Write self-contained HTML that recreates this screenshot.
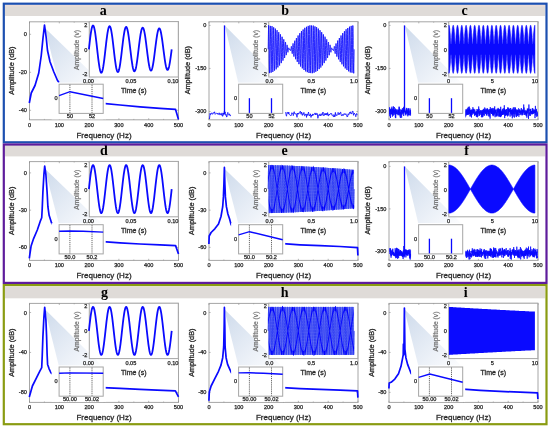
<!DOCTYPE html>
<html><head><meta charset="utf-8"><title>Figure</title>
<style>html,body{margin:0;padding:0;background:#fff;width:550px;height:428px;overflow:hidden}svg{display:block}</style>
</head><body>
<svg width="550" height="428" viewBox="0 0 550 428" font-family="'Liberation Sans', Arial, sans-serif">
<style>
.tk{font-size:5.6px;fill:#222;stroke:#222;stroke-width:0.25px}
.ax8{font-size:8px;fill:#2a2a2a;stroke:#2a2a2a;stroke-width:0.3px}
.ax7{font-size:7px;fill:#2a2a2a;stroke:#2a2a2a;stroke-width:0.3px}
.ax73{font-size:7.3px;fill:#2a2a2a;stroke:#2a2a2a;stroke-width:0.3px}
.av{font-size:6.8px;fill:#6e6e6e;stroke:#6e6e6e;stroke-width:0.2px}
</style>
<defs>
<linearGradient id="tri" gradientUnits="objectBoundingBox" x1="0" y1="0.1" x2="0.9" y2="1">
<stop offset="0" stop-color="#d0dcec"/>
<stop offset="1" stop-color="#fbfcfe"/>
</linearGradient>
</defs>
<rect width="550" height="428" fill="#fff"/>
<rect x="4.8" y="5.8" width="540.4" height="10.20" fill="#dfdbd8"/>
<rect x="4.8" y="5.0" width="540.4" height="1.6" fill="#ecdcd6"/>
<text x="103.3" y="14.70" font-family="'Liberation Serif', serif" font-weight="bold" font-size="14" text-anchor="middle" fill="#000">a</text>
<text x="285.2" y="14.70" font-family="'Liberation Serif', serif" font-weight="bold" font-size="14" text-anchor="middle" fill="#000">b</text>
<text x="464.6" y="14.70" font-family="'Liberation Serif', serif" font-weight="bold" font-size="14" text-anchor="middle" fill="#000">c</text>
<rect x="4.8" y="145.0" width="540.4" height="11.40" fill="#dfdbd8"/>
<text x="104.0" y="155.10" font-family="'Liberation Serif', serif" font-weight="bold" font-size="14" text-anchor="middle" fill="#000">d</text>
<text x="284.6" y="155.10" font-family="'Liberation Serif', serif" font-weight="bold" font-size="14" text-anchor="middle" fill="#000">e</text>
<text x="466.5" y="155.10" font-family="'Liberation Serif', serif" font-weight="bold" font-size="14" text-anchor="middle" fill="#000">f</text>
<rect x="4.8" y="286.8" width="540.4" height="11.50" fill="#dfdbd8"/>
<text x="104.4" y="297.00" font-family="'Liberation Serif', serif" font-weight="bold" font-size="14" text-anchor="middle" fill="#000">g</text>
<text x="284.7" y="297.00" font-family="'Liberation Serif', serif" font-weight="bold" font-size="14" text-anchor="middle" fill="#000">h</text>
<text x="465.7" y="297.00" font-family="'Liberation Serif', serif" font-weight="bold" font-size="14" text-anchor="middle" fill="#000">i</text>
<rect x="29.5" y="21.8" width="149.0" height="98.0" fill="none" stroke="#a6a6a6" stroke-width="1"/>
<text x="26.90" y="36.30" class="tk" text-anchor="end">0</text>
<text x="26.90" y="74.30" class="tk" text-anchor="end">-20</text>
<text x="26.90" y="112.30" class="tk" text-anchor="end">-40</text>
<path d="M29.50,119.80v-1.6M29.50,21.80v1.6M44.40,119.80v-0.9M44.40,21.80v0.9M59.30,119.80v-1.6M59.30,21.80v1.6M74.20,119.80v-0.9M74.20,21.80v0.9M89.10,119.80v-1.6M89.10,21.80v1.6M104.00,119.80v-0.9M104.00,21.80v0.9M118.90,119.80v-1.6M118.90,21.80v1.6M133.80,119.80v-0.9M133.80,21.80v0.9M148.70,119.80v-1.6M148.70,21.80v1.6M163.60,119.80v-0.9M163.60,21.80v0.9M178.50,119.80v-1.6M178.50,21.80v1.6M29.50,34.30h1.6M178.50,34.30h-1.6M29.50,72.30h1.6M178.50,72.30h-1.6M29.50,110.30h1.6M178.50,110.30h-1.6" stroke="#8a8a8a" stroke-width="0.6" fill="none"/>
<text x="29.50" y="126.80" class="tk" text-anchor="middle">0</text>
<text x="59.30" y="126.80" class="tk" text-anchor="middle">100</text>
<text x="89.10" y="126.80" class="tk" text-anchor="middle">200</text>
<text x="118.90" y="126.80" class="tk" text-anchor="middle">300</text>
<text x="148.70" y="126.80" class="tk" text-anchor="middle">400</text>
<text x="178.50" y="126.80" class="tk" text-anchor="middle">500</text>
<text x="104.00" y="137.80" class="ax8" text-anchor="middle">Frequency (Hz)</text>
<text transform="translate(14.10,70.60) rotate(-90)" class="ax73" text-anchor="middle">Amplitude (dB)</text>
<polygon points="44.70,27.65 59.10,84.20 103.20,84.20" fill="url(#tri)"/>
<polyline points="29.30,103.00 31.25,93.00 35.00,85.50 38.75,73.00 41.25,55.50 43.00,38.00 44.50,25.00 46.25,38.00 47.50,50.50 50.00,61.75 53.75,71.75 57.50,80.50 59.00,82.50" fill="none" stroke="#0a0aff" stroke-width="1.7" stroke-linejoin="round"/>
<polyline points="103.00,103.40 120.00,105.00 140.00,106.80 160.00,108.30 175.50,109.30 178.50,119.50" fill="none" stroke="#0a0aff" stroke-width="1.7" stroke-linejoin="round"/>
<rect x="51.60" y="82.60" width="54.10" height="36.70" fill="#fff"/>
<rect x="59.10" y="84.20" width="44.10" height="29.20" fill="#fff" stroke="#a6a6a6" stroke-width="1"/>
<line x1="69.90" y1="84.70" x2="69.90" y2="112.90" stroke="#333" stroke-width="0.75" stroke-dasharray="1.2,0.9"/>
<text x="69.90" y="118.00" class="tk" text-anchor="middle">50</text>
<line x1="92.00" y1="84.70" x2="92.00" y2="112.90" stroke="#333" stroke-width="0.75" stroke-dasharray="1.2,0.9"/>
<text x="92.00" y="118.00" class="tk" text-anchor="middle">52</text>
<text x="57.50" y="100.10" class="tk" text-anchor="end">0</text>
<polyline points="59.10,95.60 70.00,91.70 103.20,98.50" fill="none" stroke="#0a0aff" stroke-width="1.4"/>
<rect x="209.0" y="21.8" width="149.0" height="98.0" fill="none" stroke="#a6a6a6" stroke-width="1"/>
<text x="206.40" y="27.40" class="tk" text-anchor="end">0</text>
<text x="206.40" y="70.45" class="tk" text-anchor="end">-150</text>
<text x="206.40" y="112.60" class="tk" text-anchor="end">-300</text>
<path d="M209.00,119.80v-1.6M209.00,21.80v1.6M223.90,119.80v-0.9M223.90,21.80v0.9M238.80,119.80v-1.6M238.80,21.80v1.6M253.70,119.80v-0.9M253.70,21.80v0.9M268.60,119.80v-1.6M268.60,21.80v1.6M283.50,119.80v-0.9M283.50,21.80v0.9M298.40,119.80v-1.6M298.40,21.80v1.6M313.30,119.80v-0.9M313.30,21.80v0.9M328.20,119.80v-1.6M328.20,21.80v1.6M343.10,119.80v-0.9M343.10,21.80v0.9M358.00,119.80v-1.6M358.00,21.80v1.6M209.00,25.40h1.6M358.00,25.40h-1.6M209.00,68.45h1.6M358.00,68.45h-1.6M209.00,111.50h1.6M358.00,111.50h-1.6" stroke="#8a8a8a" stroke-width="0.6" fill="none"/>
<text x="209.00" y="126.80" class="tk" text-anchor="middle">0</text>
<text x="238.80" y="126.80" class="tk" text-anchor="middle">100</text>
<text x="268.60" y="126.80" class="tk" text-anchor="middle">200</text>
<text x="298.40" y="126.80" class="tk" text-anchor="middle">300</text>
<text x="328.20" y="126.80" class="tk" text-anchor="middle">400</text>
<text x="358.00" y="126.80" class="tk" text-anchor="middle">500</text>
<text x="283.50" y="137.80" class="ax8" text-anchor="middle">Frequency (Hz)</text>
<text transform="translate(190.40,70.20) rotate(-90)" class="ax73" text-anchor="middle">Amplitude (dB)</text>
<polygon points="224.80,25.40 238.60,84.20 282.70,84.20" fill="url(#tri)"/>
<polyline points="209.5,119.0 209.8,115.8 210.1,113.3 210.4,114.5 210.6,114.6 210.9,114.5 211.2,113.9 211.5,113.0 211.8,112.8 212.1,113.4 212.4,113.7 212.6,114.3 212.9,113.8 213.2,112.8 213.5,113.2 213.8,112.5 214.1,112.9 214.3,112.8 214.6,111.8 214.9,113.6 215.2,114.4 215.5,114.0 215.8,113.6 216.1,113.3 216.3,112.9 216.6,113.3 216.9,113.6 217.2,113.6 217.5,113.1 217.8,114.1 218.1,114.5 218.3,114.0 218.6,114.0 218.9,114.0 219.2,112.8 219.5,114.2 219.8,114.9 220.1,114.9 220.3,114.6 220.6,113.6 220.9,114.0 221.2,115.1 221.5,115.2 221.8,114.1 222.0,112.9 222.3,114.8 222.6,116.3 222.9,116.1 223.2,114.3 223.5,113.0 223.8,114.6 224.0,113.4 224.3,111.5 224.6,113.0 224.9,112.2 225.2,111.9 225.5,113.6 225.8,115.3 226.0,114.5 226.3,115.2 226.6,117.1 226.9,116.8 227.2,114.8 227.5,113.4 227.8,112.4 228.0,113.1 228.3,114.7 228.6,115.0 228.9,115.0 229.2,115.2 229.5,113.8 229.7,114.2 230.0,115.4 230.3,115.8 230.6,116.0 230.9,115.1" fill="none" stroke="#0a0aff" stroke-width="0.85"/>
<polyline points="285.4,112.1 285.6,113.1 285.9,114.6 286.2,115.5 286.5,116.2 286.8,114.1 287.1,112.1 287.3,112.4 287.6,112.4 287.9,112.7 288.2,114.0 288.5,112.9 288.8,112.0 289.1,114.2 289.3,114.6 289.6,114.7 289.9,114.8 290.2,115.1 290.5,115.2 290.8,115.9 291.1,115.5 291.3,115.1 291.6,114.3 291.9,112.7 292.2,113.4 292.5,114.0 292.8,113.8 293.1,113.5 293.3,115.6 293.6,114.6 293.9,112.2 294.2,111.7 294.5,113.2 294.8,113.8 295.0,113.5 295.3,113.8 295.6,113.8 295.9,114.3 296.2,113.7 296.5,114.4 296.8,116.5 297.0,117.3 297.3,114.0 297.6,113.0 297.9,113.5 298.2,114.3 298.5,113.1 298.8,113.2 299.0,113.6 299.3,112.7 299.6,112.6 299.9,112.4 300.2,111.1 300.5,111.5 300.8,113.3 301.0,114.2 301.3,113.4 301.6,112.0 301.9,113.3 302.2,115.3 302.5,115.3 302.7,114.1 303.0,113.5 303.3,114.4 303.6,113.4 303.9,112.4 304.2,113.5 304.5,115.7 304.7,115.7 305.0,115.5 305.3,114.7 305.6,114.9 305.9,113.9 306.2,114.9 306.5,117.4 306.7,116.0 307.0,114.0 307.3,114.1 307.6,115.2 307.9,115.6 308.2,113.5 308.5,112.0 308.7,113.2 309.0,114.2 309.3,115.0 309.6,116.0 309.9,115.6 310.2,114.9 310.4,113.8 310.7,115.7 311.0,117.4 311.3,116.2 311.6,115.0 311.9,115.4 312.2,116.0 312.4,114.0 312.7,114.0 313.0,115.1 313.3,115.2 313.6,114.3 313.9,114.3 314.2,114.2 314.4,114.3 314.7,113.7 315.0,112.9 315.3,114.2 315.6,114.9 315.9,113.5 316.2,113.9 316.4,114.5 316.7,113.4 317.0,113.6 317.3,113.6 317.6,116.1 317.9,118.3 318.1,117.5 318.4,115.2 318.7,115.1 319.0,114.8 319.3,115.1 319.6,115.6 319.9,113.9 320.1,114.9 320.4,115.3 320.7,116.0 321.0,114.8 321.3,113.7 321.6,114.6 321.9,115.3 322.1,114.9 322.4,114.7 322.7,113.0 323.0,112.0 323.3,114.7 323.6,115.6 323.9,114.8 324.1,114.9 324.4,115.3 324.7,113.9 325.0,113.2 325.3,114.3 325.6,115.0 325.8,113.7 326.1,114.8 326.4,113.6 326.7,113.3 327.0,115.2 327.3,114.2 327.6,112.6 327.8,113.7 328.1,115.7 328.4,115.9 328.7,114.5 329.0,114.9 329.3,115.0 329.6,114.0 329.8,114.4 330.1,114.2 330.4,113.5 330.7,113.5 331.0,114.2 331.3,114.1 331.6,113.5 331.8,114.0 332.1,115.5 332.4,115.4 332.7,115.9 333.0,116.3 333.3,116.5 333.5,116.8 333.8,114.7 334.1,114.7 334.4,115.1 334.7,117.0 335.0,116.2 335.3,112.4 335.5,112.6 335.8,115.0 336.1,115.8 336.4,115.5 336.7,114.7 337.0,115.1 337.3,115.2 337.5,114.9 337.8,114.5 338.1,112.4 338.4,113.6 338.7,113.8 339.0,114.9 339.2,114.1 339.5,113.3 339.8,114.0 340.1,113.0 340.4,112.2 340.7,112.1 341.0,113.8 341.2,115.3 341.5,115.6 341.8,115.0 342.1,115.5 342.4,114.7 342.7,114.4 343.0,115.4 343.2,115.6 343.5,114.3 343.8,113.8 344.1,114.0 344.4,113.9 344.7,113.7 345.0,114.9 345.2,114.5 345.5,114.3 345.8,113.7 346.1,114.5 346.4,114.7 346.7,114.9 346.9,116.6 347.2,116.4 347.5,116.9 347.8,115.9 348.1,113.8 348.4,113.8 348.7,114.7 348.9,114.6 349.2,114.3 349.5,113.2 349.8,112.0 350.1,112.3 350.4,111.8 350.7,113.5 350.9,113.3 351.2,113.1 351.5,113.9 351.8,113.9 352.1,112.0 352.4,111.2 352.7,111.4 352.9,111.1 353.2,113.0 353.5,115.3 353.8,114.1 354.1,114.0 354.4,113.1 354.6,113.9 354.9,114.0 355.2,114.3 355.5,115.7 355.8,116.7 356.1,115.3 356.4,114.1 356.6,113.5 356.9,114.4 357.2,114.6 357.5,115.1" fill="none" stroke="#0a0aff" stroke-width="0.85"/>
<line x1="224.50" y1="25.40" x2="224.50" y2="114.30" stroke="#0a0aff" stroke-width="1.3"/>
<rect x="231.10" y="82.60" width="54.10" height="36.70" fill="#fff"/>
<rect x="238.60" y="84.20" width="44.10" height="29.20" fill="#fff" stroke="#a6a6a6" stroke-width="1"/>
<text x="249.40" y="118.00" class="tk" text-anchor="middle">50</text>
<text x="271.50" y="118.00" class="tk" text-anchor="middle">52</text>
<text x="237.00" y="100.10" class="tk" text-anchor="end">0</text>
<line x1="249.40" y1="98.20" x2="249.40" y2="112.90" stroke="#0a0aff" stroke-width="1.3"/>
<line x1="271.50" y1="98.20" x2="271.50" y2="112.90" stroke="#0a0aff" stroke-width="1.3"/>
<rect x="389.0" y="21.8" width="149.0" height="98.0" fill="none" stroke="#a6a6a6" stroke-width="1"/>
<text x="386.40" y="27.40" class="tk" text-anchor="end">0</text>
<text x="386.40" y="70.45" class="tk" text-anchor="end">-150</text>
<text x="386.40" y="112.60" class="tk" text-anchor="end">-300</text>
<path d="M389.00,119.80v-1.6M389.00,21.80v1.6M403.90,119.80v-0.9M403.90,21.80v0.9M418.80,119.80v-1.6M418.80,21.80v1.6M433.70,119.80v-0.9M433.70,21.80v0.9M448.60,119.80v-1.6M448.60,21.80v1.6M463.50,119.80v-0.9M463.50,21.80v0.9M478.40,119.80v-1.6M478.40,21.80v1.6M493.30,119.80v-0.9M493.30,21.80v0.9M508.20,119.80v-1.6M508.20,21.80v1.6M523.10,119.80v-0.9M523.10,21.80v0.9M538.00,119.80v-1.6M538.00,21.80v1.6M389.00,25.40h1.6M538.00,25.40h-1.6M389.00,68.45h1.6M538.00,68.45h-1.6M389.00,111.50h1.6M538.00,111.50h-1.6" stroke="#8a8a8a" stroke-width="0.6" fill="none"/>
<text x="389.00" y="126.80" class="tk" text-anchor="middle">0</text>
<text x="418.80" y="126.80" class="tk" text-anchor="middle">100</text>
<text x="448.60" y="126.80" class="tk" text-anchor="middle">200</text>
<text x="478.40" y="126.80" class="tk" text-anchor="middle">300</text>
<text x="508.20" y="126.80" class="tk" text-anchor="middle">400</text>
<text x="538.00" y="126.80" class="tk" text-anchor="middle">500</text>
<text x="463.50" y="137.80" class="ax8" text-anchor="middle">Frequency (Hz)</text>
<text transform="translate(370.40,70.20) rotate(-90)" class="ax73" text-anchor="middle">Amplitude (dB)</text>
<polygon points="404.80,25.40 418.60,84.20 462.70,84.20" fill="url(#tri)"/>
<polyline points="389.5,116.3 389.6,107.3 389.7,111.4 389.8,114.2 389.9,111.3 390.0,110.2 390.1,111.5 390.2,108.8 390.3,112.4 390.5,118.0 390.6,114.8 390.7,109.4 390.8,110.0 390.9,111.1 391.0,114.5 391.1,110.1 391.2,110.4 391.3,114.2 391.4,114.2 391.5,111.2 391.6,109.4 391.7,108.4 391.8,110.4 391.9,106.7 392.0,113.9 392.1,110.6 392.3,113.3 392.4,116.6 392.5,114.9 392.6,109.3 392.7,114.2 392.8,114.9 392.9,110.3 393.0,109.8 393.1,111.8 393.2,108.3 393.3,115.6 393.4,106.3 393.5,109.4 393.6,111.5 393.7,111.6 393.8,112.5 393.9,112.8 394.0,111.6 394.2,114.8 394.3,107.0 394.4,112.1 394.5,110.4 394.6,112.4 394.7,112.6 394.8,109.9 394.9,110.6 395.0,114.0 395.1,112.9 395.2,110.5 395.3,117.0 395.4,117.6 395.5,108.6 395.6,112.8 395.7,118.1 395.8,114.0 396.0,112.6 396.1,111.6 396.2,110.8 396.3,111.6 396.4,110.8 396.5,113.9 396.6,111.1 396.7,111.0 396.8,109.2 396.9,112.0 397.0,110.0 397.1,111.7 397.2,114.6 397.3,113.0 397.4,113.3 397.5,113.0 397.6,112.2 397.8,111.8 397.9,111.4 398.0,113.9 398.1,109.5 398.2,115.3 398.3,112.2 398.4,110.3 398.5,110.9 398.6,110.5 398.7,112.5 398.8,110.4 398.9,114.8 399.0,110.2 399.1,106.6 399.2,110.3 399.3,107.3 399.4,112.0 399.6,114.6 399.7,113.7 399.8,108.9 399.9,110.3 400.0,116.4 400.1,112.9 400.2,112.1 400.3,114.6 400.4,118.0 400.5,115.2 400.6,112.4 400.7,113.0 400.8,113.6 400.9,110.6 401.0,109.6 401.1,112.2 401.2,109.8 401.3,112.0 401.5,112.3 401.6,117.7 401.7,110.1 401.8,111.8 401.9,111.7 402.0,113.1 402.1,114.6 402.2,110.9 402.3,110.1 402.4,108.2 402.5,109.9 402.6,113.4 402.7,112.2 402.8,109.7 402.9,111.2 403.0,112.2 403.1,113.3 403.3,110.7 403.4,111.5 403.5,107.7 403.6,109.3 403.7,116.0 403.8,106.8 403.9,111.3 404.0,112.6 404.1,111.2 404.2,110.2 404.3,112.0 404.4,112.1 404.5,111.9 404.6,107.6 404.7,111.7 404.8,110.0 404.9,110.8 405.1,112.6 405.2,113.6 405.3,114.3 405.4,110.9 405.5,114.3 405.6,114.9 405.7,114.8 405.8,115.4 405.9,111.8 406.0,111.7 406.1,114.1 406.2,108.8 406.3,112.6 406.4,110.8 406.5,111.2 406.6,107.9 406.7,110.0 406.8,112.1 407.0,114.2 407.1,114.5 407.2,111.9 407.3,111.6 407.4,110.1 407.5,113.1 407.6,111.5 407.7,113.6 407.8,116.3 407.9,112.0 408.0,108.5 408.1,110.0 408.2,108.6 408.3,109.2 408.4,115.2 408.5,112.6 408.6,108.5 408.8,113.7 408.9,115.1 409.0,111.2 409.1,110.5 409.2,111.3 409.3,112.8 409.4,113.6 409.5,114.9 409.6,115.0 409.7,114.9 409.8,115.4 409.9,113.7 410.0,108.4 410.1,111.8 410.2,112.9 410.3,111.2 410.4,114.3 410.6,111.2 410.7,109.9 410.8,115.6 410.9,113.7 411.0,112.6 411.1,114.3" fill="none" stroke="#0a0aff" stroke-width="0.75"/>
<polyline points="465.2,117.6 465.4,112.3 465.5,110.6 465.6,114.0 465.7,116.4 465.8,113.3 465.9,109.2 466.0,113.0 466.1,115.4 466.2,110.9 466.3,110.2 466.4,114.5 466.5,112.4 466.6,109.5 466.7,111.2 466.8,110.3 466.9,112.8 467.0,112.4 467.1,114.9 467.3,113.8 467.4,108.3 467.5,113.1 467.6,114.3 467.7,113.2 467.8,114.6 467.9,110.8 468.0,109.8 468.1,114.3 468.2,109.5 468.3,106.9 468.4,114.6 468.5,110.4 468.6,111.4 468.7,108.7 468.8,108.9 468.9,109.3 469.1,111.2 469.2,113.0 469.3,106.6 469.4,113.9 469.5,109.3 469.6,109.5 469.7,113.7 469.8,111.9 469.9,108.4 470.0,116.5 470.1,110.0 470.2,112.7 470.3,112.6 470.4,115.5 470.5,111.0 470.6,114.5 470.7,110.3 470.9,114.8 471.0,110.3 471.1,111.2 471.2,116.7 471.3,112.9 471.4,112.4 471.5,117.5 471.6,113.0 471.7,110.1 471.8,113.9 471.9,109.3 472.0,114.8 472.1,115.0 472.2,110.7 472.3,110.6 472.4,112.5 472.5,112.1 472.7,109.8 472.8,113.5 472.9,107.2 473.0,111.1 473.1,111.1 473.2,111.4 473.3,112.8 473.4,109.2 473.5,113.5 473.6,111.7 473.7,110.5 473.8,108.8 473.9,109.3 474.0,113.0 474.1,109.8 474.2,112.3 474.3,114.6 474.4,114.6 474.6,115.8 474.7,111.4 474.8,109.5 474.9,114.5 475.0,112.8 475.1,114.8 475.2,112.1 475.3,115.0 475.4,114.1 475.5,113.8 475.6,113.3 475.7,113.1 475.8,112.7 475.9,112.6 476.0,114.5 476.1,110.9 476.2,116.3 476.4,111.8 476.5,114.5 476.6,111.9 476.7,111.5 476.8,117.0 476.9,111.4 477.0,109.0 477.1,110.4 477.2,111.3 477.3,117.3 477.4,112.6 477.5,114.3 477.6,109.7 477.7,112.9 477.8,113.7 477.9,116.4 478.0,110.4 478.2,113.5 478.3,112.8 478.4,109.6 478.5,112.1 478.6,111.5 478.7,106.5 478.8,113.5 478.9,113.4 479.0,111.0 479.1,108.9 479.2,115.7 479.3,112.7 479.4,114.5 479.5,115.5 479.6,110.8 479.7,114.0 479.8,111.5 480.0,111.9 480.1,111.9 480.2,112.1 480.3,114.8 480.4,112.4 480.5,111.7 480.6,111.4 480.7,112.9 480.8,110.0 480.9,110.9 481.0,112.0 481.1,110.7 481.2,111.8 481.3,110.6 481.4,116.9 481.5,115.3 481.6,113.2 481.7,112.0 481.9,117.4 482.0,112.9 482.1,111.9 482.2,112.8 482.3,112.8 482.4,115.5 482.5,112.1 482.6,117.1 482.7,110.0 482.8,113.8 482.9,109.7 483.0,116.5 483.1,111.3 483.2,112.0 483.3,114.3 483.4,115.1 483.5,109.4 483.7,111.3 483.8,108.8 483.9,112.4 484.0,111.9 484.1,111.3 484.2,110.5 484.3,111.2 484.4,110.3 484.5,113.4 484.6,115.7 484.7,107.5 484.8,111.8 484.9,111.1 485.0,113.3 485.1,109.8 485.2,111.7 485.3,109.6 485.5,113.8 485.6,112.3 485.7,111.7 485.8,113.0 485.9,111.5 486.0,108.4 486.1,113.5 486.2,112.8 486.3,111.7 486.4,114.5 486.5,115.0 486.6,109.5 486.7,110.2 486.8,115.8 486.9,115.5 487.0,110.3 487.1,109.3 487.2,110.6 487.4,110.9 487.5,108.3 487.6,112.2 487.7,109.0 487.8,109.2 487.9,114.3 488.0,110.5 488.1,111.9 488.2,113.6 488.3,114.1 488.4,111.3 488.5,112.2 488.6,110.1 488.7,116.3 488.8,113.7 488.9,109.5 489.0,112.1 489.2,113.8 489.3,113.3 489.4,116.5 489.5,115.4 489.6,110.8 489.7,111.9 489.8,109.0 489.9,112.7 490.0,112.5 490.1,118.6 490.2,112.3 490.3,107.1 490.4,110.5 490.5,112.4 490.6,109.1 490.7,110.0 490.8,111.2 491.0,112.9 491.1,111.7 491.2,110.0 491.3,114.0 491.4,110.8 491.5,110.9 491.6,108.8 491.7,110.2 491.8,113.7 491.9,108.2 492.0,111.9 492.1,113.8 492.2,111.2 492.3,112.7 492.4,109.4 492.5,115.2 492.6,114.7 492.8,112.7 492.9,107.9 493.0,109.6 493.1,114.4 493.2,116.2 493.3,112.8 493.4,115.1 493.5,110.6 493.6,111.6 493.7,112.1 493.8,113.1 493.9,108.4 494.0,114.4 494.1,115.3 494.2,109.3 494.3,108.8 494.4,112.9 494.5,110.5 494.7,106.4 494.8,114.0 494.9,112.5 495.0,111.0 495.1,117.2 495.2,112.4 495.3,110.3 495.4,112.3 495.5,109.6 495.6,110.3 495.7,113.0 495.8,110.8 495.9,111.0 496.0,116.1 496.1,114.2 496.2,114.0 496.3,113.4 496.5,113.3 496.6,115.6 496.7,112.1 496.8,116.6 496.9,109.8 497.0,111.5 497.1,108.8 497.2,111.3 497.3,113.3 497.4,115.6 497.5,110.5 497.6,112.1 497.7,111.2 497.8,110.3 497.9,109.2 498.0,112.2 498.1,107.9 498.3,112.4 498.4,112.2 498.5,110.5 498.6,109.7 498.7,108.8 498.8,116.6 498.9,108.9 499.0,115.8 499.1,113.5 499.2,111.2 499.3,109.3 499.4,114.6 499.5,116.3 499.6,109.9 499.7,111.4 499.8,114.6 499.9,112.9 500.1,116.9 500.2,110.7 500.3,113.4 500.4,109.1 500.5,117.1 500.6,110.3 500.7,106.8 500.8,111.8 500.9,111.8 501.0,116.7 501.1,111.3 501.2,112.1 501.3,113.5 501.4,115.9 501.5,111.9 501.6,114.6 501.7,113.3 501.8,111.4 502.0,112.3 502.1,112.2 502.2,109.9 502.3,115.0 502.4,108.8 502.5,114.9 502.6,114.4 502.7,111.9 502.8,110.3 502.9,111.6 503.0,113.2 503.1,113.9 503.2,112.8 503.3,114.5 503.4,110.8 503.5,112.7 503.6,108.3 503.8,113.9 503.9,112.5 504.0,111.1 504.1,114.9 504.2,113.8 504.3,105.3 504.4,112.2 504.5,108.6 504.6,114.7 504.7,118.1 504.8,110.9 504.9,112.3 505.0,111.5 505.1,112.9 505.2,113.6 505.3,115.2 505.4,109.7 505.6,115.9 505.7,109.9 505.8,112.8 505.9,114.9 506.0,113.8 506.1,109.8 506.2,110.4 506.3,111.0 506.4,112.0 506.5,114.9 506.6,109.0 506.7,113.2 506.8,113.6 506.9,113.4 507.0,113.2 507.1,115.7 507.2,113.3 507.3,114.2 507.5,113.5 507.6,116.4 507.7,107.5 507.8,115.2 507.9,111.5 508.0,111.4 508.1,109.8 508.2,107.6 508.3,111.2 508.4,110.5 508.5,113.3 508.6,108.6 508.7,115.5 508.8,112.8 508.9,111.5 509.0,110.4 509.1,110.2 509.3,109.4 509.4,110.8 509.5,112.1 509.6,111.7 509.7,108.7 509.8,111.5 509.9,110.0 510.0,112.5 510.1,116.6 510.2,113.6 510.3,111.3 510.4,108.2 510.5,108.7 510.6,108.1 510.7,113.8 510.8,110.3 510.9,112.3 511.1,110.6 511.2,112.3 511.3,115.5 511.4,110.5 511.5,111.3 511.6,110.2 511.7,114.2 511.8,109.6 511.9,109.4 512.0,108.8 512.1,108.7 512.2,113.2 512.3,118.3 512.4,109.7 512.5,114.4 512.6,112.7 512.7,109.5 512.9,111.4 513.0,111.5 513.1,110.4 513.2,116.7 513.3,107.5 513.4,113.0 513.5,112.9 513.6,110.7 513.7,112.5 513.8,114.2 513.9,112.5 514.0,113.1 514.1,113.8 514.2,107.2 514.3,115.6 514.4,117.6 514.5,114.5 514.6,114.5 514.8,108.7 514.9,111.8 515.0,110.2 515.1,110.7 515.2,114.4 515.3,110.2 515.4,111.8 515.5,107.5 515.6,111.7 515.7,112.3 515.8,110.4 515.9,110.4 516.0,116.6 516.1,109.2 516.2,109.6 516.3,110.2 516.4,115.0 516.6,117.1 516.7,112.9 516.8,110.4 516.9,111.1 517.0,114.7 517.1,109.9 517.2,115.6 517.3,115.5 517.4,112.3 517.5,113.7 517.6,113.9 517.7,115.8 517.8,109.6 517.9,114.9 518.0,111.2 518.1,110.3 518.2,112.3 518.4,111.6 518.5,109.7 518.6,108.3 518.7,109.8 518.8,115.6 518.9,116.8 519.0,113.7 519.1,114.9 519.2,110.9 519.3,111.9 519.4,112.8 519.5,109.5 519.6,109.7 519.7,112.3 519.8,111.3 519.9,109.5 520.0,113.0 520.2,111.5 520.3,114.6 520.4,112.1 520.5,111.4 520.6,112.4 520.7,111.7 520.8,110.5 520.9,111.1 521.0,113.9 521.1,113.7 521.2,115.2 521.3,108.0 521.4,111.2 521.5,111.1 521.6,112.5 521.7,111.0 521.8,110.9 521.9,114.0 522.1,112.5 522.2,109.3 522.3,115.3 522.4,114.5 522.5,110.7 522.6,114.1 522.7,110.3 522.8,114.8 522.9,111.6 523.0,110.2 523.1,111.2 523.2,110.3 523.3,112.6 523.4,112.5 523.5,112.2 523.6,110.8 523.7,104.5 523.9,112.3 524.0,107.5 524.1,112.7 524.2,114.8 524.3,112.8 524.4,111.2 524.5,111.7 524.6,111.8 524.7,110.8 524.8,110.7 524.9,109.9 525.0,115.0 525.1,112.1 525.2,114.4 525.3,111.5 525.4,112.3 525.5,111.7 525.7,113.2 525.8,114.1 525.9,112.7 526.0,110.5 526.1,110.2 526.2,116.1 526.3,111.4 526.4,111.4 526.5,115.6 526.6,114.7 526.7,113.4 526.8,111.1 526.9,117.7 527.0,113.0 527.1,113.4 527.2,111.7 527.3,108.7 527.4,108.9 527.6,113.1 527.7,113.0 527.8,111.5 527.9,109.3 528.0,108.6 528.1,111.3 528.2,108.6 528.3,114.3 528.4,114.9 528.5,118.9 528.6,114.2 528.7,110.7 528.8,110.0 528.9,104.5 529.0,110.7 529.1,111.7 529.2,114.4 529.4,113.6 529.5,113.5 529.6,112.6 529.7,113.7 529.8,115.6 529.9,109.5 530.0,111.0 530.1,108.8 530.2,116.0 530.3,115.2 530.4,113.9 530.5,109.2 530.6,112.5 530.7,111.5 530.8,112.3 530.9,111.6 531.0,113.3 531.2,111.2 531.3,114.2 531.4,112.7 531.5,111.4 531.6,111.8 531.7,111.0 531.8,114.1 531.9,111.4 532.0,112.8 532.1,111.2 532.2,108.5 532.3,114.3 532.4,109.6 532.5,113.7 532.6,113.1 532.7,108.1 532.8,109.8 533.0,110.9 533.1,110.1 533.2,109.3 533.3,113.9 533.4,111.5 533.5,113.0 533.6,111.1 533.7,112.8 533.8,110.3 533.9,112.0 534.0,113.5 534.1,112.2 534.2,111.0 534.3,109.5 534.4,112.5 534.5,112.9 534.6,111.5 534.7,110.3 534.9,113.4 535.0,118.1 535.1,111.4 535.2,112.9 535.3,113.0 535.4,105.9 535.5,112.4 535.6,110.4 535.7,115.4 535.8,111.5 535.9,110.2 536.0,111.6 536.1,112.5 536.2,110.8 536.3,112.0 536.4,108.9 536.5,111.6 536.7,114.0 536.8,116.8 536.9,113.8 537.0,112.8 537.1,114.9 537.2,114.5 537.3,116.1 537.4,114.7 537.5,111.8" fill="none" stroke="#0a0aff" stroke-width="0.75"/>
<line x1="404.50" y1="25.40" x2="404.50" y2="112.10" stroke="#0a0aff" stroke-width="1.3"/>
<rect x="411.10" y="82.60" width="54.10" height="36.70" fill="#fff"/>
<rect x="418.60" y="84.20" width="44.10" height="29.20" fill="#fff" stroke="#a6a6a6" stroke-width="1"/>
<text x="429.40" y="118.00" class="tk" text-anchor="middle">50</text>
<text x="451.50" y="118.00" class="tk" text-anchor="middle">52</text>
<text x="417.00" y="100.10" class="tk" text-anchor="end">0</text>
<line x1="429.40" y1="98.20" x2="429.40" y2="112.90" stroke="#0a0aff" stroke-width="1.3"/>
<line x1="451.50" y1="98.20" x2="451.50" y2="112.90" stroke="#0a0aff" stroke-width="1.3"/>
<rect x="29.5" y="161.6" width="149.0" height="98.79999999999998" fill="none" stroke="#a6a6a6" stroke-width="1"/>
<text x="26.90" y="174.90" class="tk" text-anchor="end">0</text>
<text x="26.90" y="212.15" class="tk" text-anchor="end">-30</text>
<text x="26.90" y="249.40" class="tk" text-anchor="end">-60</text>
<path d="M29.50,260.40v-1.6M29.50,161.60v1.6M44.40,260.40v-0.9M44.40,161.60v0.9M59.30,260.40v-1.6M59.30,161.60v1.6M74.20,260.40v-0.9M74.20,161.60v0.9M89.10,260.40v-1.6M89.10,161.60v1.6M104.00,260.40v-0.9M104.00,161.60v0.9M118.90,260.40v-1.6M118.90,161.60v1.6M133.80,260.40v-0.9M133.80,161.60v0.9M148.70,260.40v-1.6M148.70,161.60v1.6M163.60,260.40v-0.9M163.60,161.60v0.9M178.50,260.40v-1.6M178.50,161.60v1.6M29.50,172.90h1.6M178.50,172.90h-1.6M29.50,210.15h1.6M178.50,210.15h-1.6M29.50,247.40h1.6M178.50,247.40h-1.6" stroke="#8a8a8a" stroke-width="0.6" fill="none"/>
<text x="29.50" y="267.40" class="tk" text-anchor="middle">0</text>
<text x="59.30" y="267.40" class="tk" text-anchor="middle">100</text>
<text x="89.10" y="267.40" class="tk" text-anchor="middle">200</text>
<text x="118.90" y="267.40" class="tk" text-anchor="middle">300</text>
<text x="148.70" y="267.40" class="tk" text-anchor="middle">400</text>
<text x="178.50" y="267.40" class="tk" text-anchor="middle">500</text>
<text x="104.00" y="278.40" class="ax8" text-anchor="middle">Frequency (Hz)</text>
<text transform="translate(14.10,210.80) rotate(-90)" class="ax73" text-anchor="middle">Amplitude (dB)</text>
<polygon points="44.70,168.55 59.10,224.70 103.20,224.70" fill="url(#tri)"/>
<polyline points="29.30,258.30 31.10,246.00 33.60,238.60 37.30,230.00 40.20,221.40 41.70,217.70 42.20,209.00 42.90,192.00 43.90,174.70 44.70,166.10 45.90,174.70 47.10,192.00 47.90,206.70 49.10,215.30 51.50,222.70 53.00,225.00" fill="none" stroke="#0a0aff" stroke-width="1.7" stroke-linejoin="round"/>
<polyline points="103.00,241.70 120.00,242.90 140.00,244.00 160.00,244.90 175.60,245.60 178.50,254.00" fill="none" stroke="#0a0aff" stroke-width="1.7" stroke-linejoin="round"/>
<rect x="51.60" y="223.10" width="54.10" height="36.80" fill="#fff"/>
<rect x="59.10" y="224.70" width="44.10" height="29.20" fill="#fff" stroke="#a6a6a6" stroke-width="1"/>
<line x1="69.90" y1="225.20" x2="69.90" y2="253.40" stroke="#333" stroke-width="0.75" stroke-dasharray="1.2,0.9"/>
<text x="69.90" y="258.50" class="tk" text-anchor="middle">50.0</text>
<line x1="92.00" y1="225.20" x2="92.00" y2="253.40" stroke="#333" stroke-width="0.75" stroke-dasharray="1.2,0.9"/>
<text x="92.00" y="258.50" class="tk" text-anchor="middle">50.2</text>
<text x="57.50" y="240.60" class="tk" text-anchor="end">0</text>
<polyline points="59.10,231.20 70.00,231.00 83.10,231.30 103.20,232.10" fill="none" stroke="#0a0aff" stroke-width="1.4"/>
<rect x="209.0" y="161.6" width="149.0" height="98.79999999999998" fill="none" stroke="#a6a6a6" stroke-width="1"/>
<text x="206.40" y="174.90" class="tk" text-anchor="end">0</text>
<text x="206.40" y="212.15" class="tk" text-anchor="end">-30</text>
<text x="206.40" y="249.40" class="tk" text-anchor="end">-60</text>
<path d="M209.00,260.40v-1.6M209.00,161.60v1.6M223.90,260.40v-0.9M223.90,161.60v0.9M238.80,260.40v-1.6M238.80,161.60v1.6M253.70,260.40v-0.9M253.70,161.60v0.9M268.60,260.40v-1.6M268.60,161.60v1.6M283.50,260.40v-0.9M283.50,161.60v0.9M298.40,260.40v-1.6M298.40,161.60v1.6M313.30,260.40v-0.9M313.30,161.60v0.9M328.20,260.40v-1.6M328.20,161.60v1.6M343.10,260.40v-0.9M343.10,161.60v0.9M358.00,260.40v-1.6M358.00,161.60v1.6M209.00,172.90h1.6M358.00,172.90h-1.6M209.00,210.15h1.6M358.00,210.15h-1.6M209.00,247.40h1.6M358.00,247.40h-1.6" stroke="#8a8a8a" stroke-width="0.6" fill="none"/>
<text x="209.00" y="267.40" class="tk" text-anchor="middle">0</text>
<text x="238.80" y="267.40" class="tk" text-anchor="middle">100</text>
<text x="268.60" y="267.40" class="tk" text-anchor="middle">200</text>
<text x="298.40" y="267.40" class="tk" text-anchor="middle">300</text>
<text x="328.20" y="267.40" class="tk" text-anchor="middle">400</text>
<text x="358.00" y="267.40" class="tk" text-anchor="middle">500</text>
<text x="283.50" y="278.40" class="ax8" text-anchor="middle">Frequency (Hz)</text>
<text transform="translate(193.60,210.80) rotate(-90)" class="ax73" text-anchor="middle">Amplitude (dB)</text>
<polygon points="224.20,168.55 238.60,224.70 282.70,224.70" fill="url(#tri)"/>
<polyline points="208.90,244.00 209.20,236.00 211.10,232.50 214.80,228.80 218.50,223.90 221.00,216.50 222.70,206.70 223.40,196.90 223.90,184.60 224.40,167.40 224.90,184.60 225.40,196.90 226.40,206.70 227.90,214.00 229.60,219.00 231.00,224.40 232.00,226.00" fill="none" stroke="#0a0aff" stroke-width="1.7" stroke-linejoin="round"/>
<polyline points="283.00,243.70 300.00,244.80 320.00,245.70 340.00,246.50 357.50,247.60 357.90,255.50" fill="none" stroke="#0a0aff" stroke-width="1.7" stroke-linejoin="round"/>
<rect x="231.10" y="223.10" width="54.10" height="36.80" fill="#fff"/>
<rect x="238.60" y="224.70" width="44.10" height="29.20" fill="#fff" stroke="#a6a6a6" stroke-width="1"/>
<line x1="249.40" y1="225.20" x2="249.40" y2="253.40" stroke="#333" stroke-width="0.75" stroke-dasharray="1.2,0.9"/>
<text x="249.40" y="258.50" class="tk" text-anchor="middle">50.0</text>
<line x1="271.50" y1="225.20" x2="271.50" y2="253.40" stroke="#333" stroke-width="0.75" stroke-dasharray="1.2,0.9"/>
<text x="271.50" y="258.50" class="tk" text-anchor="middle">50.2</text>
<text x="237.00" y="240.60" class="tk" text-anchor="end">0</text>
<polyline points="238.60,234.80 249.50,231.70 282.70,239.80" fill="none" stroke="#0a0aff" stroke-width="1.4"/>
<rect x="389.0" y="161.6" width="149.0" height="98.79999999999998" fill="none" stroke="#a6a6a6" stroke-width="1"/>
<text x="386.40" y="168.40" class="tk" text-anchor="end">0</text>
<text x="386.40" y="210.90" class="tk" text-anchor="end">-150</text>
<text x="386.40" y="253.40" class="tk" text-anchor="end">-300</text>
<path d="M389.00,260.40v-1.6M389.00,161.60v1.6M403.90,260.40v-0.9M403.90,161.60v0.9M418.80,260.40v-1.6M418.80,161.60v1.6M433.70,260.40v-0.9M433.70,161.60v0.9M448.60,260.40v-1.6M448.60,161.60v1.6M463.50,260.40v-0.9M463.50,161.60v0.9M478.40,260.40v-1.6M478.40,161.60v1.6M493.30,260.40v-0.9M493.30,161.60v0.9M508.20,260.40v-1.6M508.20,161.60v1.6M523.10,260.40v-0.9M523.10,161.60v0.9M538.00,260.40v-1.6M538.00,161.60v1.6M389.00,166.40h1.6M538.00,166.40h-1.6M389.00,208.90h1.6M538.00,208.90h-1.6M389.00,251.40h1.6M538.00,251.40h-1.6" stroke="#8a8a8a" stroke-width="0.6" fill="none"/>
<text x="389.00" y="267.40" class="tk" text-anchor="middle">0</text>
<text x="418.80" y="267.40" class="tk" text-anchor="middle">100</text>
<text x="448.60" y="267.40" class="tk" text-anchor="middle">200</text>
<text x="478.40" y="267.40" class="tk" text-anchor="middle">300</text>
<text x="508.20" y="267.40" class="tk" text-anchor="middle">400</text>
<text x="538.00" y="267.40" class="tk" text-anchor="middle">500</text>
<text x="463.50" y="278.40" class="ax8" text-anchor="middle">Frequency (Hz)</text>
<text transform="translate(370.40,210.40) rotate(-90)" class="ax73" text-anchor="middle">Amplitude (dB)</text>
<polygon points="404.80,166.40 418.60,224.70 462.70,224.70" fill="url(#tri)"/>
<polyline points="389.5,253.8 389.6,253.6 389.7,253.9 389.8,253.7 389.9,251.3 390.0,248.2 390.1,251.6 390.2,248.3 390.3,253.4 390.5,253.2 390.6,249.2 390.7,254.9 390.8,255.3 390.9,253.4 391.0,257.2 391.1,257.7 391.2,250.3 391.3,255.7 391.4,254.3 391.5,254.2 391.6,255.4 391.7,251.5 391.8,251.8 391.9,251.2 392.0,251.4 392.1,253.0 392.3,249.7 392.4,250.7 392.5,254.6 392.6,253.0 392.7,254.1 392.8,248.7 392.9,251.3 393.0,251.9 393.1,253.3 393.2,251.8 393.3,255.4 393.4,253.1 393.5,253.2 393.6,253.2 393.7,254.9 393.8,252.1 393.9,255.9 394.0,254.3 394.2,253.6 394.3,253.3 394.4,254.4 394.5,255.6 394.6,255.5 394.7,254.1 394.8,255.3 394.9,253.5 395.0,256.2 395.1,253.1 395.2,248.2 395.3,256.4 395.4,253.5 395.5,250.4 395.6,252.7 395.7,251.1 395.8,258.2 396.0,254.4 396.1,249.4 396.2,254.5 396.3,252.2 396.4,257.8 396.5,250.7 396.6,247.8 396.7,253.4 396.8,252.4 396.9,252.2 397.0,248.1 397.1,254.2 397.2,257.2 397.3,248.6 397.4,256.0 397.5,251.8 397.6,258.8 397.8,254.2 397.9,252.7 398.0,255.9 398.1,254.5 398.2,251.8 398.3,254.9 398.4,252.0 398.5,248.9 398.6,258.1 398.7,252.4 398.8,251.7 398.9,254.0 399.0,249.5 399.1,250.0 399.2,252.0 399.3,252.0 399.4,253.4 399.6,255.9 399.7,252.1 399.8,254.4 399.9,254.6 400.0,250.6 400.1,253.7 400.2,250.9 400.3,255.8 400.4,254.3 400.5,253.2 400.6,250.0 400.7,253.5 400.8,251.4 400.9,254.9 401.0,252.9 401.1,251.3 401.2,255.4 401.3,254.9 401.5,251.8 401.6,256.0 401.7,252.5 401.8,252.5 401.9,253.5 402.0,251.4 402.1,252.1 402.2,252.8 402.3,256.9 402.4,256.8 402.5,252.6 402.6,257.1 402.7,253.1 402.8,254.1 402.9,255.3 403.0,253.9 403.1,259.0 403.3,253.8 403.4,250.3 403.5,256.3 403.6,252.2 403.7,252.5 403.8,246.0 403.9,255.6 404.0,255.2 404.1,255.1 404.2,255.5 404.3,257.3 404.4,253.1 404.5,255.5 404.6,251.4 404.7,252.4 404.8,255.7 404.9,254.1 405.1,250.0 405.2,254.1 405.3,252.8 405.4,251.2 405.5,254.2 405.6,252.2 405.7,249.4 405.8,250.5 405.9,257.4 406.0,249.6 406.1,253.7 406.2,254.7 406.3,254.7 406.4,250.3 406.5,252.4 406.6,253.5 406.7,255.1 406.8,251.7 407.0,250.4 407.1,255.6 407.2,255.9 407.3,254.1 407.4,251.7 407.5,254.2 407.6,253.5 407.7,255.2 407.8,250.2 407.9,253.5 408.0,252.8 408.1,250.5 408.2,253.7 408.3,253.3 408.4,252.2 408.5,254.2 408.6,249.8 408.8,253.1 408.9,254.2 409.0,253.9 409.1,255.8 409.2,250.3 409.3,249.6 409.4,253.8 409.5,254.3 409.6,258.3 409.7,254.7 409.8,251.1 409.9,255.1 410.0,251.2 410.1,249.6 410.2,259.5 410.3,254.0 410.4,254.9 410.6,254.6 410.7,257.5 410.8,253.9 410.9,256.1 411.0,250.7 411.1,249.9" fill="none" stroke="#0a0aff" stroke-width="0.75"/>
<polyline points="465.2,253.3 465.4,255.3 465.5,256.4 465.6,255.6 465.7,251.7 465.8,252.8 465.9,253.5 466.0,250.8 466.1,254.3 466.2,255.7 466.3,252.0 466.4,257.9 466.5,252.5 466.6,252.7 466.7,252.6 466.8,251.5 466.9,254.2 467.0,253.2 467.1,257.2 467.3,254.7 467.4,254.5 467.5,252.7 467.6,249.8 467.7,253.0 467.8,251.2 467.9,255.5 468.0,253.1 468.1,257.2 468.2,255.0 468.3,255.2 468.4,253.8 468.5,253.7 468.6,254.8 468.7,255.4 468.8,251.5 468.9,254.4 469.1,259.5 469.2,253.0 469.3,252.6 469.4,251.5 469.5,249.7 469.6,256.1 469.7,253.3 469.8,253.9 469.9,257.6 470.0,259.2 470.1,251.1 470.2,255.7 470.3,254.7 470.4,254.2 470.5,254.4 470.6,253.1 470.7,257.0 470.9,254.7 471.0,254.0 471.1,256.2 471.2,255.4 471.3,254.3 471.4,254.0 471.5,257.4 471.6,254.4 471.7,253.0 471.8,251.1 471.9,252.4 472.0,250.7 472.1,253.5 472.2,253.8 472.3,248.3 472.4,253.3 472.5,254.8 472.7,253.6 472.8,250.9 472.9,256.3 473.0,251.5 473.1,250.3 473.2,250.6 473.3,253.2 473.4,255.6 473.5,256.0 473.6,253.7 473.7,250.3 473.8,251.6 473.9,251.1 474.0,252.8 474.1,248.9 474.2,253.5 474.3,254.8 474.4,252.8 474.6,254.3 474.7,251.0 474.8,249.7 474.9,251.7 475.0,256.0 475.1,255.7 475.2,252.1 475.3,256.1 475.4,252.4 475.5,256.8 475.6,254.4 475.7,252.1 475.8,255.1 475.9,251.3 476.0,251.0 476.1,249.7 476.2,253.8 476.4,253.1 476.5,253.0 476.6,252.2 476.7,256.7 476.8,252.2 476.9,251.5 477.0,256.2 477.1,256.6 477.2,254.0 477.3,249.0 477.4,251.8 477.5,254.7 477.6,253.2 477.7,256.9 477.8,249.9 477.9,254.8 478.0,251.7 478.2,256.4 478.3,253.0 478.4,255.7 478.5,251.6 478.6,249.8 478.7,250.5 478.8,251.7 478.9,250.7 479.0,256.1 479.1,256.4 479.2,253.9 479.3,250.7 479.4,252.9 479.5,251.6 479.6,256.7 479.7,254.0 479.8,254.4 480.0,252.2 480.1,248.4 480.2,251.3 480.3,250.5 480.4,254.1 480.5,253.4 480.6,251.3 480.7,252.3 480.8,257.0 480.9,250.9 481.0,251.0 481.1,252.7 481.2,251.5 481.3,252.2 481.4,254.5 481.5,257.4 481.6,248.9 481.7,253.2 481.9,253.3 482.0,253.0 482.1,252.8 482.2,252.4 482.3,255.6 482.4,252.1 482.5,252.9 482.6,253.2 482.7,253.5 482.8,252.8 482.9,255.6 483.0,253.2 483.1,253.6 483.2,253.1 483.3,250.8 483.4,251.2 483.5,250.7 483.7,253.7 483.8,251.5 483.9,250.7 484.0,253.8 484.1,254.5 484.2,249.0 484.3,257.3 484.4,253.3 484.5,252.9 484.6,255.8 484.7,253.4 484.8,251.8 484.9,258.5 485.0,250.6 485.1,253.0 485.2,255.2 485.3,250.6 485.5,253.0 485.6,254.1 485.7,259.0 485.8,251.1 485.9,253.1 486.0,254.8 486.1,253.4 486.2,250.3 486.3,254.2 486.4,253.5 486.5,254.3 486.6,255.9 486.7,255.6 486.8,254.2 486.9,253.9 487.0,250.6 487.1,252.9 487.2,253.7 487.4,252.2 487.5,253.4 487.6,251.2 487.7,256.9 487.8,258.4 487.9,252.3 488.0,254.2 488.1,252.6 488.2,256.2 488.3,254.2 488.4,253.4 488.5,252.7 488.6,253.5 488.7,250.8 488.8,254.8 488.9,251.5 489.0,254.5 489.2,253.5 489.3,255.8 489.4,253.2 489.5,255.7 489.6,251.0 489.7,254.7 489.8,252.7 489.9,253.7 490.0,253.4 490.1,255.4 490.2,248.4 490.3,254.0 490.4,249.6 490.5,256.1 490.6,248.5 490.7,250.8 490.8,249.2 491.0,257.1 491.1,250.1 491.2,253.5 491.3,251.9 491.4,248.9 491.5,252.4 491.6,254.8 491.7,252.8 491.8,255.5 491.9,252.3 492.0,253.2 492.1,252.3 492.2,254.0 492.3,257.8 492.4,254.1 492.5,253.7 492.6,251.7 492.8,251.4 492.9,256.7 493.0,250.5 493.1,251.0 493.2,253.0 493.3,252.2 493.4,257.9 493.5,247.5 493.6,254.1 493.7,254.9 493.8,250.5 493.9,251.7 494.0,254.2 494.1,257.1 494.2,251.0 494.3,249.4 494.4,255.5 494.5,256.9 494.7,252.4 494.8,247.9 494.9,256.7 495.0,252.7 495.1,255.9 495.2,253.1 495.3,252.3 495.4,252.1 495.5,256.7 495.6,256.6 495.7,248.1 495.8,251.0 495.9,257.5 496.0,252.3 496.1,249.9 496.2,253.2 496.3,252.9 496.5,253.0 496.6,252.0 496.7,252.5 496.8,252.1 496.9,254.0 497.0,251.2 497.1,252.5 497.2,252.9 497.3,256.3 497.4,254.1 497.5,252.9 497.6,254.5 497.7,254.2 497.8,255.8 497.9,254.4 498.0,257.5 498.1,256.4 498.3,253.1 498.4,252.2 498.5,255.3 498.6,254.4 498.7,253.0 498.8,249.7 498.9,248.8 499.0,254.0 499.1,255.1 499.2,255.1 499.3,250.1 499.4,255.7 499.5,251.9 499.6,254.1 499.7,254.2 499.8,251.3 499.9,251.8 500.1,248.2 500.2,251.0 500.3,248.9 500.4,254.2 500.5,253.3 500.6,255.4 500.7,254.1 500.8,251.7 500.9,254.0 501.0,252.3 501.1,254.7 501.2,254.0 501.3,250.8 501.4,253.2 501.5,253.3 501.6,252.5 501.7,255.3 501.8,257.3 502.0,252.3 502.1,252.4 502.2,247.8 502.3,252.9 502.4,252.2 502.5,248.0 502.6,253.9 502.7,254.6 502.8,251.4 502.9,252.3 503.0,250.9 503.1,255.0 503.2,249.6 503.3,252.4 503.4,257.9 503.5,253.3 503.6,254.3 503.8,252.8 503.9,250.4 504.0,253.1 504.1,254.2 504.2,250.7 504.3,254.0 504.4,256.2 504.5,255.8 504.6,249.4 504.7,250.9 504.8,249.3 504.9,255.8 505.0,254.7 505.1,254.9 505.2,251.1 505.3,250.4 505.4,253.4 505.6,253.4 505.7,251.1 505.8,253.5 505.9,254.7 506.0,253.7 506.1,250.7 506.2,248.1 506.3,252.6 506.4,253.6 506.5,252.6 506.6,252.2 506.7,251.5 506.8,254.9 506.9,253.1 507.0,253.5 507.1,250.9 507.2,251.7 507.3,253.6 507.5,250.8 507.6,250.2 507.7,252.4 507.8,256.1 507.9,253.7 508.0,256.7 508.1,252.9 508.2,252.5 508.3,249.9 508.4,251.8 508.5,256.6 508.6,254.0 508.7,255.0 508.8,254.9 508.9,253.2 509.0,252.7 509.1,253.5 509.3,254.8 509.4,254.3 509.5,254.4 509.6,253.6 509.7,251.4 509.8,252.6 509.9,250.9 510.0,255.6 510.1,248.2 510.2,252.7 510.3,258.9 510.4,252.4 510.5,250.5 510.6,253.2 510.7,256.3 510.8,252.8 510.9,254.7 511.1,253.4 511.2,252.3 511.3,259.6 511.4,253.4 511.5,251.9 511.6,252.0 511.7,254.1 511.8,254.2 511.9,255.1 512.0,253.5 512.1,249.8 512.2,254.5 512.3,252.5 512.4,252.5 512.5,249.6 512.6,251.8 512.7,251.5 512.9,253.1 513.0,249.7 513.1,253.3 513.2,253.5 513.3,250.5 513.4,251.7 513.5,251.1 513.6,255.4 513.7,247.1 513.8,252.4 513.9,249.2 514.0,252.2 514.1,255.2 514.2,251.7 514.3,253.5 514.4,251.2 514.5,257.9 514.6,255.4 514.8,255.9 514.9,250.0 515.0,250.6 515.1,255.8 515.2,252.7 515.3,252.6 515.4,254.0 515.5,250.2 515.6,255.1 515.7,253.2 515.8,254.4 515.9,251.6 516.0,254.4 516.1,251.5 516.2,255.5 516.3,255.9 516.4,255.4 516.6,254.4 516.7,254.7 516.8,246.7 516.9,255.2 517.0,252.5 517.1,253.4 517.2,252.5 517.3,249.9 517.4,251.9 517.5,254.8 517.6,256.6 517.7,251.7 517.8,251.0 517.9,256.7 518.0,251.1 518.1,258.2 518.2,253.3 518.4,251.1 518.5,255.6 518.6,257.3 518.7,249.8 518.8,256.9 518.9,252.5 519.0,256.8 519.1,252.3 519.2,249.4 519.3,254.4 519.4,255.4 519.5,258.2 519.6,257.3 519.7,254.9 519.8,252.6 519.9,252.0 520.0,252.5 520.2,251.2 520.3,252.5 520.4,247.1 520.5,253.6 520.6,253.1 520.7,259.4 520.8,255.0 520.9,252.0 521.0,254.6 521.1,250.3 521.2,251.8 521.3,248.7 521.4,256.6 521.5,254.6 521.6,250.4 521.7,253.1 521.8,255.5 521.9,254.4 522.1,254.1 522.2,251.1 522.3,251.7 522.4,253.4 522.5,255.4 522.6,251.2 522.7,250.5 522.8,255.9 522.9,251.0 523.0,255.8 523.1,253.8 523.2,255.3 523.3,257.4 523.4,254.9 523.5,255.1 523.6,251.0 523.7,251.5 523.9,254.7 524.0,256.9 524.1,256.5 524.2,258.8 524.3,253.9 524.4,253.7 524.5,255.6 524.6,253.2 524.7,253.1 524.8,250.7 524.9,255.6 525.0,250.6 525.1,254.4 525.2,249.8 525.3,255.8 525.4,250.7 525.5,255.2 525.7,249.4 525.8,252.1 525.9,256.0 526.0,251.3 526.1,253.4 526.2,252.1 526.3,247.7 526.4,253.9 526.5,254.2 526.6,250.5 526.7,254.6 526.8,251.3 526.9,250.8 527.0,253.2 527.1,251.6 527.2,258.7 527.3,249.5 527.4,255.0 527.6,255.6 527.7,248.4 527.8,249.0 527.9,254.5 528.0,252.0 528.1,254.1 528.2,255.9 528.3,252.3 528.4,250.6 528.5,246.6 528.6,253.7 528.7,251.0 528.8,254.0 528.9,253.8 529.0,249.9 529.1,257.3 529.2,255.8 529.4,255.2 529.5,250.4 529.6,252.2 529.7,251.9 529.8,252.2 529.9,250.5 530.0,254.2 530.1,253.8 530.2,254.1 530.3,252.0 530.4,256.3 530.5,253.7 530.6,246.6 530.7,251.7 530.8,253.1 530.9,255.5 531.0,252.5 531.2,252.6 531.3,251.6 531.4,254.8 531.5,252.1 531.6,251.8 531.7,251.4 531.8,254.5 531.9,251.9 532.0,249.2 532.1,254.7 532.2,251.5 532.3,254.1 532.4,254.1 532.5,256.1 532.6,255.7 532.7,251.8 532.8,252.8 533.0,250.1 533.1,257.2 533.2,254.3 533.3,256.5 533.4,252.4 533.5,248.3 533.6,256.9 533.7,253.4 533.8,253.5 533.9,253.3 534.0,254.7 534.1,254.5 534.2,249.4 534.3,255.8 534.4,251.9 534.5,252.1 534.6,257.3 534.7,255.4 534.9,252.4 535.0,248.7 535.1,253.6 535.2,254.5 535.3,253.0 535.4,250.2 535.5,251.3 535.6,250.2 535.7,253.7 535.8,255.2 535.9,255.7 536.0,251.4 536.1,253.8 536.2,254.5 536.3,252.0 536.4,252.8 536.5,258.3 536.7,253.7 536.8,255.3 536.9,252.2 537.0,253.3 537.1,249.1 537.2,253.1 537.3,256.1 537.4,258.2 537.5,256.1" fill="none" stroke="#0a0aff" stroke-width="0.75"/>
<line x1="404.50" y1="166.40" x2="404.50" y2="253.20" stroke="#0a0aff" stroke-width="1.3"/>
<rect x="411.10" y="223.10" width="54.10" height="36.80" fill="#fff"/>
<rect x="418.60" y="224.70" width="44.10" height="29.20" fill="#fff" stroke="#a6a6a6" stroke-width="1"/>
<text x="429.40" y="258.50" class="tk" text-anchor="middle">50.0</text>
<text x="451.50" y="258.50" class="tk" text-anchor="middle">50.2</text>
<text x="417.00" y="240.60" class="tk" text-anchor="end">0</text>
<line x1="429.40" y1="238.70" x2="429.40" y2="253.40" stroke="#0a0aff" stroke-width="1.3"/>
<line x1="451.50" y1="238.70" x2="451.50" y2="253.40" stroke="#0a0aff" stroke-width="1.3"/>
<rect x="29.5" y="303.4" width="149.0" height="99.0" fill="none" stroke="#a6a6a6" stroke-width="1"/>
<text x="26.90" y="314.50" class="tk" text-anchor="end">0</text>
<text x="26.90" y="354.45" class="tk" text-anchor="end">-40</text>
<text x="26.90" y="394.40" class="tk" text-anchor="end">-80</text>
<path d="M29.50,402.40v-1.6M29.50,303.40v1.6M44.40,402.40v-0.9M44.40,303.40v0.9M59.30,402.40v-1.6M59.30,303.40v1.6M74.20,402.40v-0.9M74.20,303.40v0.9M89.10,402.40v-1.6M89.10,303.40v1.6M104.00,402.40v-0.9M104.00,303.40v0.9M118.90,402.40v-1.6M118.90,303.40v1.6M133.80,402.40v-0.9M133.80,303.40v0.9M148.70,402.40v-1.6M148.70,303.40v1.6M163.60,402.40v-0.9M163.60,303.40v0.9M178.50,402.40v-1.6M178.50,303.40v1.6M29.50,312.50h1.6M178.50,312.50h-1.6M29.50,352.45h1.6M178.50,352.45h-1.6M29.50,392.40h1.6M178.50,392.40h-1.6" stroke="#8a8a8a" stroke-width="0.6" fill="none"/>
<text x="29.50" y="409.40" class="tk" text-anchor="middle">0</text>
<text x="59.30" y="409.40" class="tk" text-anchor="middle">100</text>
<text x="89.10" y="409.40" class="tk" text-anchor="middle">200</text>
<text x="118.90" y="409.40" class="tk" text-anchor="middle">300</text>
<text x="148.70" y="409.40" class="tk" text-anchor="middle">400</text>
<text x="178.50" y="409.40" class="tk" text-anchor="middle">500</text>
<text x="104.00" y="420.40" class="ax8" text-anchor="middle">Frequency (Hz)</text>
<text transform="translate(14.10,352.70) rotate(-90)" class="ax73" text-anchor="middle">Amplitude (dB)</text>
<polygon points="44.70,309.00 59.10,367.00 103.20,367.00" fill="url(#tri)"/>
<polyline points="29.30,397.00 32.40,386.00 36.10,378.60 39.70,371.30 41.70,367.60 42.20,356.50 42.90,336.90 43.90,317.20 44.70,307.40 45.90,319.70 46.60,336.90 47.10,354.00 47.60,364.40 49.10,368.80 50.80,372.50 52.00,374.00" fill="none" stroke="#0a0aff" stroke-width="1.7" stroke-linejoin="round"/>
<polyline points="103.00,387.60 120.00,388.40 140.00,389.30 157.00,390.10 175.40,390.90 178.50,396.90" fill="none" stroke="#0a0aff" stroke-width="1.7" stroke-linejoin="round"/>
<rect x="51.60" y="365.40" width="54.10" height="36.50" fill="#fff"/>
<rect x="59.10" y="367.00" width="44.10" height="29.20" fill="#fff" stroke="#a6a6a6" stroke-width="1"/>
<line x1="69.90" y1="367.50" x2="69.90" y2="395.70" stroke="#333" stroke-width="0.75" stroke-dasharray="1.2,0.9"/>
<text x="69.90" y="400.80" class="tk" text-anchor="middle">50.00</text>
<line x1="92.00" y1="367.50" x2="92.00" y2="395.70" stroke="#333" stroke-width="0.75" stroke-dasharray="1.2,0.9"/>
<text x="92.00" y="400.80" class="tk" text-anchor="middle">50.02</text>
<text x="57.50" y="382.90" class="tk" text-anchor="end">0</text>
<polyline points="59.10,373.20 70.00,372.90 103.20,373.30" fill="none" stroke="#0a0aff" stroke-width="1.4"/>
<rect x="209.0" y="303.4" width="149.0" height="99.0" fill="none" stroke="#a6a6a6" stroke-width="1"/>
<text x="206.40" y="314.50" class="tk" text-anchor="end">0</text>
<text x="206.40" y="354.45" class="tk" text-anchor="end">-40</text>
<text x="206.40" y="394.40" class="tk" text-anchor="end">-80</text>
<path d="M209.00,402.40v-1.6M209.00,303.40v1.6M223.90,402.40v-0.9M223.90,303.40v0.9M238.80,402.40v-1.6M238.80,303.40v1.6M253.70,402.40v-0.9M253.70,303.40v0.9M268.60,402.40v-1.6M268.60,303.40v1.6M283.50,402.40v-0.9M283.50,303.40v0.9M298.40,402.40v-1.6M298.40,303.40v1.6M313.30,402.40v-0.9M313.30,303.40v0.9M328.20,402.40v-1.6M328.20,303.40v1.6M343.10,402.40v-0.9M343.10,303.40v0.9M358.00,402.40v-1.6M358.00,303.40v1.6M209.00,312.50h1.6M358.00,312.50h-1.6M209.00,352.45h1.6M358.00,352.45h-1.6M209.00,392.40h1.6M358.00,392.40h-1.6" stroke="#8a8a8a" stroke-width="0.6" fill="none"/>
<text x="209.00" y="409.40" class="tk" text-anchor="middle">0</text>
<text x="238.80" y="409.40" class="tk" text-anchor="middle">100</text>
<text x="268.60" y="409.40" class="tk" text-anchor="middle">200</text>
<text x="298.40" y="409.40" class="tk" text-anchor="middle">300</text>
<text x="328.20" y="409.40" class="tk" text-anchor="middle">400</text>
<text x="358.00" y="409.40" class="tk" text-anchor="middle">500</text>
<text x="283.50" y="420.40" class="ax8" text-anchor="middle">Frequency (Hz)</text>
<text transform="translate(193.60,352.70) rotate(-90)" class="ax73" text-anchor="middle">Amplitude (dB)</text>
<polygon points="224.20,309.00 238.60,367.00 282.70,367.00" fill="url(#tri)"/>
<polyline points="208.90,400.70 209.30,392.00 211.10,386.00 214.80,378.60 218.50,371.30 221.00,365.10 222.70,357.70 223.70,346.70 224.20,324.60 224.40,307.40 224.80,324.60 225.10,346.70 226.10,357.70 227.60,364.40 229.60,368.80 231.00,372.00 232.00,373.50" fill="none" stroke="#0a0aff" stroke-width="1.7" stroke-linejoin="round"/>
<polyline points="283.00,387.70 300.00,388.60 320.00,389.40 340.00,390.10 357.50,390.90 357.90,397.60" fill="none" stroke="#0a0aff" stroke-width="1.7" stroke-linejoin="round"/>
<rect x="231.10" y="365.40" width="54.10" height="36.50" fill="#fff"/>
<rect x="238.60" y="367.00" width="44.10" height="29.20" fill="#fff" stroke="#a6a6a6" stroke-width="1"/>
<line x1="249.40" y1="367.50" x2="249.40" y2="395.70" stroke="#333" stroke-width="0.75" stroke-dasharray="1.2,0.9"/>
<text x="249.40" y="400.80" class="tk" text-anchor="middle">50.00</text>
<line x1="271.50" y1="367.50" x2="271.50" y2="395.70" stroke="#333" stroke-width="0.75" stroke-dasharray="1.2,0.9"/>
<text x="271.50" y="400.80" class="tk" text-anchor="middle">50.02</text>
<text x="237.00" y="382.90" class="tk" text-anchor="end">0</text>
<polyline points="238.60,372.90 249.50,372.80 263.60,373.30 282.70,374.20" fill="none" stroke="#0a0aff" stroke-width="1.4"/>
<rect x="389.0" y="303.4" width="149.0" height="99.0" fill="none" stroke="#a6a6a6" stroke-width="1"/>
<text x="386.40" y="314.50" class="tk" text-anchor="end">0</text>
<text x="386.40" y="354.45" class="tk" text-anchor="end">-40</text>
<text x="386.40" y="394.40" class="tk" text-anchor="end">-80</text>
<path d="M389.00,402.40v-1.6M389.00,303.40v1.6M403.90,402.40v-0.9M403.90,303.40v0.9M418.80,402.40v-1.6M418.80,303.40v1.6M433.70,402.40v-0.9M433.70,303.40v0.9M448.60,402.40v-1.6M448.60,303.40v1.6M463.50,402.40v-0.9M463.50,303.40v0.9M478.40,402.40v-1.6M478.40,303.40v1.6M493.30,402.40v-0.9M493.30,303.40v0.9M508.20,402.40v-1.6M508.20,303.40v1.6M523.10,402.40v-0.9M523.10,303.40v0.9M538.00,402.40v-1.6M538.00,303.40v1.6M389.00,312.50h1.6M538.00,312.50h-1.6M389.00,352.45h1.6M538.00,352.45h-1.6M389.00,392.40h1.6M538.00,392.40h-1.6" stroke="#8a8a8a" stroke-width="0.6" fill="none"/>
<text x="389.00" y="409.40" class="tk" text-anchor="middle">0</text>
<text x="418.80" y="409.40" class="tk" text-anchor="middle">100</text>
<text x="448.60" y="409.40" class="tk" text-anchor="middle">200</text>
<text x="478.40" y="409.40" class="tk" text-anchor="middle">300</text>
<text x="508.20" y="409.40" class="tk" text-anchor="middle">400</text>
<text x="538.00" y="409.40" class="tk" text-anchor="middle">500</text>
<text x="463.50" y="420.40" class="ax8" text-anchor="middle">Frequency (Hz)</text>
<text transform="translate(373.60,352.70) rotate(-90)" class="ax73" text-anchor="middle">Amplitude (dB)</text>
<polygon points="404.20,309.00 418.60,367.00 462.70,367.00" fill="url(#tri)"/>
<polyline points="388.90,388.50 389.20,383.00 391.10,382.30 394.80,379.10 398.50,373.70 401.00,366.30 402.70,357.70 403.20,355.00 403.40,344.20 403.60,355.00 403.90,354.00 404.40,308.10 404.90,349.00 405.90,357.70 407.60,364.40 409.60,369.50 411.00,373.20 412.00,374.50" fill="none" stroke="#0a0aff" stroke-width="1.7" stroke-linejoin="round"/>
<polyline points="463.00,389.20 480.00,390.40 500.00,391.40 520.00,392.20 537.50,392.80 537.90,399.00" fill="none" stroke="#0a0aff" stroke-width="1.7" stroke-linejoin="round"/>
<rect x="411.10" y="365.40" width="54.10" height="36.50" fill="#fff"/>
<rect x="418.60" y="367.00" width="44.10" height="29.20" fill="#fff" stroke="#a6a6a6" stroke-width="1"/>
<line x1="429.40" y1="367.50" x2="429.40" y2="395.70" stroke="#333" stroke-width="0.75" stroke-dasharray="1.2,0.9"/>
<text x="429.40" y="400.80" class="tk" text-anchor="middle">50.00</text>
<line x1="451.50" y1="367.50" x2="451.50" y2="395.70" stroke="#333" stroke-width="0.75" stroke-dasharray="1.2,0.9"/>
<text x="451.50" y="400.80" class="tk" text-anchor="middle">50.02</text>
<text x="417.00" y="382.90" class="tk" text-anchor="end">0</text>
<polyline points="418.60,377.40 429.80,374.00 462.70,382.20" fill="none" stroke="#0a0aff" stroke-width="1.4"/>
<rect x="89.30" y="21.60" width="89.00" height="55.40" fill="#fff" stroke="#a6a6a6" stroke-width="1"/>
<text x="87.40" y="26.80" class="tk" text-anchor="end">2</text>
<text x="87.40" y="51.70" class="tk" text-anchor="end">0</text>
<text x="87.40" y="75.70" class="tk" text-anchor="end">-2</text>
<text x="88.50" y="83.20" class="tk" text-anchor="middle">0.00</text>
<text x="130.90" y="83.20" class="tk" text-anchor="middle">0.05</text>
<text x="173.00" y="83.20" class="tk" text-anchor="middle">0.10</text>
<text x="133.80" y="92.90" class="ax7" text-anchor="middle">Time (s)</text>
<text transform="translate(78.80,49.90) rotate(-90)" class="av" text-anchor="middle">Amplitude (v)</text>
<polyline points="88.90,49.30 89.23,46.28 89.57,43.32 89.90,40.45 90.23,37.72 90.56,35.19 90.90,32.88 91.23,30.83 91.56,29.08 91.89,27.66 92.23,26.58 92.56,25.86 92.89,25.51 93.22,25.55 93.56,25.96 93.89,26.74 94.22,27.88 94.55,29.35 94.89,31.15 95.22,33.23 95.55,35.56 95.88,38.10 96.22,40.83 96.55,43.68 96.88,46.62 97.21,49.60 97.55,52.57 97.88,55.48 98.21,58.30 98.54,60.96 98.88,63.44 99.21,65.69 99.54,67.68 99.87,69.37 100.21,70.74 100.54,71.77 100.87,72.44 101.20,72.74 101.54,72.67 101.87,72.23 102.20,71.42 102.53,70.27 102.87,68.78 103.20,66.99 103.53,64.91 103.86,62.59 104.20,60.06 104.53,57.37 104.86,54.55 105.19,51.65 105.53,48.71 105.86,45.79 106.19,42.93 106.52,40.17 106.86,37.56 107.19,35.14 107.52,32.95 107.85,31.03 108.19,29.39 108.52,28.07 108.85,27.09 109.18,26.47 109.52,26.21 109.85,26.31 110.18,26.79 110.51,27.61 110.85,28.79 111.18,30.28 111.51,32.08 111.84,34.15 112.18,36.45 112.51,38.96 112.84,41.63 113.17,44.42 113.51,47.28 113.84,50.17 114.17,53.04 114.50,55.85 114.84,58.55 115.17,61.10 115.50,63.46 115.83,65.59 116.17,67.47 116.50,69.05 116.83,70.31 117.17,71.24 117.50,71.82 117.83,72.04 118.16,71.90 118.50,71.40 118.83,70.55 119.16,69.36 119.49,67.86 119.83,66.06 120.16,64.00 120.49,61.71 120.82,59.22 121.16,56.58 121.49,53.83 121.82,51.01 122.15,48.16 122.49,45.34 122.82,42.58 123.15,39.94 123.48,37.44 123.82,35.14 124.15,33.07 124.48,31.25 124.81,29.73 125.15,28.52 125.48,27.64 125.81,27.10 126.14,26.92 126.48,27.09 126.81,27.62 127.14,28.49 127.47,29.69 127.81,31.20 128.14,33.00 128.47,35.05 128.80,37.33 129.14,39.79 129.47,42.40 129.80,45.12 130.13,47.90 130.47,50.70 130.80,53.47 131.13,56.18 131.46,58.77 131.80,61.20 132.13,63.45 132.46,65.46 132.79,67.22 133.13,68.69 133.46,69.85 133.79,70.68 134.12,71.18 134.46,71.32 134.79,71.11 135.12,70.56 135.45,69.67 135.79,68.46 136.12,66.94 136.45,65.15 136.78,63.10 137.12,60.84 137.45,58.40 137.78,55.82 138.11,53.14 138.45,50.40 138.78,47.65 139.11,44.93 139.44,42.28 139.78,39.74 140.11,37.36 140.44,35.17 140.77,33.21 141.11,31.51 141.44,30.10 141.77,28.99 142.10,28.20 142.44,27.75 142.77,27.65 143.10,27.88 143.43,28.46 143.77,29.37 144.10,30.59 144.43,32.11 144.77,33.90 145.10,35.94 145.43,38.18 145.76,40.59 146.10,43.14 146.43,45.79 146.76,48.49 147.09,51.19 147.43,53.87 147.76,56.46 148.09,58.94 148.42,61.27 148.76,63.40 149.09,65.30 149.42,66.94 149.75,68.31 150.09,69.37 150.42,70.11 150.75,70.52 151.08,70.59 151.42,70.32 151.75,69.72 152.08,68.79 152.41,67.56 152.75,66.04 153.08,64.25 153.41,62.23 153.74,60.01 154.08,57.62 154.41,55.10 154.74,52.49 155.07,49.83 155.41,47.17 155.74,44.55 156.07,42.01 156.40,39.58 156.74,37.32 157.07,35.24 157.40,33.40 157.73,31.81 158.07,30.49 158.40,29.48 158.73,28.79 159.06,28.42 159.40,28.39 159.73,28.68 160.06,29.31 160.39,30.25 160.73,31.49 161.06,33.01 161.39,34.79 161.72,36.80 162.06,39.00 162.39,41.37 162.72,43.86 163.05,46.43 163.39,49.04 163.72,51.65 164.05,54.22 164.38,56.71 164.72,59.08 165.05,61.29 165.38,63.31 165.71,65.10 166.05,66.64 166.38,67.90 166.71,68.86 167.04,69.51 167.38,69.84 167.71,69.84 168.04,69.52 168.37,68.87 168.71,67.92 169.04,66.67 169.37,65.14 169.70,63.37 170.04,61.38 170.37,59.19 170.70,56.85 171.03,54.40 171.37,51.87 171.70,49.30" fill="none" stroke="#0a0aff" stroke-width="1.8" stroke-linejoin="round"/>
<rect x="268.80" y="21.60" width="89.00" height="55.40" fill="#fff" stroke="#a6a6a6" stroke-width="1"/>
<text x="266.90" y="26.80" class="tk" text-anchor="end">2</text>
<text x="266.90" y="51.70" class="tk" text-anchor="end">0</text>
<text x="266.90" y="75.70" class="tk" text-anchor="end">-2</text>
<text x="269.50" y="83.20" class="tk" text-anchor="middle">0.0</text>
<text x="311.30" y="83.20" class="tk" text-anchor="middle">0.5</text>
<text x="354.00" y="83.20" class="tk" text-anchor="middle">1.0</text>
<text x="313.30" y="92.90" class="ax7" text-anchor="middle">Time (s)</text>
<text transform="translate(258.30,49.90) rotate(-90)" class="av" text-anchor="middle">Amplitude (v)</text>
<polyline points="268.2,49.3 268.3,41.7 268.4,34.9 268.5,29.6 268.5,26.3 268.6,25.3 268.7,26.8 268.8,30.6 268.9,36.3 269.0,43.3 269.1,50.9 269.1,58.3 269.2,64.9 269.3,69.8 269.4,72.6 269.5,73.1 269.6,71.1 269.7,66.9 269.7,60.9 269.8,53.8 269.9,46.2 270.0,38.9 270.1,32.7 270.2,28.2 270.3,25.9 270.3,25.9 270.4,28.4 270.5,32.9 270.6,39.2 270.7,46.4 270.8,53.9 270.9,61.0 271.0,66.8 271.0,70.8 271.1,72.7 271.2,72.1 271.3,69.2 271.4,64.3 271.5,57.9 271.6,50.6 271.6,43.2 271.7,36.5 271.8,31.1 271.9,27.5 272.0,26.2 272.1,27.3 272.2,30.6 272.2,35.7 272.3,42.3 272.4,49.5 272.5,56.7 272.6,63.1 272.7,68.1 272.8,71.1 272.8,71.9 272.9,70.4 273.0,66.8 273.1,61.4 273.2,54.7 273.3,47.6 273.4,40.7 273.4,34.7 273.5,30.2 273.6,27.7 273.7,27.3 273.8,29.3 273.9,33.2 274.0,38.8 274.0,45.4 274.1,52.4 274.2,59.0 274.3,64.6 274.4,68.6 274.5,70.6 274.6,70.4 274.6,68.1 274.7,63.9 274.8,58.2 274.9,51.7 275.0,45.0 275.1,38.7 275.2,33.6 275.3,30.1 275.3,28.6 275.4,29.2 275.5,31.8 275.6,36.2 275.7,41.9 275.8,48.3 275.9,54.8 275.9,60.6 276.0,65.3 276.1,68.3 276.2,69.3 276.3,68.3 276.4,65.4 276.5,60.8 276.5,55.1 276.6,48.9 276.7,42.8 276.8,37.4 276.9,33.2 277.0,30.8 277.1,30.2 277.1,31.6 277.2,34.7 277.3,39.3 277.4,44.9 277.5,50.9 277.6,56.6 277.7,61.6 277.7,65.2 277.8,67.2 277.9,67.4 278.0,65.7 278.1,62.3 278.2,57.7 278.3,52.3 278.3,46.6 278.4,41.3 278.5,36.9 278.6,33.7 278.7,32.2 278.8,32.4 278.9,34.4 278.9,37.8 279.0,42.4 279.1,47.6 279.2,52.9 279.3,57.8 279.4,61.7 279.5,64.4 279.6,65.5 279.6,64.9 279.7,62.7 279.8,59.3 279.9,54.8 280.0,49.9 280.1,45.0 280.2,40.6 280.2,37.1 280.3,34.9 280.4,34.3 280.5,35.1 280.6,37.4 280.7,40.8 280.8,45.1 280.8,49.7 280.9,54.2 281.0,58.1 281.1,61.1 281.2,62.8 281.3,63.1 281.4,62.0 281.4,59.7 281.5,56.3 281.6,52.3 281.7,48.1 281.8,44.0 281.9,40.6 282.0,38.1 282.0,36.8 282.1,36.8 282.2,38.1 282.3,40.4 282.4,43.7 282.5,47.4 282.6,51.2 282.6,54.8 282.7,57.7 282.8,59.7 282.9,60.6 283.0,60.4 283.1,59.0 283.2,56.7 283.2,53.7 283.3,50.3 283.4,46.9 283.5,43.9 283.6,41.4 283.7,39.8 283.8,39.3 283.8,39.7 283.9,41.1 284.0,43.3 284.1,46.0 284.2,49.0 284.3,52.0 284.4,54.5 284.5,56.5 284.5,57.7 284.6,58.0 284.7,57.4 284.8,56.0 284.9,54.0 285.0,51.6 285.1,49.0 285.1,46.6 285.2,44.5 285.3,43.0 285.4,42.1 285.5,42.1 285.6,42.7 285.7,44.0 285.7,45.8 285.8,47.9 285.9,50.0 286.0,51.9 286.1,53.5 286.2,54.6 286.3,55.1 286.3,55.0 286.4,54.4 286.5,53.2 286.6,51.7 286.7,50.1 286.8,48.4 286.9,47.0 286.9,45.8 287.0,45.1 287.1,44.9 287.2,45.1 287.3,45.7 287.4,46.6 287.5,47.8 287.5,49.0 287.6,50.1 287.7,51.1 287.8,51.8 287.9,52.2 288.0,52.3 288.1,52.0 288.1,51.5 288.2,50.8 288.3,50.1 288.4,49.3 288.5,48.7 288.6,48.2 288.7,47.9 288.8,47.8 288.8,47.8 288.9,48.1 289.0,48.4 289.1,48.7 289.2,49.1 289.3,49.3 289.4,49.5 289.4,49.6 289.5,49.5 289.6,49.4 289.7,49.3 289.8,49.1 289.9,49.0 290.0,49.1 290.0,49.2 290.1,49.4 290.2,49.7 290.3,50.0 290.4,50.4 290.5,50.7 290.6,50.8 290.6,50.8 290.7,50.6 290.8,50.2 290.9,49.6 291.0,48.9 291.1,48.1 291.2,47.4 291.2,46.8 291.3,46.4 291.4,46.3 291.5,46.5 291.6,47.1 291.7,48.0 291.8,49.0 291.8,50.2 291.9,51.4 292.0,52.5 292.1,53.3 292.2,53.7 292.3,53.7 292.4,53.2 292.4,52.2 292.5,50.9 292.6,49.3 292.7,47.7 292.8,46.1 292.9,44.8 293.0,43.8 293.0,43.4 293.1,43.6 293.2,44.5 293.3,45.8 293.4,47.6 293.5,49.7 293.6,51.8 293.7,53.7 293.7,55.3 293.8,56.3 293.9,56.6 294.0,56.1 294.1,55.0 294.2,53.1 294.3,50.9 294.3,48.3 294.4,45.8 294.5,43.5 294.6,41.8 294.7,40.8 294.8,40.7 294.9,41.4 294.9,43.0 295.0,45.3 295.1,48.1 295.2,51.1 295.3,54.0 295.4,56.5 295.5,58.3 295.5,59.2 295.6,59.2 295.7,58.1 295.8,56.1 295.9,53.3 296.0,50.0 296.1,46.6 296.1,43.3 296.2,40.7 296.3,38.8 296.4,38.0 296.5,38.3 296.6,39.8 296.7,42.3 296.7,45.6 296.8,49.3 296.9,53.1 297.0,56.6 297.1,59.5 297.2,61.3 297.3,61.9 297.3,61.3 297.4,59.4 297.5,56.4 297.6,52.6 297.7,48.4 297.8,44.2 297.9,40.5 298.0,37.6 298.0,35.9 298.1,35.5 298.2,36.5 298.3,38.9 298.4,42.3 298.5,46.6 298.6,51.2 298.6,55.7 298.7,59.6 298.8,62.5 298.9,64.1 299.0,64.2 299.1,62.8 299.2,59.9 299.2,55.9 299.3,51.2 299.4,46.2 299.5,41.5 299.6,37.5 299.7,34.6 299.8,33.2 299.8,33.5 299.9,35.4 300.0,38.7 300.1,43.2 300.2,48.4 300.3,53.7 300.4,58.6 300.4,62.7 300.5,65.4 300.6,66.5 300.7,65.9 300.8,63.5 300.9,59.7 301.0,54.7 301.0,49.1 301.1,43.5 301.2,38.4 301.3,34.4 301.4,31.9 301.5,31.1 301.6,32.2 301.6,35.0 301.7,39.4 301.8,44.8 301.9,50.7 302.0,56.6 302.1,61.7 302.2,65.7 302.3,68.0 302.3,68.4 302.4,66.8 302.5,63.5 302.6,58.6 302.7,52.8 302.8,46.5 302.9,40.5 302.9,35.3 303.0,31.5 303.1,29.5 303.2,29.6 303.3,31.6 303.4,35.5 303.5,40.8 303.5,47.0 303.6,53.5 303.7,59.7 303.8,64.8 303.9,68.3 304.0,70.0 304.1,69.5 304.1,67.0 304.2,62.6 304.3,56.9 304.4,50.3 304.5,43.6 304.6,37.4 304.7,32.4 304.7,29.1 304.8,27.8 304.9,28.8 305.0,31.8 305.1,36.7 305.2,42.8 305.3,49.7 305.3,56.6 305.4,62.8 305.5,67.6 305.6,70.6 305.7,71.4 305.8,69.9 305.9,66.4 305.9,61.1 306.0,54.5 306.1,47.4 306.2,40.4 306.3,34.4 306.4,29.8 306.5,27.2 306.5,26.8 306.6,28.7 306.7,32.8 306.8,38.6 306.9,45.4 307.0,52.7 307.1,59.7 307.2,65.7 307.2,70.0 307.3,72.2 307.4,72.0 307.5,69.6 307.6,65.0 307.7,58.9 307.8,51.7 307.8,44.3 307.9,37.3 308.0,31.6 308.1,27.7 308.2,25.9 308.3,26.6 308.4,29.5 308.4,34.5 308.5,41.0 308.6,48.4 308.7,55.9 308.8,62.7 308.9,68.2 309.0,71.7 309.0,73.0 309.1,71.9 309.2,68.4 309.3,63.0 309.4,56.2 309.5,48.6 309.6,41.1 309.6,34.5 309.7,29.3 309.8,26.2 309.9,25.4 310.0,27.1 310.1,31.0 310.2,36.8 310.2,43.9 310.3,51.6 310.4,59.0 310.5,65.4 310.6,70.2 310.7,72.8 310.8,73.1 310.8,70.9 310.9,66.5 311.0,60.4 311.1,53.1 311.2,45.5 311.3,38.2 311.4,32.1 311.5,27.7 311.5,25.5 311.6,25.8 311.7,28.4 311.8,33.2 311.9,39.6 312.0,47.0 312.1,54.7 312.1,61.8 312.2,67.6 312.3,71.5 312.4,73.2 312.5,72.4 312.6,69.3 312.7,64.1 312.7,57.5 312.8,50.0 312.9,42.4 313.0,35.6 313.1,30.2 313.2,26.7 313.3,25.6 313.3,26.9 313.4,30.4 313.5,35.9 313.6,42.7 313.7,50.2 313.8,57.6 313.9,64.1 313.9,69.1 314.0,72.0 314.1,72.7 314.2,70.9 314.3,67.0 314.4,61.3 314.5,54.3 314.5,46.9 314.6,39.7 314.7,33.6 314.8,29.0 314.9,26.6 315.0,26.4 315.1,28.6 315.1,32.9 315.2,38.9 315.3,45.9 315.4,53.2 315.5,60.0 315.6,65.8 315.7,69.9 315.8,71.8 315.8,71.4 315.9,68.8 316.0,64.2 316.1,58.2 316.2,51.2 316.3,44.1 316.4,37.5 316.4,32.2 316.5,28.7 316.6,27.2 316.7,28.0 316.8,31.0 316.9,35.8 317.0,42.0 317.0,48.9 317.1,55.8 317.2,61.9 317.3,66.8 317.4,69.8 317.5,70.8 317.6,69.5 317.6,66.2 317.7,61.2 317.8,55.0 317.9,48.3 318.0,41.7 318.1,36.0 318.2,31.6 318.2,29.1 318.3,28.6 318.4,30.3 318.5,33.8 318.6,38.9 318.7,45.1 318.8,51.6 318.8,57.8 318.9,63.1 319.0,67.0 319.1,69.0 319.2,69.1 319.3,67.1 319.4,63.3 319.4,58.1 319.5,52.1 319.6,45.8 319.7,40.0 319.8,35.1 319.9,31.8 320.0,30.2 320.0,30.6 320.1,32.9 320.2,36.9 320.3,42.0 320.4,47.9 320.5,53.8 320.6,59.2 320.7,63.6 320.7,66.4 320.8,67.5 320.9,66.7 321.0,64.2 321.1,60.2 321.2,55.1 321.3,49.5 321.3,43.9 321.4,38.9 321.5,35.1 321.6,32.7 321.7,32.1 321.8,33.2 321.9,35.9 321.9,40.0 322.0,44.9 322.1,50.2 322.2,55.4 322.3,59.9 322.4,63.2 322.5,65.1 322.5,65.4 322.6,64.0 322.7,61.1 322.8,57.1 322.9,52.4 323.0,47.4 323.1,42.7 323.1,38.7 323.2,35.8 323.3,34.4 323.4,34.5 323.5,36.1 323.6,39.0 323.7,42.9 323.7,47.4 323.8,52.0 323.9,56.3 324.0,59.7 324.1,62.1 324.2,63.1 324.3,62.7 324.3,61.0 324.4,58.1 324.5,54.4 324.6,50.2 324.7,46.0 324.8,42.2 324.9,39.2 325.0,37.3 325.0,36.7 325.1,37.3 325.2,39.1 325.3,42.0 325.4,45.5 325.5,49.3 325.6,53.0 325.6,56.3 325.7,58.8 325.8,60.3 325.9,60.6 326.0,59.8 326.1,57.9 326.2,55.3 326.2,52.0 326.3,48.6 326.4,45.3 326.5,42.5 326.6,40.5 326.7,39.4 326.8,39.4 326.8,40.3 326.9,42.1 327.0,44.6 327.1,47.5 327.2,50.5 327.3,53.3 327.4,55.6 327.4,57.2 327.5,57.9 327.6,57.8 327.7,56.8 327.8,55.1 327.9,52.8 328.0,50.3 328.0,47.7 328.1,45.5 328.2,43.6 328.3,42.5 328.4,42.0 328.5,42.3 328.6,43.3 328.6,44.9 328.7,46.8 328.8,48.9 328.9,51.0 329.0,52.8 329.1,54.1 329.2,55.0 329.3,55.2 329.3,54.8 329.4,53.8 329.5,52.5 329.6,50.9 329.7,49.3 329.8,47.7 329.9,46.4 329.9,45.4 330.0,44.9 330.1,44.9 330.2,45.3 330.3,46.1 330.4,47.2 330.5,48.4 330.5,49.6 330.6,50.6 330.7,51.5 330.8,52.1 330.9,52.3 331.0,52.2 331.1,51.8 331.1,51.2 331.2,50.5 331.3,49.7 331.4,49.0 331.5,48.4 331.6,48.0 331.7,47.8 331.7,47.8 331.8,47.9 331.9,48.2 332.0,48.6 332.1,48.9 332.2,49.2 332.3,49.4 332.3,49.5 332.4,49.6 332.5,49.5 332.6,49.3 332.7,49.2 332.8,49.1 332.9,49.0 332.9,49.1 333.0,49.3 333.1,49.5 333.2,49.9 333.3,50.2 333.4,50.5 333.5,50.8 333.5,50.8 333.6,50.7 333.7,50.4 333.8,49.9 333.9,49.3 334.0,48.5 334.1,47.8 334.2,47.1 334.2,46.6 334.3,46.3 334.4,46.4 334.5,46.8 334.6,47.5 334.7,48.5 334.8,49.6 334.8,50.8 334.9,52.0 335.0,52.9 335.1,53.5 335.2,53.7 335.3,53.5 335.4,52.8 335.4,51.6 335.5,50.2 335.6,48.5 335.7,46.9 335.8,45.4 335.9,44.2 336.0,43.6 336.0,43.5 336.1,44.0 336.2,45.1 336.3,46.7 336.4,48.6 336.5,50.7 336.6,52.8 336.6,54.6 336.7,55.9 336.8,56.5 336.9,56.5 337.0,55.6 337.1,54.1 337.2,52.0 337.2,49.6 337.3,47.0 337.4,44.6 337.5,42.6 337.6,41.2 337.7,40.6 337.8,40.9 337.8,42.1 337.9,44.1 338.0,46.6 338.1,49.6 338.2,52.6 338.3,55.3 338.4,57.5 338.5,58.9 338.5,59.3 338.6,58.8 338.7,57.2 338.8,54.7 338.9,51.7 339.0,48.3 339.1,44.9 339.1,41.9 339.2,39.6 339.3,38.2 339.4,38.0 339.5,38.9 339.6,40.9 339.7,43.8 339.7,47.4 339.8,51.2 339.9,54.9 340.0,58.2 340.1,60.5 340.2,61.8 340.3,61.8 340.3,60.5 340.4,58.0 340.5,54.6 340.6,50.5 340.7,46.3 340.8,42.3 340.9,38.9 340.9,36.6 341.0,35.5 341.1,35.8 341.2,37.5 341.3,40.5 341.4,44.4 341.5,48.9 341.5,53.5 341.6,57.8 341.7,61.2 341.8,63.5 341.9,64.3 342.0,63.7 342.1,61.5 342.1,58.0 342.2,53.6 342.3,48.7 342.4,43.8 342.5,39.3 342.6,35.9 342.7,33.7 342.7,33.1 342.8,34.2 342.9,36.9 343.0,40.8 343.1,45.7 343.2,51.0 343.3,56.2 343.4,60.8 343.4,64.2 343.5,66.2 343.6,66.4 343.7,64.9 343.8,61.7 343.9,57.3 344.0,52.0 344.0,46.3 344.1,40.9 344.2,36.3 344.3,32.9 344.4,31.2 344.5,31.4 344.6,33.4 344.6,37.0 344.7,42.0 344.8,47.7 344.9,53.7 345.0,59.3 345.1,63.9 345.2,67.0 345.2,68.4 345.3,67.8 345.4,65.4 345.5,61.2 345.6,55.8 345.7,49.7 345.8,43.5 345.8,37.8 345.9,33.2 346.0,30.3 346.1,29.3 346.2,30.3 346.3,33.3 346.4,38.0 346.4,43.8 346.5,50.3 346.6,56.7 346.7,62.4 346.8,66.8 346.9,69.4 347.0,70.0 347.0,68.5 347.1,65.0 347.2,59.9 347.3,53.6 347.4,46.9 347.5,40.4 347.6,34.7 347.7,30.5 347.7,28.2 347.8,28.0 347.9,30.0 348.0,34.0 348.1,39.6 348.2,46.2 348.3,53.2 348.3,59.8 348.4,65.4 348.5,69.3 348.6,71.3 348.7,70.9 348.8,68.4 348.9,63.9 348.9,57.9 349.0,51.0 349.1,43.9 349.2,37.2 349.3,31.8 349.4,28.2 349.5,26.7 349.5,27.5 349.6,30.5 349.7,35.5 349.8,41.9 349.9,49.1 350.0,56.3 350.1,62.9 350.1,68.0 350.2,71.3 350.3,72.4 350.4,71.1 350.5,67.5 350.6,62.1 350.7,55.4 350.7,48.0 350.8,40.7 350.9,34.3 351.0,29.4 351.1,26.5 351.2,25.9 351.3,27.8 351.3,31.8 351.4,37.6 351.5,44.7 351.6,52.2 351.7,59.4 351.8,65.7 351.9,70.2 352.0,72.7 352.0,72.7 352.1,70.4 352.2,65.9 352.3,59.7 352.4,52.4 352.5,44.8 352.6,37.7 352.6,31.7 352.7,27.5 352.8,25.5 352.9,26.0 353.0,28.8 353.1,33.7 353.2,40.3 353.2,47.7 353.3,55.3 353.4,62.3 353.5,68.0 353.6,71.8 353.7,73.3 353.8,72.3 353.8,69.0 353.9,63.7 354.0,56.9 354.1,49.3" fill="none" stroke="#0a0aff" stroke-width="0.85"/>
<rect x="448.80" y="21.60" width="89.00" height="55.40" fill="#fff" stroke="#a6a6a6" stroke-width="1"/>
<text x="446.90" y="26.80" class="tk" text-anchor="end">2</text>
<text x="446.90" y="51.70" class="tk" text-anchor="end">0</text>
<text x="446.90" y="75.70" class="tk" text-anchor="end">-2</text>
<text x="448.50" y="83.20" class="tk" text-anchor="middle">0</text>
<text x="492.20" y="83.20" class="tk" text-anchor="middle">5</text>
<text x="534.90" y="83.20" class="tk" text-anchor="middle">10</text>
<text x="493.30" y="92.90" class="ax7" text-anchor="middle">Time (s)</text>
<text transform="translate(438.30,49.90) rotate(-90)" class="av" text-anchor="middle">Amplitude (v)</text>
<path d="M448.9,25.3 L449.0,25.3 L449.1,25.5 L449.2,25.7 L449.2,25.9 L449.3,26.3 L449.4,26.7 L449.5,27.3 L449.6,27.9 L449.7,28.5 L449.8,29.3 L449.8,30.1 L449.9,31.0 L450.0,31.9 L450.1,32.9 L450.2,34.0 L450.3,35.2 L450.4,36.4 L450.4,37.7 L450.5,39.1 L450.6,40.5 L450.7,42.0 L450.8,43.6 L450.9,45.2 L451.0,47.1 L451.1,49.2 L451.1,47.0 L451.2,45.1 L451.3,43.5 L451.4,41.9 L451.5,40.4 L451.6,39.0 L451.7,37.6 L451.7,36.4 L451.8,35.1 L451.9,34.0 L452.0,32.9 L452.1,31.9 L452.2,30.9 L452.3,30.0 L452.3,29.2 L452.4,28.5 L452.5,27.8 L452.6,27.2 L452.7,26.7 L452.8,26.3 L452.9,25.9 L452.9,25.7 L453.0,25.5 L453.1,25.3 L453.2,25.3 L453.3,25.3 L453.4,25.5 L453.5,25.7 L453.5,26.0 L453.6,26.3 L453.7,26.8 L453.8,27.3 L453.9,27.9 L454.0,28.6 L454.1,29.3 L454.2,30.1 L454.2,31.0 L454.3,32.0 L454.4,33.0 L454.5,34.1 L454.6,35.3 L454.7,36.5 L454.8,37.8 L454.8,39.1 L454.9,40.6 L455.0,42.1 L455.1,43.6 L455.2,45.3 L455.3,47.2 L455.4,49.0 L455.4,46.9 L455.5,45.1 L455.6,43.4 L455.7,41.8 L455.8,40.3 L455.9,38.9 L456.0,37.6 L456.0,36.3 L456.1,35.1 L456.2,33.9 L456.3,32.8 L456.4,31.8 L456.5,30.9 L456.6,30.0 L456.6,29.2 L456.7,28.5 L456.8,27.8 L456.9,27.2 L457.0,26.7 L457.1,26.3 L457.2,25.9 L457.3,25.6 L457.3,25.4 L457.4,25.3 L457.5,25.3 L457.6,25.3 L457.7,25.5 L457.8,25.7 L457.9,26.0 L457.9,26.3 L458.0,26.8 L458.1,27.3 L458.2,27.9 L458.3,28.6 L458.4,29.3 L458.5,30.2 L458.5,31.1 L458.6,32.0 L458.7,33.1 L458.8,34.2 L458.9,35.3 L459.0,36.5 L459.1,37.8 L459.1,39.2 L459.2,40.6 L459.3,42.1 L459.4,43.7 L459.5,45.4 L459.6,47.3 L459.7,48.9 L459.7,46.8 L459.8,45.0 L459.9,43.3 L460.0,41.7 L460.1,40.3 L460.2,38.9 L460.3,37.5 L460.3,36.2 L460.4,35.0 L460.5,33.9 L460.6,32.8 L460.7,31.8 L460.8,30.8 L460.9,30.0 L461.0,29.1 L461.0,28.4 L461.1,27.8 L461.2,27.2 L461.3,26.7 L461.4,26.2 L461.5,25.9 L461.6,25.6 L461.6,25.4 L461.7,25.3 L461.8,25.3 L461.9,25.4 L462.0,25.5 L462.1,25.7 L462.2,26.0 L462.2,26.4 L462.3,26.8 L462.4,27.3 L462.5,27.9 L462.6,28.6 L462.7,29.4 L462.8,30.2 L462.8,31.1 L462.9,32.1 L463.0,33.1 L463.1,34.2 L463.2,35.4 L463.3,36.6 L463.4,37.9 L463.4,39.3 L463.5,40.7 L463.6,42.2 L463.7,43.8 L463.8,45.5 L463.9,47.4 L464.0,48.8 L464.1,46.7 L464.1,44.9 L464.2,43.2 L464.3,41.7 L464.4,40.2 L464.5,38.8 L464.6,37.4 L464.7,36.2 L464.7,35.0 L464.8,33.8 L464.9,32.7 L465.0,31.7 L465.1,30.8 L465.2,29.9 L465.3,29.1 L465.3,28.4 L465.4,27.7 L465.5,27.2 L465.6,26.6 L465.7,26.2 L465.8,25.9 L465.9,25.6 L465.9,25.4 L466.0,25.3 L466.1,25.3 L466.2,25.4 L466.3,25.5 L466.4,25.7 L466.5,26.0 L466.5,26.4 L466.6,26.8 L466.7,27.4 L466.8,28.0 L466.9,28.7 L467.0,29.4 L467.1,30.3 L467.2,31.2 L467.2,32.1 L467.3,33.2 L467.4,34.3 L467.5,35.4 L467.6,36.7 L467.7,38.0 L467.8,39.3 L467.8,40.8 L467.9,42.3 L468.0,43.9 L468.1,45.6 L468.2,47.5 L468.3,48.7 L468.4,46.6 L468.4,44.8 L468.5,43.2 L468.6,41.6 L468.7,40.1 L468.8,38.7 L468.9,37.4 L469.0,36.1 L469.0,34.9 L469.1,33.8 L469.2,32.7 L469.3,31.7 L469.4,30.7 L469.5,29.9 L469.6,29.1 L469.6,28.3 L469.7,27.7 L469.8,27.1 L469.9,26.6 L470.0,26.2 L470.1,25.9 L470.2,25.6 L470.2,25.4 L470.3,25.3 L470.4,25.3 L470.5,25.4 L470.6,25.5 L470.7,25.7 L470.8,26.0 L470.9,26.4 L470.9,26.9 L471.0,27.4 L471.1,28.0 L471.2,28.7 L471.3,29.5 L471.4,30.3 L471.5,31.2 L471.5,32.2 L471.6,33.2 L471.7,34.3 L471.8,35.5 L471.9,36.7 L472.0,38.0 L472.1,39.4 L472.1,40.9 L472.2,42.4 L472.3,44.0 L472.4,45.7 L472.5,47.6 L472.6,48.5 L472.7,46.5 L472.7,44.7 L472.8,43.1 L472.9,41.5 L473.0,40.1 L473.1,38.6 L473.2,37.3 L473.3,36.0 L473.3,34.8 L473.4,33.7 L473.5,32.6 L473.6,31.6 L473.7,30.7 L473.8,29.8 L473.9,29.0 L474.0,28.3 L474.0,27.7 L474.1,27.1 L474.2,26.6 L474.3,26.2 L474.4,25.9 L474.5,25.6 L474.6,25.4 L474.6,25.3 L474.7,25.3 L474.8,25.4 L474.9,25.5 L475.0,25.7 L475.1,26.0 L475.2,26.4 L475.2,26.9 L475.3,27.4 L475.4,28.0 L475.5,28.7 L475.6,29.5 L475.7,30.3 L475.8,31.2 L475.8,32.2 L475.9,33.3 L476.0,34.4 L476.1,35.6 L476.2,36.8 L476.3,38.1 L476.4,39.5 L476.4,40.9 L476.5,42.4 L476.6,44.0 L476.7,45.8 L476.8,47.7 L476.9,48.4 L477.0,46.4 L477.1,44.6 L477.1,43.0 L477.2,41.4 L477.3,40.0 L477.4,38.6 L477.5,37.3 L477.6,36.0 L477.7,34.8 L477.7,33.6 L477.8,32.6 L477.9,31.6 L478.0,30.6 L478.1,29.8 L478.2,29.0 L478.3,28.3 L478.3,27.6 L478.4,27.1 L478.5,26.6 L478.6,26.2 L478.7,25.8 L478.8,25.6 L478.9,25.4 L478.9,25.3 L479.0,25.3 L479.1,25.4 L479.2,25.5 L479.3,25.8 L479.4,26.1 L479.5,26.4 L479.5,26.9 L479.6,27.5 L479.7,28.1 L479.8,28.8 L479.9,29.5 L480.0,30.4 L480.1,31.3 L480.1,32.3 L480.2,33.3 L480.3,34.4 L480.4,35.6 L480.5,36.9 L480.6,38.2 L480.7,39.6 L480.8,41.0 L480.8,42.5 L480.9,44.1 L481.0,45.9 L481.1,47.8 L481.2,48.3 L481.3,46.3 L481.4,44.5 L481.4,42.9 L481.5,41.4 L481.6,39.9 L481.7,38.5 L481.8,37.2 L481.9,35.9 L482.0,34.7 L482.0,33.6 L482.1,32.5 L482.2,31.5 L482.3,30.6 L482.4,29.7 L482.5,29.0 L482.6,28.2 L482.6,27.6 L482.7,27.0 L482.8,26.6 L482.9,26.2 L483.0,25.8 L483.1,25.6 L483.2,25.4 L483.2,25.3 L483.3,25.3 L483.4,25.4 L483.5,25.5 L483.6,25.8 L483.7,26.1 L483.8,26.5 L483.9,26.9 L483.9,27.5 L484.0,28.1 L484.1,28.8 L484.2,29.6 L484.3,30.4 L484.4,31.3 L484.5,32.3 L484.5,33.4 L484.6,34.5 L484.7,35.7 L484.8,36.9 L484.9,38.2 L485.0,39.6 L485.1,41.1 L485.1,42.6 L485.2,44.2 L485.3,45.9 L485.4,47.9 L485.5,48.2 L485.6,46.2 L485.7,44.5 L485.7,42.8 L485.8,41.3 L485.9,39.8 L486.0,38.4 L486.1,37.1 L486.2,35.9 L486.3,34.7 L486.3,33.5 L486.4,32.5 L486.5,31.5 L486.6,30.6 L486.7,29.7 L486.8,28.9 L486.9,28.2 L487.0,27.6 L487.0,27.0 L487.1,26.5 L487.2,26.1 L487.3,25.8 L487.4,25.6 L487.5,25.4 L487.6,25.3 L487.6,25.3 L487.7,25.4 L487.8,25.5 L487.9,25.8 L488.0,26.1 L488.1,26.5 L488.2,27.0 L488.2,27.5 L488.3,28.1 L488.4,28.8 L488.5,29.6 L488.6,30.5 L488.7,31.4 L488.8,32.4 L488.8,33.4 L488.9,34.6 L489.0,35.7 L489.1,37.0 L489.2,38.3 L489.3,39.7 L489.4,41.1 L489.4,42.7 L489.5,44.3 L489.6,46.0 L489.7,48.0 L489.8,48.1 L489.9,46.1 L490.0,44.4 L490.0,42.8 L490.1,41.2 L490.2,39.8 L490.3,38.4 L490.4,37.1 L490.5,35.8 L490.6,34.6 L490.7,33.5 L490.7,32.4 L490.8,31.4 L490.9,30.5 L491.0,29.7 L491.1,28.9 L491.2,28.2 L491.3,27.5 L491.3,27.0 L491.4,26.5 L491.5,26.1 L491.6,25.8 L491.7,25.6 L491.8,25.4 L491.9,25.3 L491.9,25.3 L492.0,25.4 L492.1,25.6 L492.2,25.8 L492.3,26.1 L492.4,26.5 L492.5,27.0 L492.5,27.5 L492.6,28.2 L492.7,28.9 L492.8,29.7 L492.9,30.5 L493.0,31.4 L493.1,32.4 L493.1,33.5 L493.2,34.6 L493.3,35.8 L493.4,37.1 L493.5,38.4 L493.6,39.8 L493.7,41.2 L493.8,42.8 L493.8,44.4 L493.9,46.1 L494.0,48.1 L494.1,48.0 L494.2,46.0 L494.3,44.3 L494.4,42.7 L494.4,41.1 L494.5,39.7 L494.6,38.3 L494.7,37.0 L494.8,35.7 L494.9,34.6 L495.0,33.4 L495.0,32.4 L495.1,31.4 L495.2,30.5 L495.3,29.6 L495.4,28.8 L495.5,28.1 L495.6,27.5 L495.6,27.0 L495.7,26.5 L495.8,26.1 L495.9,25.8 L496.0,25.5 L496.1,25.4 L496.2,25.3 L496.2,25.3 L496.3,25.4 L496.4,25.6 L496.5,25.8 L496.6,26.1 L496.7,26.5 L496.8,27.0 L496.8,27.6 L496.9,28.2 L497.0,28.9 L497.1,29.7 L497.2,30.6 L497.3,31.5 L497.4,32.5 L497.5,33.5 L497.5,34.7 L497.6,35.9 L497.7,37.1 L497.8,38.4 L497.9,39.8 L498.0,41.3 L498.1,42.8 L498.1,44.5 L498.2,46.2 L498.3,48.2 L498.4,47.9 L498.5,45.9 L498.6,44.2 L498.7,42.6 L498.7,41.1 L498.8,39.6 L498.9,38.2 L499.0,36.9 L499.1,35.7 L499.2,34.5 L499.3,33.4 L499.3,32.3 L499.4,31.3 L499.5,30.4 L499.6,29.6 L499.7,28.8 L499.8,28.1 L499.9,27.5 L499.9,26.9 L500.0,26.5 L500.1,26.1 L500.2,25.8 L500.3,25.5 L500.4,25.4 L500.5,25.3 L500.6,25.3 L500.6,25.4 L500.7,25.6 L500.8,25.8 L500.9,26.2 L501.0,26.6 L501.1,27.0 L501.2,27.6 L501.2,28.2 L501.3,29.0 L501.4,29.7 L501.5,30.6 L501.6,31.5 L501.7,32.5 L501.8,33.6 L501.8,34.7 L501.9,35.9 L502.0,37.2 L502.1,38.5 L502.2,39.9 L502.3,41.4 L502.4,42.9 L502.4,44.5 L502.5,46.3 L502.6,48.3 L502.7,47.8 L502.8,45.9 L502.9,44.1 L503.0,42.5 L503.0,41.0 L503.1,39.6 L503.2,38.2 L503.3,36.9 L503.4,35.6 L503.5,34.4 L503.6,33.3 L503.7,32.3 L503.7,31.3 L503.8,30.4 L503.9,29.5 L504.0,28.8 L504.1,28.1 L504.2,27.5 L504.3,26.9 L504.3,26.4 L504.4,26.1 L504.5,25.8 L504.6,25.5 L504.7,25.4 L504.8,25.3 L504.9,25.3 L504.9,25.4 L505.0,25.6 L505.1,25.8 L505.2,26.2 L505.3,26.6 L505.4,27.1 L505.5,27.6 L505.5,28.3 L505.6,29.0 L505.7,29.8 L505.8,30.6 L505.9,31.6 L506.0,32.6 L506.1,33.6 L506.1,34.8 L506.2,36.0 L506.3,37.3 L506.4,38.6 L506.5,40.0 L506.6,41.4 L506.7,43.0 L506.7,44.6 L506.8,46.4 L506.9,48.4 L507.0,47.7 L507.1,45.8 L507.2,44.0 L507.3,42.4 L507.4,40.9 L507.4,39.5 L507.5,38.1 L507.6,36.8 L507.7,35.6 L507.8,34.4 L507.9,33.3 L508.0,32.2 L508.0,31.2 L508.1,30.3 L508.2,29.5 L508.3,28.7 L508.4,28.0 L508.5,27.4 L508.6,26.9 L508.6,26.4 L508.7,26.0 L508.8,25.7 L508.9,25.5 L509.0,25.4 L509.1,25.3 L509.2,25.3 L509.2,25.4 L509.3,25.6 L509.4,25.9 L509.5,26.2 L509.6,26.6 L509.7,27.1 L509.8,27.7 L509.8,28.3 L509.9,29.0 L510.0,29.8 L510.1,30.7 L510.2,31.6 L510.3,32.6 L510.4,33.7 L510.5,34.8 L510.5,36.0 L510.6,37.3 L510.7,38.6 L510.8,40.1 L510.9,41.5 L511.0,43.1 L511.1,44.7 L511.1,46.5 L511.2,48.5 L511.3,47.6 L511.4,45.7 L511.5,44.0 L511.6,42.4 L511.7,40.9 L511.7,39.4 L511.8,38.0 L511.9,36.7 L512.0,35.5 L512.1,34.3 L512.2,33.2 L512.3,32.2 L512.3,31.2 L512.4,30.3 L512.5,29.5 L512.6,28.7 L512.7,28.0 L512.8,27.4 L512.9,26.9 L512.9,26.4 L513.0,26.0 L513.1,25.7 L513.2,25.5 L513.3,25.4 L513.4,25.3 L513.5,25.3 L513.6,25.4 L513.6,25.6 L513.7,25.9 L513.8,26.2 L513.9,26.6 L514.0,27.1 L514.1,27.7 L514.2,28.3 L514.2,29.1 L514.3,29.9 L514.4,30.7 L514.5,31.7 L514.6,32.7 L514.7,33.8 L514.8,34.9 L514.8,36.1 L514.9,37.4 L515.0,38.7 L515.1,40.1 L515.2,41.6 L515.3,43.2 L515.4,44.8 L515.4,46.6 L515.5,48.7 L515.6,47.5 L515.7,45.6 L515.8,43.9 L515.9,42.3 L516.0,40.8 L516.0,39.3 L516.1,38.0 L516.2,36.7 L516.3,35.4 L516.4,34.3 L516.5,33.2 L516.6,32.1 L516.6,31.2 L516.7,30.3 L516.8,29.4 L516.9,28.7 L517.0,28.0 L517.1,27.4 L517.2,26.8 L517.3,26.4 L517.3,26.0 L517.4,25.7 L517.5,25.5 L517.6,25.4 L517.7,25.3 L517.8,25.3 L517.9,25.4 L517.9,25.6 L518.0,25.9 L518.1,26.2 L518.2,26.6 L518.3,27.2 L518.4,27.7 L518.5,28.4 L518.5,29.1 L518.6,29.9 L518.7,30.8 L518.8,31.7 L518.9,32.7 L519.0,33.8 L519.1,35.0 L519.1,36.2 L519.2,37.4 L519.3,38.8 L519.4,40.2 L519.5,41.7 L519.6,43.2 L519.7,44.9 L519.7,46.7 L519.8,48.8 L519.9,47.4 L520.0,45.5 L520.1,43.8 L520.2,42.2 L520.3,40.7 L520.4,39.3 L520.4,37.9 L520.5,36.6 L520.6,35.4 L520.7,34.2 L520.8,33.1 L520.9,32.1 L521.0,31.1 L521.0,30.2 L521.1,29.4 L521.2,28.6 L521.3,27.9 L521.4,27.3 L521.5,26.8 L521.6,26.4 L521.6,26.0 L521.7,25.7 L521.8,25.5 L521.9,25.4 L522.0,25.3 L522.1,25.3 L522.2,25.4 L522.2,25.6 L522.3,25.9 L522.4,26.2 L522.5,26.7 L522.6,27.2 L522.7,27.8 L522.8,28.4 L522.8,29.1 L522.9,30.0 L523.0,30.8 L523.1,31.8 L523.2,32.8 L523.3,33.9 L523.4,35.0 L523.5,36.2 L523.5,37.5 L523.6,38.9 L523.7,40.3 L523.8,41.7 L523.9,43.3 L524.0,45.0 L524.1,46.8 L524.1,48.9 L524.2,47.3 L524.3,45.4 L524.4,43.7 L524.5,42.1 L524.6,40.6 L524.7,39.2 L524.7,37.8 L524.8,36.5 L524.9,35.3 L525.0,34.2 L525.1,33.1 L525.2,32.0 L525.3,31.1 L525.3,30.2 L525.4,29.3 L525.5,28.6 L525.6,27.9 L525.7,27.3 L525.8,26.8 L525.9,26.3 L525.9,26.0 L526.0,25.7 L526.1,25.5 L526.2,25.3 L526.3,25.3 L526.4,25.3 L526.5,25.4 L526.5,25.6 L526.6,25.9 L526.7,26.3 L526.8,26.7 L526.9,27.2 L527.0,27.8 L527.1,28.5 L527.2,29.2 L527.2,30.0 L527.3,30.9 L527.4,31.8 L527.5,32.8 L527.6,33.9 L527.7,35.1 L527.8,36.3 L527.8,37.6 L527.9,38.9 L528.0,40.3 L528.1,41.8 L528.2,43.4 L528.3,45.1 L528.4,46.9 L528.4,49.0 L528.5,47.2 L528.6,45.3 L528.7,43.6 L528.8,42.1 L528.9,40.6 L529.0,39.1 L529.0,37.8 L529.1,36.5 L529.2,35.3 L529.3,34.1 L529.4,33.0 L529.5,32.0 L529.6,31.0 L529.6,30.1 L529.7,29.3 L529.8,28.6 L529.9,27.9 L530.0,27.3 L530.1,26.8 L530.2,26.3 L530.3,26.0 L530.3,25.7 L530.4,25.5 L530.5,25.3 L530.6,25.3 L530.7,25.3 L530.8,25.5 L530.9,25.7 L530.9,25.9 L531.0,26.3 L531.1,26.7 L531.2,27.2 L531.3,27.8 L531.4,28.5 L531.5,29.2 L531.5,30.0 L531.6,30.9 L531.7,31.9 L531.8,32.9 L531.9,34.0 L532.0,35.1 L532.1,36.4 L532.1,37.6 L532.2,39.0 L532.3,40.4 L532.4,41.9 L532.5,43.5 L532.6,45.1 L532.7,47.0 L532.7,49.2 L532.8,47.1 L532.9,45.2 L533.0,43.6 L533.1,42.0 L533.2,40.5 L533.3,39.1 L533.4,37.7 L533.4,36.4 L533.5,35.2 L533.6,34.0 L533.7,32.9 L533.8,31.9 L533.9,31.0 L534.0,30.1 L534.0,29.3 L534.1,28.5 L534.2,27.9 L534.3,27.3 L534.4,26.7 L534.5,26.3 L534.6,25.9 L534.6,25.7 L534.7,25.5 L534.8,25.3 L534.9,25.3 L534.9,73.3 L534.8,73.3 L534.7,73.1 L534.6,72.9 L534.6,72.7 L534.5,72.3 L534.4,71.9 L534.3,71.3 L534.2,70.7 L534.1,70.1 L534.0,69.3 L534.0,68.5 L533.9,67.6 L533.8,66.7 L533.7,65.7 L533.6,64.6 L533.5,63.4 L533.4,62.2 L533.4,60.9 L533.3,59.5 L533.2,58.1 L533.1,56.6 L533.0,55.0 L532.9,53.4 L532.8,51.5 L532.7,49.4 L532.7,51.6 L532.6,53.5 L532.5,55.1 L532.4,56.7 L532.3,58.2 L532.2,59.6 L532.1,61.0 L532.1,62.2 L532.0,63.5 L531.9,64.6 L531.8,65.7 L531.7,66.7 L531.6,67.7 L531.5,68.6 L531.5,69.4 L531.4,70.1 L531.3,70.8 L531.2,71.4 L531.1,71.9 L531.0,72.3 L530.9,72.7 L530.9,72.9 L530.8,73.1 L530.7,73.3 L530.6,73.3 L530.5,73.3 L530.4,73.1 L530.3,72.9 L530.3,72.6 L530.2,72.3 L530.1,71.8 L530.0,71.3 L529.9,70.7 L529.8,70.0 L529.7,69.3 L529.6,68.5 L529.6,67.6 L529.5,66.6 L529.4,65.6 L529.3,64.5 L529.2,63.3 L529.1,62.1 L529.0,60.8 L529.0,59.5 L528.9,58.0 L528.8,56.5 L528.7,55.0 L528.6,53.3 L528.5,51.4 L528.4,49.6 L528.4,51.7 L528.3,53.5 L528.2,55.2 L528.1,56.8 L528.0,58.3 L527.9,59.7 L527.8,61.0 L527.8,62.3 L527.7,63.5 L527.6,64.7 L527.5,65.8 L527.4,66.8 L527.3,67.7 L527.2,68.6 L527.2,69.4 L527.1,70.1 L527.0,70.8 L526.9,71.4 L526.8,71.9 L526.7,72.3 L526.6,72.7 L526.5,73.0 L526.5,73.2 L526.4,73.3 L526.3,73.3 L526.2,73.3 L526.1,73.1 L526.0,72.9 L525.9,72.6 L525.9,72.3 L525.8,71.8 L525.7,71.3 L525.6,70.7 L525.5,70.0 L525.4,69.3 L525.3,68.4 L525.3,67.5 L525.2,66.6 L525.1,65.5 L525.0,64.4 L524.9,63.3 L524.8,62.1 L524.7,60.8 L524.7,59.4 L524.6,58.0 L524.5,56.5 L524.4,54.9 L524.3,53.2 L524.2,51.3 L524.1,49.7 L524.1,51.8 L524.0,53.6 L523.9,55.3 L523.8,56.9 L523.7,58.3 L523.6,59.7 L523.5,61.1 L523.5,62.4 L523.4,63.6 L523.3,64.7 L523.2,65.8 L523.1,66.8 L523.0,67.8 L522.9,68.6 L522.8,69.5 L522.8,70.2 L522.7,70.8 L522.6,71.4 L522.5,71.9 L522.4,72.4 L522.3,72.7 L522.2,73.0 L522.2,73.2 L522.1,73.3 L522.0,73.3 L521.9,73.2 L521.8,73.1 L521.7,72.9 L521.6,72.6 L521.6,72.2 L521.5,71.8 L521.4,71.3 L521.3,70.7 L521.2,70.0 L521.1,69.2 L521.0,68.4 L521.0,67.5 L520.9,66.5 L520.8,65.5 L520.7,64.4 L520.6,63.2 L520.5,62.0 L520.4,60.7 L520.4,59.3 L520.3,57.9 L520.2,56.4 L520.1,54.8 L520.0,53.1 L519.9,51.2 L519.8,49.8 L519.7,51.9 L519.7,53.7 L519.6,55.4 L519.5,56.9 L519.4,58.4 L519.3,59.8 L519.2,61.2 L519.1,62.4 L519.1,63.6 L519.0,64.8 L518.9,65.9 L518.8,66.9 L518.7,67.8 L518.6,68.7 L518.5,69.5 L518.5,70.2 L518.4,70.9 L518.3,71.4 L518.2,72.0 L518.1,72.4 L518.0,72.7 L517.9,73.0 L517.9,73.2 L517.8,73.3 L517.7,73.3 L517.6,73.2 L517.5,73.1 L517.4,72.9 L517.3,72.6 L517.3,72.2 L517.2,71.8 L517.1,71.2 L517.0,70.6 L516.9,69.9 L516.8,69.2 L516.7,68.3 L516.6,67.4 L516.6,66.5 L516.5,65.4 L516.4,64.3 L516.3,63.2 L516.2,61.9 L516.1,60.6 L516.0,59.3 L516.0,57.8 L515.9,56.3 L515.8,54.7 L515.7,53.0 L515.6,51.1 L515.5,49.9 L515.4,52.0 L515.4,53.8 L515.3,55.4 L515.2,57.0 L515.1,58.5 L515.0,59.9 L514.9,61.2 L514.8,62.5 L514.8,63.7 L514.7,64.8 L514.6,65.9 L514.5,66.9 L514.4,67.9 L514.3,68.7 L514.2,69.5 L514.2,70.3 L514.1,70.9 L514.0,71.5 L513.9,72.0 L513.8,72.4 L513.7,72.7 L513.6,73.0 L513.6,73.2 L513.5,73.3 L513.4,73.3 L513.3,73.2 L513.2,73.1 L513.1,72.9 L513.0,72.6 L512.9,72.2 L512.9,71.7 L512.8,71.2 L512.7,70.6 L512.6,69.9 L512.5,69.1 L512.4,68.3 L512.3,67.4 L512.3,66.4 L512.2,65.4 L512.1,64.3 L512.0,63.1 L511.9,61.9 L511.8,60.6 L511.7,59.2 L511.7,57.7 L511.6,56.2 L511.5,54.6 L511.4,52.9 L511.3,51.0 L511.2,50.1 L511.1,52.1 L511.1,53.9 L511.0,55.5 L510.9,57.1 L510.8,58.5 L510.7,60.0 L510.6,61.3 L510.5,62.6 L510.5,63.8 L510.4,64.9 L510.3,66.0 L510.2,67.0 L510.1,67.9 L510.0,68.8 L509.9,69.6 L509.8,70.3 L509.8,70.9 L509.7,71.5 L509.6,72.0 L509.5,72.4 L509.4,72.7 L509.3,73.0 L509.2,73.2 L509.2,73.3 L509.1,73.3 L509.0,73.2 L508.9,73.1 L508.8,72.9 L508.7,72.6 L508.6,72.2 L508.6,71.7 L508.5,71.2 L508.4,70.6 L508.3,69.9 L508.2,69.1 L508.1,68.3 L508.0,67.4 L508.0,66.4 L507.9,65.3 L507.8,64.2 L507.7,63.0 L507.6,61.8 L507.5,60.5 L507.4,59.1 L507.4,57.7 L507.3,56.2 L507.2,54.6 L507.1,52.8 L507.0,50.9 L506.9,50.2 L506.8,52.2 L506.7,54.0 L506.7,55.6 L506.6,57.2 L506.5,58.6 L506.4,60.0 L506.3,61.3 L506.2,62.6 L506.1,63.8 L506.1,65.0 L506.0,66.0 L505.9,67.0 L505.8,68.0 L505.7,68.8 L505.6,69.6 L505.5,70.3 L505.5,71.0 L505.4,71.5 L505.3,72.0 L505.2,72.4 L505.1,72.8 L505.0,73.0 L504.9,73.2 L504.9,73.3 L504.8,73.3 L504.7,73.2 L504.6,73.1 L504.5,72.8 L504.4,72.5 L504.3,72.2 L504.3,71.7 L504.2,71.1 L504.1,70.5 L504.0,69.8 L503.9,69.1 L503.8,68.2 L503.7,67.3 L503.7,66.3 L503.6,65.3 L503.5,64.2 L503.4,63.0 L503.3,61.7 L503.2,60.4 L503.1,59.0 L503.0,57.6 L503.0,56.1 L502.9,54.5 L502.8,52.7 L502.7,50.8 L502.6,50.3 L502.5,52.3 L502.4,54.1 L502.4,55.7 L502.3,57.2 L502.2,58.7 L502.1,60.1 L502.0,61.4 L501.9,62.7 L501.8,63.9 L501.8,65.0 L501.7,66.1 L501.6,67.1 L501.5,68.0 L501.4,68.9 L501.3,69.6 L501.2,70.4 L501.2,71.0 L501.1,71.6 L501.0,72.0 L500.9,72.4 L500.8,72.8 L500.7,73.0 L500.6,73.2 L500.6,73.3 L500.5,73.3 L500.4,73.2 L500.3,73.1 L500.2,72.8 L500.1,72.5 L500.0,72.1 L499.9,71.7 L499.9,71.1 L499.8,70.5 L499.7,69.8 L499.6,69.0 L499.5,68.2 L499.4,67.3 L499.3,66.3 L499.3,65.2 L499.2,64.1 L499.1,62.9 L499.0,61.7 L498.9,60.4 L498.8,59.0 L498.7,57.5 L498.7,56.0 L498.6,54.4 L498.5,52.7 L498.4,50.7 L498.3,50.4 L498.2,52.4 L498.1,54.1 L498.1,55.8 L498.0,57.3 L497.9,58.8 L497.8,60.2 L497.7,61.5 L497.6,62.7 L497.5,63.9 L497.5,65.1 L497.4,66.1 L497.3,67.1 L497.2,68.0 L497.1,68.9 L497.0,69.7 L496.9,70.4 L496.8,71.0 L496.8,71.6 L496.7,72.1 L496.6,72.5 L496.5,72.8 L496.4,73.0 L496.3,73.2 L496.2,73.3 L496.2,73.3 L496.1,73.2 L496.0,73.1 L495.9,72.8 L495.8,72.5 L495.7,72.1 L495.6,71.6 L495.6,71.1 L495.5,70.5 L495.4,69.8 L495.3,69.0 L495.2,68.1 L495.1,67.2 L495.0,66.2 L495.0,65.2 L494.9,64.0 L494.8,62.9 L494.7,61.6 L494.6,60.3 L494.5,58.9 L494.4,57.5 L494.4,55.9 L494.3,54.3 L494.2,52.6 L494.1,50.6 L494.0,50.5 L493.9,52.5 L493.8,54.2 L493.8,55.8 L493.7,57.4 L493.6,58.8 L493.5,60.2 L493.4,61.5 L493.3,62.8 L493.2,64.0 L493.1,65.1 L493.1,66.2 L493.0,67.2 L492.9,68.1 L492.8,68.9 L492.7,69.7 L492.6,70.4 L492.5,71.1 L492.5,71.6 L492.4,72.1 L492.3,72.5 L492.2,72.8 L492.1,73.0 L492.0,73.2 L491.9,73.3 L491.9,73.3 L491.8,73.2 L491.7,73.0 L491.6,72.8 L491.5,72.5 L491.4,72.1 L491.3,71.6 L491.3,71.1 L491.2,70.4 L491.1,69.7 L491.0,68.9 L490.9,68.1 L490.8,67.2 L490.7,66.2 L490.7,65.1 L490.6,64.0 L490.5,62.8 L490.4,61.5 L490.3,60.2 L490.2,58.8 L490.1,57.4 L490.0,55.8 L490.0,54.2 L489.9,52.5 L489.8,50.5 L489.7,50.6 L489.6,52.6 L489.5,54.3 L489.4,55.9 L489.4,57.5 L489.3,58.9 L489.2,60.3 L489.1,61.6 L489.0,62.9 L488.9,64.0 L488.8,65.2 L488.8,66.2 L488.7,67.2 L488.6,68.1 L488.5,69.0 L488.4,69.8 L488.3,70.5 L488.2,71.1 L488.2,71.6 L488.1,72.1 L488.0,72.5 L487.9,72.8 L487.8,73.1 L487.7,73.2 L487.6,73.3 L487.6,73.3 L487.5,73.2 L487.4,73.0 L487.3,72.8 L487.2,72.5 L487.1,72.1 L487.0,71.6 L487.0,71.0 L486.9,70.4 L486.8,69.7 L486.7,68.9 L486.6,68.0 L486.5,67.1 L486.4,66.1 L486.3,65.1 L486.3,63.9 L486.2,62.7 L486.1,61.5 L486.0,60.2 L485.9,58.8 L485.8,57.3 L485.7,55.8 L485.7,54.1 L485.6,52.4 L485.5,50.4 L485.4,50.7 L485.3,52.7 L485.2,54.4 L485.1,56.0 L485.1,57.5 L485.0,59.0 L484.9,60.4 L484.8,61.7 L484.7,62.9 L484.6,64.1 L484.5,65.2 L484.5,66.3 L484.4,67.3 L484.3,68.2 L484.2,69.0 L484.1,69.8 L484.0,70.5 L483.9,71.1 L483.9,71.7 L483.8,72.1 L483.7,72.5 L483.6,72.8 L483.5,73.1 L483.4,73.2 L483.3,73.3 L483.2,73.3 L483.2,73.2 L483.1,73.0 L483.0,72.8 L482.9,72.4 L482.8,72.0 L482.7,71.6 L482.6,71.0 L482.6,70.4 L482.5,69.6 L482.4,68.9 L482.3,68.0 L482.2,67.1 L482.1,66.1 L482.0,65.0 L482.0,63.9 L481.9,62.7 L481.8,61.4 L481.7,60.1 L481.6,58.7 L481.5,57.2 L481.4,55.7 L481.4,54.1 L481.3,52.3 L481.2,50.3 L481.1,50.8 L481.0,52.7 L480.9,54.5 L480.8,56.1 L480.8,57.6 L480.7,59.0 L480.6,60.4 L480.5,61.7 L480.4,63.0 L480.3,64.2 L480.2,65.3 L480.1,66.3 L480.1,67.3 L480.0,68.2 L479.9,69.1 L479.8,69.8 L479.7,70.5 L479.6,71.1 L479.5,71.7 L479.5,72.2 L479.4,72.5 L479.3,72.8 L479.2,73.1 L479.1,73.2 L479.0,73.3 L478.9,73.3 L478.9,73.2 L478.8,73.0 L478.7,72.8 L478.6,72.4 L478.5,72.0 L478.4,71.5 L478.3,71.0 L478.3,70.3 L478.2,69.6 L478.1,68.8 L478.0,68.0 L477.9,67.0 L477.8,66.0 L477.7,65.0 L477.7,63.8 L477.6,62.6 L477.5,61.3 L477.4,60.0 L477.3,58.6 L477.2,57.2 L477.1,55.6 L477.1,54.0 L477.0,52.2 L476.9,50.2 L476.8,50.9 L476.7,52.8 L476.6,54.6 L476.5,56.2 L476.4,57.7 L476.4,59.1 L476.3,60.5 L476.2,61.8 L476.1,63.0 L476.0,64.2 L475.9,65.3 L475.8,66.4 L475.8,67.4 L475.7,68.3 L475.6,69.1 L475.5,69.9 L475.4,70.6 L475.3,71.2 L475.2,71.7 L475.2,72.2 L475.1,72.6 L475.0,72.9 L474.9,73.1 L474.8,73.2 L474.7,73.3 L474.6,73.3 L474.6,73.2 L474.5,73.0 L474.4,72.7 L474.3,72.4 L474.2,72.0 L474.1,71.5 L474.0,70.9 L474.0,70.3 L473.9,69.6 L473.8,68.8 L473.7,67.9 L473.6,67.0 L473.5,66.0 L473.4,64.9 L473.3,63.8 L473.3,62.6 L473.2,61.3 L473.1,60.0 L473.0,58.5 L472.9,57.1 L472.8,55.5 L472.7,53.9 L472.7,52.1 L472.6,50.1 L472.5,51.0 L472.4,52.9 L472.3,54.6 L472.2,56.2 L472.1,57.7 L472.1,59.2 L472.0,60.6 L471.9,61.9 L471.8,63.1 L471.7,64.3 L471.6,65.4 L471.5,66.4 L471.5,67.4 L471.4,68.3 L471.3,69.1 L471.2,69.9 L471.1,70.6 L471.0,71.2 L470.9,71.7 L470.9,72.2 L470.8,72.6 L470.7,72.9 L470.6,73.1 L470.5,73.2 L470.4,73.3 L470.3,73.3 L470.2,73.2 L470.2,73.0 L470.1,72.7 L470.0,72.4 L469.9,72.0 L469.8,71.5 L469.7,70.9 L469.6,70.3 L469.6,69.5 L469.5,68.7 L469.4,67.9 L469.3,66.9 L469.2,65.9 L469.1,64.8 L469.0,63.7 L469.0,62.5 L468.9,61.2 L468.8,59.9 L468.7,58.5 L468.6,57.0 L468.5,55.4 L468.4,53.8 L468.4,52.0 L468.3,49.9 L468.2,51.1 L468.1,53.0 L468.0,54.7 L467.9,56.3 L467.8,57.8 L467.8,59.3 L467.7,60.6 L467.6,61.9 L467.5,63.2 L467.4,64.3 L467.3,65.4 L467.2,66.5 L467.2,67.4 L467.1,68.3 L467.0,69.2 L466.9,69.9 L466.8,70.6 L466.7,71.2 L466.6,71.8 L466.5,72.2 L466.5,72.6 L466.4,72.9 L466.3,73.1 L466.2,73.2 L466.1,73.3 L466.0,73.3 L465.9,73.2 L465.9,73.0 L465.8,72.7 L465.7,72.4 L465.6,72.0 L465.5,71.4 L465.4,70.9 L465.3,70.2 L465.3,69.5 L465.2,68.7 L465.1,67.8 L465.0,66.9 L464.9,65.9 L464.8,64.8 L464.7,63.6 L464.7,62.4 L464.6,61.2 L464.5,59.8 L464.4,58.4 L464.3,56.9 L464.2,55.4 L464.1,53.7 L464.1,51.9 L464.0,49.8 L463.9,51.2 L463.8,53.1 L463.7,54.8 L463.6,56.4 L463.5,57.9 L463.4,59.3 L463.4,60.7 L463.3,62.0 L463.2,63.2 L463.1,64.4 L463.0,65.5 L462.9,66.5 L462.8,67.5 L462.8,68.4 L462.7,69.2 L462.6,70.0 L462.5,70.7 L462.4,71.3 L462.3,71.8 L462.2,72.2 L462.2,72.6 L462.1,72.9 L462.0,73.1 L461.9,73.2 L461.8,73.3 L461.7,73.3 L461.6,73.2 L461.6,73.0 L461.5,72.7 L461.4,72.4 L461.3,71.9 L461.2,71.4 L461.1,70.8 L461.0,70.2 L461.0,69.5 L460.9,68.6 L460.8,67.8 L460.7,66.8 L460.6,65.8 L460.5,64.7 L460.4,63.6 L460.3,62.4 L460.3,61.1 L460.2,59.7 L460.1,58.3 L460.0,56.9 L459.9,55.3 L459.8,53.6 L459.7,51.8 L459.7,49.7 L459.6,51.3 L459.5,53.2 L459.4,54.9 L459.3,56.5 L459.2,58.0 L459.1,59.4 L459.1,60.8 L459.0,62.1 L458.9,63.3 L458.8,64.4 L458.7,65.5 L458.6,66.6 L458.5,67.5 L458.5,68.4 L458.4,69.3 L458.3,70.0 L458.2,70.7 L458.1,71.3 L458.0,71.8 L457.9,72.3 L457.9,72.6 L457.8,72.9 L457.7,73.1 L457.6,73.3 L457.5,73.3 L457.4,73.3 L457.3,73.2 L457.3,73.0 L457.2,72.7 L457.1,72.3 L457.0,71.9 L456.9,71.4 L456.8,70.8 L456.7,70.1 L456.6,69.4 L456.6,68.6 L456.5,67.7 L456.4,66.8 L456.3,65.8 L456.2,64.7 L456.1,63.5 L456.0,62.3 L456.0,61.0 L455.9,59.7 L455.8,58.3 L455.7,56.8 L455.6,55.2 L455.5,53.5 L455.4,51.7 L455.4,49.6 L455.3,51.4 L455.2,53.3 L455.1,55.0 L455.0,56.5 L454.9,58.0 L454.8,59.5 L454.8,60.8 L454.7,62.1 L454.6,63.3 L454.5,64.5 L454.4,65.6 L454.3,66.6 L454.2,67.6 L454.2,68.5 L454.1,69.3 L454.0,70.0 L453.9,70.7 L453.8,71.3 L453.7,71.8 L453.6,72.3 L453.5,72.6 L453.5,72.9 L453.4,73.1 L453.3,73.3 L453.2,73.3 L453.1,73.3 L453.0,73.1 L452.9,72.9 L452.9,72.7 L452.8,72.3 L452.7,71.9 L452.6,71.4 L452.5,70.8 L452.4,70.1 L452.3,69.4 L452.3,68.6 L452.2,67.7 L452.1,66.7 L452.0,65.7 L451.9,64.6 L451.8,63.5 L451.7,62.2 L451.7,61.0 L451.6,59.6 L451.5,58.2 L451.4,56.7 L451.3,55.1 L451.2,53.5 L451.1,51.6 L451.1,49.4 L451.0,51.5 L450.9,53.4 L450.8,55.0 L450.7,56.6 L450.6,58.1 L450.5,59.5 L450.4,60.9 L450.4,62.2 L450.3,63.4 L450.2,64.6 L450.1,65.7 L450.0,66.7 L449.9,67.6 L449.8,68.5 L449.8,69.3 L449.7,70.1 L449.6,70.7 L449.5,71.3 L449.4,71.9 L449.3,72.3 L449.2,72.7 L449.2,72.9 L449.1,73.1 L449.0,73.3 L448.9,73.3Z" fill="#0a0aff" stroke="#0a0aff" stroke-width="0.6" stroke-linejoin="round"/>
<rect x="448.90" y="43.90" width="86.00" height="10.80" fill="#0a0aff"/>
<rect x="89.30" y="161.40" width="89.00" height="55.40" fill="#fff" stroke="#a6a6a6" stroke-width="1"/>
<text x="87.40" y="166.60" class="tk" text-anchor="end">2</text>
<text x="87.40" y="191.50" class="tk" text-anchor="end">0</text>
<text x="87.40" y="215.50" class="tk" text-anchor="end">-2</text>
<text x="88.50" y="223.00" class="tk" text-anchor="middle">0.00</text>
<text x="130.90" y="223.00" class="tk" text-anchor="middle">0.05</text>
<text x="173.00" y="223.00" class="tk" text-anchor="middle">0.10</text>
<text x="133.80" y="232.70" class="ax7" text-anchor="middle">Time (s)</text>
<text transform="translate(78.80,189.70) rotate(-90)" class="av" text-anchor="middle">Amplitude (v)</text>
<polyline points="88.90,189.10 89.23,186.08 89.57,183.11 89.90,180.23 90.23,177.50 90.56,174.94 90.90,172.62 91.23,170.55 91.56,168.78 91.89,167.34 92.23,166.24 92.56,165.50 92.89,165.14 93.22,165.16 93.56,165.56 93.89,166.33 94.22,167.47 94.55,168.95 94.89,170.75 95.22,172.84 95.55,175.19 95.88,177.76 96.22,180.51 96.55,183.40 96.88,186.38 97.21,189.40 97.55,192.42 97.88,195.38 98.21,198.25 98.54,200.97 98.88,203.50 99.21,205.80 99.54,207.84 99.87,209.58 100.21,210.99 100.54,212.05 100.87,212.75 101.20,213.08 101.54,213.02 101.87,212.58 102.20,211.77 102.53,210.60 102.87,209.09 103.20,207.26 103.53,205.14 103.86,202.76 104.20,200.17 104.53,197.40 104.86,194.50 105.19,191.52 105.53,188.49 105.86,185.48 106.19,182.52 106.52,179.67 106.86,176.97 107.19,174.46 107.52,172.18 107.85,170.18 108.19,168.47 108.52,167.09 108.85,166.06 109.18,165.40 109.52,165.11 109.85,165.21 110.18,165.68 110.51,166.53 110.85,167.74 111.18,169.28 111.51,171.14 111.84,173.29 112.18,175.69 112.51,178.30 112.84,181.08 113.17,183.99 113.51,186.98 113.84,190.01 114.17,193.02 114.50,195.97 114.84,198.81 115.17,201.49 115.50,203.98 115.83,206.23 116.17,208.21 116.50,209.88 116.83,211.23 117.17,212.22 117.50,212.85 117.83,213.10 118.16,212.96 118.50,212.45 118.83,211.57 119.16,210.32 119.49,208.75 119.83,206.85 120.16,204.68 120.49,202.26 120.82,199.63 121.16,196.83 121.49,193.91 121.82,190.92 122.15,187.89 122.49,184.88 122.82,181.94 123.15,179.12 123.48,176.45 123.82,173.98 124.15,171.76 124.48,169.81 124.81,168.17 125.15,166.86 125.48,165.90 125.81,165.31 126.14,165.10 126.48,165.27 126.81,165.82 127.14,166.74 127.47,168.02 127.81,169.63 128.14,171.55 128.47,173.75 128.80,176.19 129.14,178.84 129.47,181.65 129.80,184.59 130.13,187.59 130.47,190.61 130.80,193.61 131.13,196.55 131.46,199.36 131.80,202.01 132.13,204.45 132.46,206.65 132.79,208.57 133.13,210.18 133.46,211.46 133.79,212.38 134.12,212.93 134.46,213.10 134.79,212.89 135.12,212.30 135.45,211.34 135.79,210.03 136.12,208.39 136.45,206.44 136.78,204.22 137.12,201.75 137.45,199.08 137.78,196.26 138.11,193.32 138.45,190.31 138.78,187.28 139.11,184.29 139.44,181.37 139.78,178.57 140.11,175.94 140.44,173.52 140.77,171.35 141.11,169.45 141.44,167.88 141.77,166.63 142.10,165.75 142.44,165.24 142.77,165.10 143.10,165.35 143.43,165.98 143.77,166.97 144.10,168.32 144.43,169.99 144.77,171.97 145.10,174.22 145.43,176.71 145.76,179.39 146.10,182.23 146.43,185.18 146.76,188.19 147.09,191.22 147.43,194.21 147.76,197.12 148.09,199.90 148.42,202.51 148.76,204.91 149.09,207.06 149.42,208.92 149.75,210.46 150.09,211.67 150.42,212.52 150.75,212.99 151.08,213.09 151.42,212.80 151.75,212.14 152.08,211.11 152.41,209.73 152.75,208.02 153.08,206.02 153.41,203.74 153.74,201.23 154.08,198.53 154.41,195.68 154.74,192.72 155.07,189.71 155.41,186.68 155.74,183.70 156.07,180.80 156.40,178.03 156.74,175.44 157.07,173.06 157.40,170.94 157.73,169.11 158.07,167.60 158.40,166.43 158.73,165.62 159.06,165.18 159.40,165.12 159.73,165.45 160.06,166.15 160.39,167.21 160.73,168.62 161.06,170.36 161.39,172.40 161.72,174.70 162.06,177.23 162.39,179.95 162.72,182.82 163.05,185.78 163.39,188.80 163.72,191.82 164.05,194.80 164.38,197.69 164.72,200.44 165.05,203.01 165.38,205.36 165.71,207.45 166.05,209.25 166.38,210.73 166.71,211.87 167.04,212.64 167.38,213.04 167.71,213.06 168.04,212.70 168.37,211.96 168.71,210.86 169.04,209.42 169.37,207.65 169.70,205.58 170.04,203.26 170.37,200.70 170.70,197.97 171.03,195.09 171.37,192.12 171.70,189.10" fill="none" stroke="#0a0aff" stroke-width="1.8" stroke-linejoin="round"/>
<rect x="268.80" y="161.40" width="89.00" height="55.40" fill="#fff" stroke="#a6a6a6" stroke-width="1"/>
<text x="266.90" y="166.60" class="tk" text-anchor="end">2</text>
<text x="266.90" y="191.50" class="tk" text-anchor="end">0</text>
<text x="266.90" y="215.50" class="tk" text-anchor="end">-2</text>
<text x="269.50" y="223.00" class="tk" text-anchor="middle">0.0</text>
<text x="311.30" y="223.00" class="tk" text-anchor="middle">0.5</text>
<text x="354.00" y="223.00" class="tk" text-anchor="middle">1.0</text>
<text x="313.30" y="232.70" class="ax7" text-anchor="middle">Time (s)</text>
<text transform="translate(258.30,189.70) rotate(-90)" class="av" text-anchor="middle">Amplitude (v)</text>
<defs><polyline id="sige" points="268.2,189.1 268.2,186.0 268.3,182.9 268.3,179.9 268.3,177.1 268.4,174.5 268.4,172.1 268.5,170.1 268.5,168.3 268.5,166.9 268.6,165.9 268.6,165.3 268.6,165.1 268.7,165.3 268.7,165.9 268.7,166.9 268.8,168.3 268.8,170.1 268.8,172.1 268.9,174.5 268.9,177.1 269.0,179.9 269.0,182.9 269.0,186.0 269.1,189.1 269.1,192.3 269.1,195.3 269.2,198.3 269.2,201.1 269.2,203.7 269.3,206.1 269.3,208.2 269.3,209.9 269.4,211.3 269.4,212.3 269.5,212.9 269.5,213.1 269.5,212.9 269.6,212.3 269.6,211.2 269.6,209.8 269.7,208.1 269.7,206.0 269.7,203.7 269.8,201.0 269.8,198.2 269.8,195.3 269.9,192.2 269.9,189.0 270.0,185.9 270.0,182.8 270.0,179.9 270.1,177.0 270.1,174.4 270.1,172.1 270.2,170.0 270.2,168.3 270.2,166.9 270.3,165.9 270.3,165.3 270.3,165.1 270.4,165.3 270.4,166.0 270.5,167.0 270.5,168.4 270.5,170.1 270.6,172.2 270.6,174.6 270.6,177.2 270.7,180.0 270.7,183.0 270.7,186.1 270.8,189.2 270.8,192.3 270.8,195.4 270.9,198.4 270.9,201.2 271.0,203.8 271.0,206.1 271.0,208.2 271.1,209.9 271.1,211.3 271.1,212.3 271.2,212.9 271.2,213.1 271.2,212.8 271.3,212.2 271.3,211.2 271.4,209.8 271.4,208.0 271.4,206.0 271.5,203.6 271.5,201.0 271.5,198.2 271.6,195.2 271.6,192.1 271.6,189.0 271.7,185.8 271.7,182.8 271.7,179.8 271.8,177.0 271.8,174.4 271.9,172.1 271.9,170.0 271.9,168.3 272.0,166.9 272.0,165.9 272.0,165.3 272.1,165.1 272.1,165.4 272.1,166.0 272.2,167.0 272.2,168.4 272.2,170.2 272.3,172.3 272.3,174.6 272.4,177.3 272.4,180.1 272.4,183.1 272.5,186.1 272.5,189.3 272.5,192.4 272.6,195.5 272.6,198.4 272.6,201.2 272.7,203.8 272.7,206.1 272.7,208.2 272.8,209.9 272.8,211.3 272.9,212.3 272.9,212.9 272.9,213.0 273.0,212.8 273.0,212.2 273.0,211.1 273.1,209.7 273.1,208.0 273.1,205.9 273.2,203.5 273.2,200.9 273.2,198.1 273.3,195.1 273.3,192.0 273.4,188.9 273.4,185.8 273.4,182.7 273.5,179.8 273.5,177.0 273.5,174.4 273.6,172.0 273.6,170.0 273.6,168.3 273.7,166.9 273.7,165.9 273.8,165.4 273.8,165.2 273.8,165.4 273.9,166.1 273.9,167.1 273.9,168.5 274.0,170.3 274.0,172.3 274.0,174.7 274.1,177.3 274.1,180.1 274.1,183.1 274.2,186.2 274.2,189.3 274.3,192.4 274.3,195.5 274.3,198.5 274.4,201.2 274.4,203.8 274.4,206.2 274.5,208.2 274.5,209.9 274.5,211.3 274.6,212.2 274.6,212.8 274.6,213.0 274.7,212.8 274.7,212.1 274.8,211.1 274.8,209.7 274.8,207.9 274.9,205.8 274.9,203.5 274.9,200.8 275.0,198.0 275.0,195.0 275.0,192.0 275.1,188.8 275.1,185.7 275.1,182.7 275.2,179.7 275.2,176.9 275.3,174.4 275.3,172.0 275.3,170.0 275.4,168.3 275.4,166.9 275.4,166.0 275.5,165.4 275.5,165.2 275.5,165.5 275.6,166.1 275.6,167.1 275.6,168.6 275.7,170.3 275.7,172.4 275.8,174.8 275.8,177.4 275.8,180.2 275.9,183.2 275.9,186.3 275.9,189.4 276.0,192.5 276.0,195.6 276.0,198.5 276.1,201.3 276.1,203.9 276.1,206.2 276.2,208.2 276.2,209.9 276.3,211.3 276.3,212.2 276.3,212.8 276.4,213.0 276.4,212.7 276.4,212.1 276.5,211.0 276.5,209.6 276.5,207.8 276.6,205.8 276.6,203.4 276.7,200.8 276.7,197.9 276.7,195.0 276.8,191.9 276.8,188.8 276.8,185.7 276.9,182.6 276.9,179.7 276.9,176.9 277.0,174.3 277.0,172.0 277.0,170.0 277.1,168.3 277.1,167.0 277.2,166.0 277.2,165.4 277.2,165.3 277.3,165.5 277.3,166.2 277.3,167.2 277.4,168.6 277.4,170.4 277.4,172.5 277.5,174.9 277.5,177.5 277.5,180.3 277.6,183.3 277.6,186.3 277.7,189.4 277.7,192.6 277.7,195.6 277.8,198.5 277.8,201.3 277.8,203.9 277.9,206.2 277.9,208.2 277.9,209.9 278.0,211.2 278.0,212.2 278.0,212.8 278.1,212.9 278.1,212.7 278.2,212.0 278.2,211.0 278.2,209.5 278.3,207.8 278.3,205.7 278.3,203.3 278.4,200.7 278.4,197.9 278.4,194.9 278.5,191.8 278.5,188.7 278.5,185.6 278.6,182.6 278.6,179.6 278.7,176.9 278.7,174.3 278.7,172.0 278.8,170.0 278.8,168.3 278.8,167.0 278.9,166.0 278.9,165.5 278.9,165.3 279.0,165.6 279.0,166.2 279.0,167.3 279.1,168.7 279.1,170.5 279.2,172.6 279.2,174.9 279.2,177.6 279.3,180.4 279.3,183.3 279.3,186.4 279.4,189.5 279.4,192.6 279.4,195.6 279.5,198.6 279.5,201.3 279.6,203.9 279.6,206.2 279.6,208.2 279.7,209.9 279.7,211.2 279.7,212.2 279.8,212.7 279.8,212.9 279.8,212.6 279.9,211.9 279.9,210.9 279.9,209.5 280.0,207.7 280.0,205.6 280.1,203.2 280.1,200.6 280.1,197.8 280.2,194.8 280.2,191.8 280.2,188.7 280.3,185.6 280.3,182.5 280.3,179.6 280.4,176.8 280.4,174.3 280.4,172.0 280.5,170.0 280.5,168.3 280.6,167.0 280.6,166.1 280.6,165.5 280.7,165.4 280.7,165.6 280.7,166.3 280.8,167.4 280.8,168.8 280.8,170.6 280.9,172.6 280.9,175.0 280.9,177.6 281.0,180.4 281.0,183.4 281.1,186.5 281.1,189.6 281.1,192.7 281.2,195.7 281.2,198.6 281.2,201.4 281.3,203.9 281.3,206.2 281.3,208.2 281.4,209.9 281.4,211.2 281.4,212.1 281.5,212.7 281.5,212.8 281.6,212.5 281.6,211.9 281.6,210.8 281.7,209.4 281.7,207.6 281.7,205.5 281.8,203.1 281.8,200.5 281.8,197.7 281.9,194.8 281.9,191.7 281.9,188.6 282.0,185.5 282.0,182.5 282.1,179.6 282.1,176.8 282.1,174.3 282.2,172.0 282.2,170.0 282.2,168.3 282.3,167.0 282.3,166.1 282.3,165.6 282.4,165.4 282.4,165.7 282.5,166.4 282.5,167.4 282.5,168.9 282.6,170.6 282.6,172.7 282.6,175.1 282.7,177.7 282.7,180.5 282.7,183.5 282.8,186.5 282.8,189.6 282.8,192.7 282.9,195.7 282.9,198.6 283.0,201.4 283.0,203.9 283.0,206.2 283.1,208.2 283.1,209.8 283.1,211.2 283.2,212.1 283.2,212.6 283.2,212.7 283.3,212.5 283.3,211.8 283.3,210.7 283.4,209.3 283.4,207.5 283.5,205.4 283.5,203.1 283.5,200.4 283.6,197.6 283.6,194.7 283.6,191.6 283.7,188.5 283.7,185.5 283.7,182.4 283.8,179.5 283.8,176.8 283.8,174.3 283.9,172.0 283.9,170.0 284.0,168.4 284.0,167.1 284.0,166.1 284.1,165.6 284.1,165.5 284.1,165.8 284.2,166.4 284.2,167.5 284.2,168.9 284.3,170.7 284.3,172.8 284.3,175.2 284.4,177.8 284.4,180.6 284.5,183.6 284.5,186.6 284.5,189.7 284.6,192.8 284.6,195.8 284.6,198.7 284.7,201.4 284.7,203.9 284.7,206.2 284.8,208.2 284.8,209.8 284.9,211.1 284.9,212.0 284.9,212.6 285.0,212.7 285.0,212.4 285.0,211.7 285.1,210.6 285.1,209.2 285.1,207.4 285.2,205.3 285.2,203.0 285.2,200.4 285.3,197.6 285.3,194.6 285.4,191.6 285.4,188.5 285.4,185.4 285.5,182.4 285.5,179.5 285.5,176.8 285.6,174.3 285.6,172.0 285.6,170.0 285.7,168.4 285.7,167.1 285.7,166.2 285.8,165.7 285.8,165.6 285.9,165.8 285.9,166.5 285.9,167.6 286.0,169.0 286.0,170.8 286.0,172.9 286.1,175.3 286.1,177.9 286.1,180.7 286.2,183.6 286.2,186.7 286.2,189.7 286.3,192.8 286.3,195.8 286.4,198.7 286.4,201.4 286.4,203.9 286.5,206.2 286.5,208.2 286.5,209.8 286.6,211.1 286.6,212.0 286.6,212.5 286.7,212.6 286.7,212.3 286.7,211.6 286.8,210.6 286.8,209.1 286.9,207.3 286.9,205.2 286.9,202.9 287.0,200.3 287.0,197.5 287.0,194.5 287.1,191.5 287.1,188.4 287.1,185.4 287.2,182.4 287.2,179.5 287.2,176.8 287.3,174.3 287.3,172.0 287.4,170.1 287.4,168.4 287.4,167.1 287.5,166.2 287.5,165.7 287.5,165.6 287.6,165.9 287.6,166.6 287.6,167.7 287.7,169.1 287.7,170.9 287.8,173.0 287.8,175.4 287.8,178.0 287.9,180.8 287.9,183.7 287.9,186.7 288.0,189.8 288.0,192.9 288.0,195.9 288.1,198.7 288.1,201.4 288.1,203.9 288.2,206.2 288.2,208.1 288.3,209.8 288.3,211.0 288.3,211.9 288.4,212.4 288.4,212.5 288.4,212.2 288.5,211.6 288.5,210.5 288.5,209.0 288.6,207.2 288.6,205.2 288.6,202.8 288.7,200.2 288.7,197.4 288.8,194.5 288.8,191.4 288.8,188.4 288.9,185.3 288.9,182.3 288.9,179.5 289.0,176.7 289.0,174.3 289.0,172.0 289.1,170.1 289.1,168.5 289.1,167.2 289.2,166.3 289.2,165.8 289.3,165.7 289.3,166.0 289.3,166.7 289.4,167.8 289.4,169.2 289.4,171.0 289.5,173.1 289.5,175.5 289.5,178.1 289.6,180.9 289.6,183.8 289.6,186.8 289.7,189.9 289.7,192.9 289.8,195.9 289.8,198.8 289.8,201.5 289.9,203.9 289.9,206.2 289.9,208.1 290.0,209.7 290.0,211.0 290.0,211.9 290.1,212.4 290.1,212.5 290.1,212.2 290.2,211.5 290.2,210.4 290.3,208.9 290.3,207.2 290.3,205.1 290.4,202.7 290.4,200.1 290.4,197.3 290.5,194.4 290.5,191.4 290.5,188.3 290.6,185.3 290.6,182.3 290.7,179.4 290.7,176.7 290.7,174.3 290.8,172.0 290.8,170.1 290.8,168.5 290.9,167.2 290.9,166.4 290.9,165.9 291.0,165.8 291.0,166.1 291.0,166.8 291.1,167.9 291.1,169.3 291.2,171.1 291.2,173.2 291.2,175.6 291.3,178.2 291.3,180.9 291.3,183.9 291.4,186.9 291.4,189.9 291.4,193.0 291.5,195.9 291.5,198.8 291.5,201.5 291.6,203.9 291.6,206.2 291.7,208.1 291.7,209.7 291.7,210.9 291.8,211.8 291.8,212.3 291.8,212.4 291.9,212.1 291.9,211.4 291.9,210.3 292.0,208.8 292.0,207.1 292.0,205.0 292.1,202.6 292.1,200.0 292.2,197.2 292.2,194.3 292.2,191.3 292.3,188.2 292.3,185.2 292.3,182.3 292.4,179.4 292.4,176.7 292.4,174.3 292.5,172.0 292.5,170.1 292.5,168.5 292.6,167.3 292.6,166.4 292.7,165.9 292.7,165.8 292.7,166.2 292.8,166.9 292.8,168.0 292.8,169.4 292.9,171.2 292.9,173.3 292.9,175.6 293.0,178.2 293.0,181.0 293.0,183.9 293.1,186.9 293.1,190.0 293.2,193.0 293.2,196.0 293.2,198.8 293.3,201.5 293.3,203.9 293.3,206.2 293.4,208.1 293.4,209.7 293.4,210.9 293.5,211.8 293.5,212.2 293.6,212.3 293.6,212.0 293.6,211.3 293.7,210.2 293.7,208.7 293.7,207.0 293.8,204.9 293.8,202.5 293.8,199.9 293.9,197.1 293.9,194.2 293.9,191.2 294.0,188.2 294.0,185.2 294.1,182.2 294.1,179.4 294.1,176.7 294.2,174.3 294.2,172.1 294.2,170.1 294.3,168.6 294.3,167.3 294.3,166.5 294.4,166.0 294.4,165.9 294.4,166.2 294.5,167.0 294.5,168.1 294.6,169.5 294.6,171.3 294.6,173.4 294.7,175.7 294.7,178.3 294.7,181.1 294.8,184.0 294.8,187.0 294.8,190.0 294.9,193.1 294.9,196.0 294.9,198.8 295.0,201.5 295.0,203.9 295.1,206.1 295.1,208.0 295.1,209.6 295.2,210.8 295.2,211.7 295.2,212.2 295.3,212.2 295.3,211.9 295.3,211.2 295.4,210.1 295.4,208.6 295.4,206.9 295.5,204.8 295.5,202.4 295.6,199.8 295.6,197.1 295.6,194.1 295.7,191.2 295.7,188.1 295.7,185.1 295.8,182.2 295.8,179.4 295.8,176.7 295.9,174.3 295.9,172.1 296.0,170.2 296.0,168.6 296.0,167.4 296.1,166.5 296.1,166.1 296.1,166.0 296.2,166.3 296.2,167.1 296.2,168.2 296.3,169.6 296.3,171.4 296.3,173.5 296.4,175.8 296.4,178.4 296.5,181.2 296.5,184.1 296.5,187.1 296.6,190.1 296.6,193.1 296.6,196.0 296.7,198.9 296.7,201.5 296.7,203.9 296.8,206.1 296.8,208.0 296.8,209.6 296.9,210.8 296.9,211.6 297.0,212.1 297.0,212.1 297.0,211.8 297.1,211.1 297.1,210.0 297.1,208.5 297.2,206.8 297.2,204.7 297.2,202.3 297.3,199.7 297.3,197.0 297.3,194.1 297.4,191.1 297.4,188.1 297.5,185.1 297.5,182.1 297.5,179.3 297.6,176.7 297.6,174.3 297.6,172.1 297.7,170.2 297.7,168.7 297.7,167.4 297.8,166.6 297.8,166.2 297.8,166.1 297.9,166.4 297.9,167.2 298.0,168.3 298.0,169.7 298.0,171.5 298.1,173.6 298.1,175.9 298.1,178.5 298.2,181.3 298.2,184.2 298.2,187.1 298.3,190.2 298.3,193.1 298.3,196.1 298.4,198.9 298.4,201.5 298.5,203.9 298.5,206.1 298.5,208.0 298.6,209.5 298.6,210.7 298.6,211.6 298.7,212.0 298.7,212.1 298.7,211.7 298.8,211.0 298.8,209.9 298.9,208.4 298.9,206.7 298.9,204.6 299.0,202.2 299.0,199.6 299.0,196.9 299.1,194.0 299.1,191.0 299.1,188.0 299.2,185.0 299.2,182.1 299.2,179.3 299.3,176.7 299.3,174.3 299.4,172.1 299.4,170.2 299.4,168.7 299.5,167.5 299.5,166.7 299.5,166.2 299.6,166.2 299.6,166.5 299.6,167.3 299.7,168.4 299.7,169.8 299.7,171.6 299.8,173.7 299.8,176.0 299.9,178.6 299.9,181.4 299.9,184.2 300.0,187.2 300.0,190.2 300.0,193.2 300.1,196.1 300.1,198.9 300.1,201.5 300.2,203.9 300.2,206.1 300.2,207.9 300.3,209.5 300.3,210.7 300.4,211.5 300.4,211.9 300.4,212.0 300.5,211.6 300.5,210.9 300.5,209.8 300.6,208.3 300.6,206.5 300.6,204.5 300.7,202.1 300.7,199.5 300.7,196.8 300.8,193.9 300.8,191.0 300.9,188.0 300.9,185.0 300.9,182.1 301.0,179.3 301.0,176.7 301.0,174.3 301.1,172.1 301.1,170.3 301.1,168.8 301.2,167.6 301.2,166.8 301.2,166.3 301.3,166.3 301.3,166.6 301.4,167.4 301.4,168.5 301.4,169.9 301.5,171.7 301.5,173.8 301.5,176.1 301.6,178.7 301.6,181.4 301.6,184.3 301.7,187.3 301.7,190.3 301.8,193.2 301.8,196.1 301.8,198.9 301.9,201.5 301.9,203.9 301.9,206.0 302.0,207.9 302.0,209.4 302.0,210.6 302.1,211.4 302.1,211.8 302.1,211.9 302.2,211.5 302.2,210.8 302.3,209.7 302.3,208.2 302.3,206.4 302.4,204.4 302.4,202.0 302.4,199.5 302.5,196.7 302.5,193.8 302.5,190.9 302.6,187.9 302.6,184.9 302.6,182.1 302.7,179.3 302.7,176.7 302.8,174.3 302.8,172.2 302.8,170.3 302.9,168.8 302.9,167.6 302.9,166.8 303.0,166.4 303.0,166.4 303.0,166.7 303.1,167.5 303.1,168.6 303.1,170.0 303.2,171.8 303.2,173.9 303.3,176.2 303.3,178.8 303.3,181.5 303.4,184.4 303.4,187.3 303.4,190.3 303.5,193.3 303.5,196.2 303.5,198.9 303.6,201.5 303.6,203.9 303.6,206.0 303.7,207.9 303.7,209.4 303.8,210.5 303.8,211.3 303.8,211.8 303.9,211.8 303.9,211.4 303.9,210.7 304.0,209.6 304.0,208.1 304.0,206.3 304.1,204.3 304.1,201.9 304.1,199.4 304.2,196.6 304.2,193.8 304.3,190.8 304.3,187.9 304.3,184.9 304.4,182.0 304.4,179.3 304.4,176.7 304.5,174.3 304.5,172.2 304.5,170.4 304.6,168.9 304.6,167.7 304.7,166.9 304.7,166.5 304.7,166.5 304.8,166.8 304.8,167.6 304.8,168.7 304.9,170.1 304.9,171.9 304.9,174.0 305.0,176.3 305.0,178.9 305.0,181.6 305.1,184.5 305.1,187.4 305.2,190.4 305.2,193.3 305.2,196.2 305.3,198.9 305.3,201.5 305.3,203.9 305.4,206.0 305.4,207.8 305.4,209.3 305.5,210.5 305.5,211.3 305.5,211.7 305.6,211.7 305.6,211.3 305.7,210.6 305.7,209.5 305.7,208.0 305.8,206.2 305.8,204.1 305.8,201.8 305.9,199.3 305.9,196.5 305.9,193.7 306.0,190.8 306.0,187.8 306.0,184.9 306.1,182.0 306.1,179.3 306.2,176.7 306.2,174.3 306.2,172.2 306.3,170.4 306.3,168.9 306.3,167.8 306.4,167.0 306.4,166.6 306.4,166.6 306.5,166.9 306.5,167.7 306.5,168.8 306.6,170.3 306.6,172.0 306.7,174.1 306.7,176.4 306.7,179.0 306.8,181.7 306.8,184.6 306.8,187.5 306.9,190.4 306.9,193.4 306.9,196.2 307.0,198.9 307.0,201.5 307.1,203.9 307.1,206.0 307.1,207.8 307.2,209.2 307.2,210.4 307.2,211.2 307.3,211.6 307.3,211.6 307.3,211.2 307.4,210.5 307.4,209.4 307.4,207.9 307.5,206.1 307.5,204.0 307.6,201.7 307.6,199.2 307.6,196.4 307.7,193.6 307.7,190.7 307.7,187.7 307.8,184.8 307.8,182.0 307.8,179.3 307.9,176.7 307.9,174.4 307.9,172.3 308.0,170.5 308.0,169.0 308.1,167.8 308.1,167.1 308.1,166.7 308.2,166.7 308.2,167.0 308.2,167.8 308.3,168.9 308.3,170.4 308.3,172.1 308.4,174.2 308.4,176.5 308.4,179.1 308.5,181.8 308.5,184.6 308.6,187.5 308.6,190.5 308.6,193.4 308.7,196.2 308.7,199.0 308.7,201.5 308.8,203.8 308.8,205.9 308.8,207.7 308.9,209.2 308.9,210.3 308.9,211.1 309.0,211.5 309.0,211.5 309.1,211.1 309.1,210.4 309.1,209.2 309.2,207.8 309.2,206.0 309.2,203.9 309.3,201.6 309.3,199.1 309.3,196.4 309.4,193.5 309.4,190.6 309.4,187.7 309.5,184.8 309.5,182.0 309.6,179.2 309.6,176.7 309.6,174.4 309.7,172.3 309.7,170.5 309.7,169.0 309.8,167.9 309.8,167.2 309.8,166.8 309.9,166.8 309.9,167.1 310.0,167.9 310.0,169.0 310.0,170.5 310.1,172.3 310.1,174.3 310.1,176.6 310.2,179.2 310.2,181.9 310.2,184.7 310.3,187.6 310.3,190.5 310.3,193.4 310.4,196.3 310.4,199.0 310.5,201.5 310.5,203.8 310.5,205.9 310.6,207.7 310.6,209.1 310.6,210.2 310.7,211.0 310.7,211.4 310.7,211.4 310.8,211.0 310.8,210.2 310.8,209.1 310.9,207.7 310.9,205.9 311.0,203.8 311.0,201.5 311.0,199.0 311.1,196.3 311.1,193.5 311.1,190.6 311.2,187.6 311.2,184.7 311.2,181.9 311.3,179.2 311.3,176.7 311.3,174.4 311.4,172.3 311.4,170.6 311.5,169.1 311.5,168.0 311.5,167.2 311.6,166.9 311.6,166.9 311.6,167.3 311.7,168.0 311.7,169.1 311.7,170.6 311.8,172.4 311.8,174.4 311.8,176.8 311.9,179.3 311.9,182.0 312.0,184.8 312.0,187.7 312.0,190.6 312.1,193.5 312.1,196.3 312.1,199.0 312.2,201.5 312.2,203.8 312.2,205.8 312.3,207.6 312.3,209.1 312.3,210.2 312.4,210.9 312.4,211.3 312.5,211.3 312.5,210.9 312.5,210.1 312.6,209.0 312.6,207.5 312.6,205.8 312.7,203.7 312.7,201.4 312.7,198.9 312.8,196.2 312.8,193.4 312.9,190.5 312.9,187.6 312.9,184.7 313.0,181.9 313.0,179.2 313.0,176.7 313.1,174.4 313.1,172.4 313.1,170.6 313.2,169.2 313.2,168.1 313.2,167.3 313.3,167.0 313.3,167.0 313.4,167.4 313.4,168.1 313.4,169.3 313.5,170.7 313.5,172.5 313.5,174.5 313.6,176.9 313.6,179.4 313.6,182.1 313.7,184.9 313.7,187.7 313.7,190.6 313.8,193.5 313.8,196.3 313.9,199.0 313.9,201.5 313.9,203.8 314.0,205.8 314.0,207.6 314.0,209.0 314.1,210.1 314.1,210.8 314.1,211.2 314.2,211.2 314.2,210.8 314.2,210.0 314.3,208.9 314.3,207.4 314.4,205.7 314.4,203.6 314.4,201.3 314.5,198.8 314.5,196.1 314.5,193.3 314.6,190.4 314.6,187.5 314.6,184.7 314.7,181.9 314.7,179.2 314.7,176.7 314.8,174.4 314.8,172.4 314.9,170.7 314.9,169.2 314.9,168.2 315.0,167.4 315.0,167.1 315.0,167.1 315.1,167.5 315.1,168.3 315.1,169.4 315.2,170.8 315.2,172.6 315.2,174.7 315.3,177.0 315.3,179.5 315.4,182.1 315.4,184.9 315.4,187.8 315.5,190.7 315.5,193.5 315.5,196.3 315.6,199.0 315.6,201.5 315.6,203.7 315.7,205.8 315.7,207.5 315.8,208.9 315.8,210.0 315.8,210.7 315.9,211.1 315.9,211.1 315.9,210.7 316.0,209.9 316.0,208.8 316.0,207.3 316.1,205.5 316.1,203.5 316.1,201.2 316.2,198.7 316.2,196.0 316.3,193.2 316.3,190.4 316.3,187.5 316.4,184.6 316.4,181.9 316.4,179.2 316.5,176.7 316.5,174.5 316.5,172.5 316.6,170.7 316.6,169.3 316.6,168.2 316.7,167.5 316.7,167.2 316.8,167.2 316.8,167.6 316.8,168.4 316.9,169.5 316.9,171.0 316.9,172.7 317.0,174.8 317.0,177.1 317.0,179.6 317.1,182.2 317.1,185.0 317.1,187.9 317.2,190.7 317.2,193.6 317.3,196.3 317.3,199.0 317.3,201.5 317.4,203.7 317.4,205.7 317.4,207.4 317.5,208.8 317.5,209.9 317.5,210.6 317.6,211.0 317.6,210.9 317.6,210.5 317.7,209.8 317.7,208.6 317.8,207.2 317.8,205.4 317.8,203.4 317.9,201.1 317.9,198.6 317.9,195.9 318.0,193.1 318.0,190.3 318.0,187.4 318.1,184.6 318.1,181.8 318.2,179.2 318.2,176.8 318.2,174.5 318.3,172.5 318.3,170.8 318.3,169.4 318.4,168.3 318.4,167.6 318.4,167.3 318.5,167.3 318.5,167.7 318.5,168.5 318.6,169.6 318.6,171.1 318.7,172.8 318.7,174.9 318.7,177.2 318.8,179.7 318.8,182.3 318.8,185.1 318.9,187.9 318.9,190.8 318.9,193.6 319.0,196.4 319.0,199.0 319.0,201.4 319.1,203.7 319.1,205.7 319.2,207.4 319.2,208.8 319.2,209.8 319.3,210.5 319.3,210.9 319.3,210.8 319.4,210.4 319.4,209.6 319.4,208.5 319.5,207.1 319.5,205.3 319.5,203.3 319.6,201.0 319.6,198.5 319.7,195.8 319.7,193.1 319.7,190.2 319.8,187.4 319.8,184.6 319.8,181.8 319.9,179.2 319.9,176.8 319.9,174.5 320.0,172.6 320.0,170.9 320.0,169.5 320.1,168.4 320.1,167.7 320.2,167.4 320.2,167.4 320.2,167.8 320.3,168.6 320.3,169.7 320.3,171.2 320.4,173.0 320.4,175.0 320.4,177.3 320.5,179.8 320.5,182.4 320.5,185.2 320.6,188.0 320.6,190.8 320.7,193.6 320.7,196.4 320.7,199.0 320.8,201.4 320.8,203.6 320.8,205.6 320.9,207.3 320.9,208.7 320.9,209.7 321.0,210.4 321.0,210.8 321.1,210.7 321.1,210.3 321.1,209.5 321.2,208.4 321.2,206.9 321.2,205.2 321.3,203.1 321.3,200.9 321.3,198.4 321.4,195.7 321.4,193.0 321.4,190.2 321.5,187.3 321.5,184.5 321.6,181.8 321.6,179.2 321.6,176.8 321.7,174.6 321.7,172.6 321.7,170.9 321.8,169.5 321.8,168.5 321.8,167.8 321.9,167.5 321.9,167.5 321.9,168.0 322.0,168.7 322.0,169.9 322.1,171.3 322.1,173.1 322.1,175.1 322.2,177.4 322.2,179.9 322.2,182.5 322.3,185.2 322.3,188.1 322.3,190.9 322.4,193.7 322.4,196.4 322.4,199.0 322.5,201.4 322.5,203.6 322.6,205.6 322.6,207.3 322.6,208.6 322.7,209.7 322.7,210.3 322.7,210.6 322.8,210.6 322.8,210.2 322.8,209.4 322.9,208.3 322.9,206.8 322.9,205.0 323.0,203.0 323.0,200.7 323.1,198.3 323.1,195.7 323.1,192.9 323.2,190.1 323.2,187.3 323.2,184.5 323.3,181.8 323.3,179.2 323.3,176.8 323.4,174.6 323.4,172.7 323.4,171.0 323.5,169.6 323.5,168.6 323.6,167.9 323.6,167.6 323.6,167.7 323.7,168.1 323.7,168.9 323.7,170.0 323.8,171.5 323.8,173.2 323.8,175.2 323.9,177.5 323.9,180.0 324.0,182.6 324.0,185.3 324.0,188.1 324.1,190.9 324.1,193.7 324.1,196.4 324.2,199.0 324.2,201.4 324.2,203.6 324.3,205.5 324.3,207.2 324.3,208.5 324.4,209.6 324.4,210.2 324.5,210.5 324.5,210.5 324.5,210.0 324.6,209.3 324.6,208.1 324.6,206.7 324.7,204.9 324.7,202.9 324.7,200.6 324.8,198.2 324.8,195.6 324.8,192.8 324.9,190.1 324.9,187.3 325.0,184.5 325.0,181.8 325.0,179.2 325.1,176.8 325.1,174.6 325.1,172.7 325.2,171.1 325.2,169.7 325.2,168.7 325.3,168.0 325.3,167.7 325.3,167.8 325.4,168.2 325.4,169.0 325.5,170.1 325.5,171.6 325.5,173.3 325.6,175.4 325.6,177.6 325.6,180.1 325.7,182.7 325.7,185.4 325.7,188.2 325.8,191.0 325.8,193.7 325.8,196.4 325.9,199.0 325.9,201.4 326.0,203.5 326.0,205.5 326.0,207.1 326.1,208.5 326.1,209.5 326.1,210.1 326.2,210.4 326.2,210.4 326.2,209.9 326.3,209.1 326.3,208.0 326.3,206.6 326.4,204.8 326.4,202.8 326.5,200.5 326.5,198.1 326.5,195.5 326.6,192.8 326.6,190.0 326.6,187.2 326.7,184.5 326.7,181.8 326.7,179.2 326.8,176.8 326.8,174.7 326.9,172.8 326.9,171.1 326.9,169.8 327.0,168.8 327.0,168.1 327.0,167.8 327.1,167.9 327.1,168.3 327.1,169.1 327.2,170.3 327.2,171.7 327.2,173.5 327.3,175.5 327.3,177.7 327.4,180.2 327.4,182.8 327.4,185.5 327.5,188.2 327.5,191.0 327.5,193.8 327.6,196.4 327.6,199.0 327.6,201.3 327.7,203.5 327.7,205.4 327.7,207.0 327.8,208.4 327.8,209.4 327.9,210.0 327.9,210.3 327.9,210.2 328.0,209.8 328.0,209.0 328.0,207.9 328.1,206.4 328.1,204.7 328.1,202.7 328.2,200.4 328.2,198.0 328.2,195.4 328.3,192.7 328.3,189.9 328.4,187.2 328.4,184.4 328.4,181.8 328.5,179.2 328.5,176.9 328.5,174.7 328.6,172.8 328.6,171.2 328.6,169.9 328.7,168.9 328.7,168.2 328.7,168.0 328.8,168.0 328.8,168.5 328.9,169.3 328.9,170.4 328.9,171.8 329.0,173.6 329.0,175.6 329.0,177.8 329.1,180.3 329.1,182.9 329.1,185.5 329.2,188.3 329.2,191.1 329.3,193.8 329.3,196.4 329.3,199.0 329.4,201.3 329.4,203.5 329.4,205.4 329.5,207.0 329.5,208.3 329.5,209.3 329.6,209.9 329.6,210.2 329.6,210.1 329.7,209.7 329.7,208.9 329.8,207.7 329.8,206.3 329.8,204.5 329.9,202.5 329.9,200.3 329.9,197.9 330.0,195.3 330.0,192.6 330.0,189.9 330.1,187.1 330.1,184.4 330.1,181.8 330.2,179.2 330.2,176.9 330.3,174.8 330.3,172.9 330.3,171.3 330.4,170.0 330.4,169.0 330.4,168.4 330.5,168.1 330.5,168.2 330.5,168.6 330.6,169.4 330.6,170.5 330.6,172.0 330.7,173.7 330.7,175.7 330.8,178.0 330.8,180.4 330.8,182.9 330.9,185.6 330.9,188.4 330.9,191.1 331.0,193.8 331.0,196.4 331.0,199.0 331.1,201.3 331.1,203.4 331.1,205.3 331.2,206.9 331.2,208.2 331.3,209.2 331.3,209.8 331.3,210.1 331.4,210.0 331.4,209.5 331.4,208.7 331.5,207.6 331.5,206.2 331.5,204.4 331.6,202.4 331.6,200.2 331.6,197.8 331.7,195.2 331.7,192.5 331.8,189.8 331.8,187.1 331.8,184.4 331.9,181.7 331.9,179.3 331.9,176.9 332.0,174.8 332.0,172.9 332.0,171.3 332.1,170.1 332.1,169.1 332.2,168.5 332.2,168.2 332.2,168.3 332.3,168.7 332.3,169.5 332.3,170.7 332.4,172.1 332.4,173.8 332.4,175.8 332.5,178.1 332.5,180.5 332.5,183.0 332.6,185.7 332.6,188.4 332.7,191.1 332.7,193.8 332.7,196.5 332.8,198.9 332.8,201.3 332.8,203.4 332.9,205.2 332.9,206.8 332.9,208.1 333.0,209.1 333.0,209.7 333.0,209.9 333.1,209.8 333.1,209.4 333.2,208.6 333.2,207.5 333.2,206.0 333.3,204.3 333.3,202.3 333.3,200.1 333.4,197.7 333.4,195.1 333.4,192.5 333.5,189.8 333.5,187.0 333.5,184.3 333.6,181.7 333.6,179.3 333.7,177.0 333.7,174.9 333.7,173.0 333.8,171.4 333.8,170.1 333.8,169.2 333.9,168.6 333.9,168.3 333.9,168.4 334.0,168.9 334.0,169.7 334.0,170.8 334.1,172.2 334.1,174.0 334.2,176.0 334.2,178.2 334.2,180.6 334.3,183.1 334.3,185.8 334.3,188.5 334.4,191.2 334.4,193.9 334.4,196.5 334.5,198.9 334.5,201.2 334.5,203.3 334.6,205.2 334.6,206.7 334.7,208.0 334.7,209.0 334.7,209.6 334.8,209.8 334.8,209.7 334.8,209.3 334.9,208.5 334.9,207.3 334.9,205.9 335.0,204.2 335.0,202.2 335.1,200.0 335.1,197.6 335.1,195.0 335.2,192.4 335.2,189.7 335.2,187.0 335.3,184.3 335.3,181.7 335.3,179.3 335.4,177.0 335.4,174.9 335.4,173.1 335.5,171.5 335.5,170.2 335.6,169.3 335.6,168.7 335.6,168.4 335.7,168.5 335.7,169.0 335.7,169.8 335.8,170.9 335.8,172.4 335.8,174.1 335.9,176.1 335.9,178.3 335.9,180.7 336.0,183.2 336.0,185.8 336.1,188.5 336.1,191.2 336.1,193.9 336.2,196.5 336.2,198.9 336.2,201.2 336.3,203.3 336.3,205.1 336.3,206.7 336.4,207.9 336.4,208.9 336.4,209.4 336.5,209.7 336.5,209.6 336.6,209.1 336.6,208.3 336.6,207.2 336.7,205.8 336.7,204.0 336.7,202.1 336.8,199.9 336.8,197.5 336.8,194.9 336.9,192.3 336.9,189.6 336.9,186.9 337.0,184.3 337.0,181.7 337.1,179.3 337.1,177.0 337.1,174.9 337.2,173.1 337.2,171.6 337.2,170.3 337.3,169.4 337.3,168.8 337.3,168.6 337.4,168.7 337.4,169.1 337.4,169.9 337.5,171.1 337.5,172.5 337.6,174.2 337.6,176.2 337.6,178.4 337.7,180.8 337.7,183.3 337.7,185.9 337.8,188.6 337.8,191.3 337.8,193.9 337.9,196.5 337.9,198.9 338.0,201.2 338.0,203.2 338.0,205.0 338.1,206.6 338.1,207.8 338.1,208.7 338.2,209.3 338.2,209.6 338.2,209.4 338.3,209.0 338.3,208.2 338.3,207.1 338.4,205.6 338.4,203.9 338.5,201.9 338.5,199.7 338.5,197.4 338.6,194.9 338.6,192.2 338.6,189.6 338.7,186.9 338.7,184.3 338.7,181.7 338.8,179.3 338.8,177.0 338.8,175.0 338.9,173.2 338.9,171.7 339.0,170.4 339.0,169.5 339.0,168.9 339.1,168.7 339.1,168.8 339.1,169.3 339.2,170.1 339.2,171.2 339.2,172.6 339.3,174.4 339.3,176.3 339.3,178.5 339.4,180.9 339.4,183.4 339.5,186.0 339.5,188.6 339.5,191.3 339.6,193.9 339.6,196.5 339.6,198.9 339.7,201.1 339.7,203.2 339.7,205.0 339.8,206.5 339.8,207.7 339.8,208.6 339.9,209.2 339.9,209.4 340.0,209.3 340.0,208.8 340.0,208.0 340.1,206.9 340.1,205.5 340.1,203.8 340.2,201.8 340.2,199.6 340.2,197.3 340.3,194.8 340.3,192.2 340.4,189.5 340.4,186.9 340.4,184.3 340.5,181.7 340.5,179.3 340.5,177.1 340.6,175.1 340.6,173.3 340.6,171.7 340.7,170.5 340.7,169.6 340.7,169.1 340.8,168.8 340.8,169.0 340.9,169.4 340.9,170.2 340.9,171.4 341.0,172.8 341.0,174.5 341.0,176.5 341.1,178.6 341.1,181.0 341.1,183.5 341.2,186.1 341.2,188.7 341.2,191.3 341.3,194.0 341.3,196.5 341.4,198.9 341.4,201.1 341.4,203.1 341.5,204.9 341.5,206.4 341.5,207.6 341.6,208.5 341.6,209.1 341.6,209.3 341.7,209.2 341.7,208.7 341.7,207.9 341.8,206.8 341.8,205.3 341.9,203.6 341.9,201.7 341.9,199.5 342.0,197.2 342.0,194.7 342.0,192.1 342.1,189.5 342.1,186.8 342.1,184.2 342.2,181.7 342.2,179.3 342.2,177.1 342.3,175.1 342.3,173.3 342.4,171.8 342.4,170.6 342.4,169.7 342.5,169.2 342.5,169.0 342.5,169.1 342.6,169.6 342.6,170.4 342.6,171.5 342.7,172.9 342.7,174.6 342.7,176.6 342.8,178.7 342.8,181.1 342.9,183.6 342.9,186.1 342.9,188.8 343.0,191.4 343.0,194.0 343.0,196.5 343.1,198.9 343.1,201.1 343.1,203.1 343.2,204.8 343.2,206.3 343.3,207.5 343.3,208.4 343.3,209.0 343.4,209.2 343.4,209.0 343.4,208.6 343.5,207.8 343.5,206.6 343.5,205.2 343.6,203.5 343.6,201.6 343.6,199.4 343.7,197.1 343.7,194.6 343.8,192.0 343.8,189.4 343.8,186.8 343.9,184.2 343.9,181.7 343.9,179.4 344.0,177.2 344.0,175.2 344.0,173.4 344.1,171.9 344.1,170.7 344.1,169.9 344.2,169.3 344.2,169.1 344.3,169.2 344.3,169.7 344.3,170.5 344.4,171.6 344.4,173.1 344.4,174.8 344.5,176.7 344.5,178.9 344.5,181.2 344.6,183.7 344.6,186.2 344.6,188.8 344.7,191.4 344.7,194.0 344.8,196.5 344.8,198.8 344.8,201.0 344.9,203.0 344.9,204.8 344.9,206.2 345.0,207.4 345.0,208.3 345.0,208.8 345.1,209.0 345.1,208.9 345.1,208.4 345.2,207.6 345.2,206.5 345.3,205.1 345.3,203.4 345.3,201.4 345.4,199.3 345.4,197.0 345.4,194.5 345.5,192.0 345.5,189.4 345.5,186.8 345.6,184.2 345.6,181.7 345.6,179.4 345.7,177.2 345.7,175.2 345.8,173.5 345.8,172.0 345.8,170.8 345.9,170.0 345.9,169.4 345.9,169.2 346.0,169.4 346.0,169.9 346.0,170.7 346.1,171.8 346.1,173.2 346.2,174.9 346.2,176.8 346.2,179.0 346.3,181.3 346.3,183.7 346.3,186.3 346.4,188.9 346.4,191.5 346.4,194.0 346.5,196.5 346.5,198.8 346.5,201.0 346.6,203.0 346.6,204.7 346.7,206.1 346.7,207.3 346.7,208.2 346.8,208.7 346.8,208.9 346.8,208.8 346.9,208.3 346.9,207.5 346.9,206.3 347.0,204.9 347.0,203.2 347.0,201.3 347.1,199.2 347.1,196.9 347.2,194.4 347.2,191.9 347.2,189.3 347.3,186.7 347.3,184.2 347.3,181.7 347.4,179.4 347.4,177.2 347.4,175.3 347.5,173.6 347.5,172.1 347.5,170.9 347.6,170.1 347.6,169.6 347.7,169.4 347.7,169.5 347.7,170.0 347.8,170.8 347.8,171.9 347.8,173.3 347.9,175.0 347.9,177.0 347.9,179.1 348.0,181.4 348.0,183.8 348.0,186.3 348.1,188.9 348.1,191.5 348.2,194.0 348.2,196.5 348.2,198.8 348.3,200.9 348.3,202.9 348.3,204.6 348.4,206.1 348.4,207.2 348.4,208.1 348.5,208.6 348.5,208.8 348.5,208.6 348.6,208.1 348.6,207.3 348.7,206.2 348.7,204.8 348.7,203.1 348.8,201.2 348.8,199.1 348.8,196.8 348.9,194.3 348.9,191.8 348.9,189.3 349.0,186.7 349.0,184.2 349.1,181.7 349.1,179.4 349.1,177.3 349.2,175.3 349.2,173.6 349.2,172.2 349.3,171.0 349.3,170.2 349.3,169.7 349.4,169.5 349.4,169.7 349.4,170.1 349.5,171.0 349.5,172.1 349.6,173.5 349.6,175.2 349.6,177.1 349.7,179.2 349.7,181.5 349.7,183.9 349.8,186.4 349.8,189.0 349.8,191.5 349.9,194.0 349.9,196.5 349.9,198.8 350.0,200.9 350.0,202.8 350.1,204.5 350.1,206.0 350.1,207.1 350.2,207.9 350.2,208.4 350.2,208.6 350.3,208.5 350.3,208.0 350.3,207.2 350.4,206.1 350.4,204.6 350.4,203.0 350.5,201.1 350.5,198.9 350.6,196.7 350.6,194.2 350.6,191.7 350.7,189.2 350.7,186.7 350.7,184.2 350.8,181.7 350.8,179.4 350.8,177.3 350.9,175.4 350.9,173.7 350.9,172.3 351.0,171.2 351.0,170.3 351.1,169.8 351.1,169.7 351.1,169.8 351.2,170.3 351.2,171.1 351.2,172.2 351.3,173.6 351.3,175.3 351.3,177.2 351.4,179.3 351.4,181.6 351.5,184.0 351.5,186.5 351.5,189.0 351.6,191.6 351.6,194.1 351.6,196.5 351.7,198.7 351.7,200.9 351.7,202.8 351.8,204.4 351.8,205.9 351.8,207.0 351.9,207.8 351.9,208.3 352.0,208.5 352.0,208.3 352.0,207.8 352.1,207.0 352.1,205.9 352.1,204.5 352.2,202.8 352.2,200.9 352.2,198.8 352.3,196.6 352.3,194.2 352.3,191.7 352.4,189.2 352.4,186.6 352.5,184.1 352.5,181.7 352.5,179.5 352.6,177.4 352.6,175.5 352.6,173.8 352.7,172.4 352.7,171.3 352.7,170.5 352.8,170.0 352.8,169.8 352.8,170.0 352.9,170.4 352.9,171.3 353.0,172.4 353.0,173.8 353.0,175.4 353.1,177.3 353.1,179.4 353.1,181.7 353.2,184.1 353.2,186.6 353.2,189.1 353.3,191.6 353.3,194.1 353.3,196.5 353.4,198.7 353.4,200.8 353.5,202.7 353.5,204.4 353.5,205.8 353.6,206.9 353.6,207.7 353.6,208.2 353.7,208.3 353.7,208.2 353.7,207.7 353.8,206.9 353.8,205.8 353.8,204.4 353.9,202.7 353.9,200.8 354.0,198.7 354.0,196.5 354.0,194.1 354.1,191.6 354.1,189.1" fill="none"/></defs>
<path d="M268.2,165.1 L269.7,165.1 L271.1,165.1 L272.6,165.2 L274.0,165.2 L275.5,165.2 L276.9,165.3 L278.4,165.3 L279.8,165.3 L281.3,165.4 L282.8,165.4 L284.2,165.5 L285.7,165.5 L287.1,165.6 L288.6,165.7 L290.0,165.7 L291.5,165.8 L293.0,165.8 L294.4,165.9 L295.9,166.0 L297.3,166.0 L298.8,166.1 L300.2,166.2 L301.7,166.3 L303.1,166.3 L304.6,166.4 L306.1,166.5 L307.5,166.6 L309.0,166.7 L310.4,166.8 L311.9,166.8 L313.3,166.9 L314.8,167.0 L316.2,167.1 L317.7,167.2 L319.2,167.3 L320.6,167.4 L322.1,167.5 L323.5,167.6 L325.0,167.7 L326.4,167.8 L327.9,167.9 L329.3,168.0 L330.8,168.1 L332.3,168.2 L333.7,168.3 L335.2,168.4 L336.6,168.5 L338.1,168.6 L339.5,168.7 L341.0,168.8 L342.5,169.0 L343.9,169.1 L345.4,169.2 L346.8,169.3 L348.3,169.4 L349.7,169.5 L351.2,169.7 L352.6,169.8 L354.1,169.9 L354.1,208.3 L352.6,208.4 L351.2,208.5 L349.7,208.7 L348.3,208.8 L346.8,208.9 L345.4,209.0 L343.9,209.1 L342.5,209.2 L341.0,209.4 L339.5,209.5 L338.1,209.6 L336.6,209.7 L335.2,209.8 L333.7,209.9 L332.3,210.0 L330.8,210.1 L329.3,210.2 L327.9,210.3 L326.4,210.4 L325.0,210.5 L323.5,210.6 L322.1,210.7 L320.6,210.8 L319.2,210.9 L317.7,211.0 L316.2,211.1 L314.8,211.2 L313.3,211.3 L311.9,211.4 L310.4,211.4 L309.0,211.5 L307.5,211.6 L306.1,211.7 L304.6,211.8 L303.1,211.9 L301.7,211.9 L300.2,212.0 L298.8,212.1 L297.3,212.2 L295.9,212.2 L294.4,212.3 L293.0,212.4 L291.5,212.4 L290.0,212.5 L288.6,212.5 L287.1,212.6 L285.7,212.7 L284.2,212.7 L282.8,212.8 L281.3,212.8 L279.8,212.9 L278.4,212.9 L276.9,212.9 L275.5,213.0 L274.0,213.0 L272.6,213.0 L271.1,213.1 L269.7,213.1 L268.2,213.1Z" fill="#a3aaf6"/>
<use href="#sige" stroke="#2f3ef2" stroke-width="0.95"/>
<clipPath id="clipe"><path d="M268.20,177.62 L268.49,175.81 L268.77,174.07 L269.06,172.44 L269.35,170.91 L269.64,169.51 L269.92,168.24 L270.21,167.11 L270.50,166.14 L270.79,165.32 L271.07,164.67 L271.36,164.19 L271.65,163.88 L271.93,163.75 L272.22,163.79 L272.51,164.02 L272.80,164.42 L273.08,164.99 L273.37,165.72 L273.66,166.62 L273.95,167.68 L274.23,168.88 L274.52,170.21 L274.81,171.67 L275.09,173.25 L275.38,174.93 L275.67,176.70 L275.96,178.54 L276.24,180.45 L276.53,182.40 L276.82,184.38 L277.11,186.37 L277.39,188.37 L277.68,190.35 L277.97,192.30 L278.26,194.20 L278.54,196.04 L278.83,197.81 L279.12,199.48 L279.40,201.06 L279.69,202.52 L279.98,203.85 L280.27,205.05 L280.55,206.10 L280.84,207.00 L281.13,207.74 L281.42,208.31 L281.70,208.71 L281.99,208.94 L282.28,209.00 L282.56,208.87 L282.85,208.58 L283.14,208.11 L283.43,207.48 L283.71,206.68 L284.00,205.73 L284.29,204.62 L284.58,203.38 L284.86,202.01 L285.15,200.51 L285.44,198.91 L285.72,197.22 L286.01,195.44 L286.30,193.59 L286.59,191.70 L286.87,189.76 L287.16,187.80 L287.45,185.83 L287.74,183.86 L288.02,181.93 L288.31,180.02 L288.60,178.17 L288.88,176.39 L289.17,174.69 L289.46,173.08 L289.75,171.57 L290.03,170.19 L290.32,168.93 L290.61,167.81 L290.90,166.84 L291.18,166.02 L291.47,165.37 L291.76,164.87 L292.05,164.55 L292.33,164.40 L292.62,164.42 L292.91,164.61 L293.19,164.97 L293.48,165.50 L293.77,166.19 L294.06,167.04 L294.34,168.04 L294.63,169.18 L294.92,170.46 L295.21,171.86 L295.49,173.37 L295.78,174.98 L296.07,176.68 L296.35,178.45 L296.64,180.29 L296.93,182.17 L297.22,184.08 L297.50,186.01 L297.79,187.94 L298.08,189.86 L298.37,191.74 L298.65,193.59 L298.94,195.38 L299.23,197.09 L299.51,198.72 L299.80,200.26 L300.09,201.68 L300.38,202.99 L300.66,204.16 L300.95,205.20 L301.24,206.09 L301.53,206.83 L301.81,207.40 L302.10,207.82 L302.39,208.06 L302.67,208.14 L302.96,208.05 L303.25,207.79 L303.54,207.37 L303.82,206.78 L304.11,206.04 L304.40,205.15 L304.69,204.11 L304.97,202.94 L305.26,201.64 L305.55,200.23 L305.84,198.71 L306.12,197.09 L306.41,195.40 L306.70,193.64 L306.98,191.83 L307.27,189.98 L307.56,188.10 L307.85,186.21 L308.13,184.33 L308.42,182.47 L308.71,180.65 L309.00,178.87 L309.28,177.15 L309.57,175.51 L309.86,173.95 L310.14,172.50 L310.43,171.16 L310.72,169.94 L311.01,168.85 L311.29,167.90 L311.58,167.09 L311.87,166.44 L312.16,165.94 L312.44,165.61 L312.73,165.44 L313.02,165.43 L313.30,165.59 L313.59,165.90 L313.88,166.38 L314.17,167.02 L314.45,167.80 L314.74,168.73 L315.03,169.80 L315.32,170.99 L315.60,172.31 L315.89,173.73 L316.18,175.25 L316.46,176.85 L316.75,178.53 L317.04,180.26 L317.33,182.04 L317.61,183.85 L317.90,185.69 L318.19,187.52 L318.48,189.34 L318.76,191.14 L319.05,192.90 L319.34,194.60 L319.63,196.24 L319.91,197.80 L320.20,199.27 L320.49,200.64 L320.77,201.90 L321.06,203.03 L321.35,204.04 L321.64,204.90 L321.92,205.62 L322.21,206.19 L322.50,206.61 L322.79,206.87 L323.07,206.97 L323.36,206.91 L323.65,206.69 L323.93,206.31 L324.22,205.79 L324.51,205.11 L324.80,204.29 L325.08,203.33 L325.37,202.24 L325.66,201.04 L325.95,199.72 L326.23,198.30 L326.52,196.79 L326.81,195.20 L327.09,193.55 L327.38,191.85 L327.67,190.11 L327.96,188.35 L328.24,186.57 L328.53,184.80 L328.82,183.04 L329.11,181.31 L329.39,179.63 L329.68,178.00 L329.97,176.45 L330.25,174.97 L330.54,173.59 L330.83,172.31 L331.12,171.14 L331.40,170.10 L331.69,169.18 L331.98,168.40 L332.27,167.77 L332.55,167.28 L332.84,166.94 L333.13,166.75 L333.42,166.72 L333.70,166.84 L333.99,167.12 L334.28,167.54 L334.56,168.11 L334.85,168.83 L335.14,169.67 L335.43,170.65 L335.71,171.75 L336.00,172.97 L336.29,174.28 L336.58,175.69 L336.86,177.18 L337.15,178.74 L337.44,180.35 L337.72,182.01 L338.01,183.70 L338.30,185.41 L338.59,187.13 L338.87,188.83 L339.16,190.52 L339.45,192.17 L339.74,193.77 L340.02,195.31 L340.31,196.78 L340.60,198.16 L340.88,199.46 L341.17,200.65 L341.46,201.72 L341.75,202.68 L342.03,203.51 L342.32,204.20 L342.61,204.75 L342.90,205.16 L343.18,205.43 L343.47,205.55 L343.76,205.51 L344.04,205.33 L344.33,205.01 L344.62,204.54 L344.91,203.93 L345.19,203.19 L345.48,202.32 L345.77,201.33 L346.06,200.22 L346.34,199.01 L346.63,197.71 L346.92,196.32 L347.21,194.86 L347.49,193.34 L347.78,191.77 L348.07,190.16 L348.35,188.52 L348.64,186.88 L348.93,185.23 L349.22,183.60 L349.50,182.00 L349.79,180.43 L350.08,178.92 L350.37,177.46 L350.65,176.09 L350.94,174.79 L351.23,173.59 L351.51,172.49 L351.80,171.51 L352.09,170.64 L352.38,169.90 L352.66,169.29 L352.95,168.82 L353.24,168.48 L353.53,168.29 L353.81,168.24 L354.10,168.33 L354.10,173.53 L353.81,173.44 L353.53,173.49 L353.24,173.68 L352.95,174.02 L352.66,174.49 L352.38,175.10 L352.09,175.84 L351.80,176.71 L351.51,177.69 L351.23,178.79 L350.94,179.99 L350.65,181.29 L350.37,182.66 L350.08,184.12 L349.79,185.63 L349.50,187.20 L349.22,188.80 L348.93,190.43 L348.64,192.08 L348.35,193.72 L348.07,195.36 L347.78,196.97 L347.49,198.54 L347.21,200.06 L346.92,201.52 L346.63,202.91 L346.34,204.21 L346.06,205.42 L345.77,206.53 L345.48,207.52 L345.19,208.39 L344.91,209.13 L344.62,209.74 L344.33,210.21 L344.04,210.53 L343.76,210.71 L343.47,210.75 L343.18,210.63 L342.90,210.36 L342.61,209.95 L342.32,209.40 L342.03,208.71 L341.75,207.88 L341.46,206.92 L341.17,205.85 L340.88,204.66 L340.60,203.36 L340.31,201.98 L340.02,200.51 L339.74,198.97 L339.45,197.37 L339.16,195.72 L338.87,194.03 L338.59,192.33 L338.30,190.61 L338.01,188.90 L337.72,187.21 L337.44,185.55 L337.15,183.94 L336.86,182.38 L336.58,180.89 L336.29,179.48 L336.00,178.17 L335.71,176.95 L335.43,175.85 L335.14,174.87 L334.85,174.03 L334.56,173.31 L334.28,172.74 L333.99,172.32 L333.70,172.04 L333.42,171.92 L333.13,171.95 L332.84,172.14 L332.55,172.48 L332.27,172.97 L331.98,173.60 L331.69,174.38 L331.40,175.30 L331.12,176.34 L330.83,177.51 L330.54,178.79 L330.25,180.17 L329.97,181.65 L329.68,183.20 L329.39,184.83 L329.11,186.51 L328.82,188.24 L328.53,190.00 L328.24,191.77 L327.96,193.55 L327.67,195.31 L327.38,197.05 L327.09,198.75 L326.81,200.40 L326.52,201.99 L326.23,203.50 L325.95,204.92 L325.66,206.24 L325.37,207.44 L325.08,208.53 L324.80,209.49 L324.51,210.31 L324.22,210.99 L323.93,211.51 L323.65,211.89 L323.36,212.11 L323.07,212.17 L322.79,212.07 L322.50,211.81 L322.21,211.39 L321.92,210.82 L321.64,210.10 L321.35,209.24 L321.06,208.23 L320.77,207.10 L320.49,205.84 L320.20,204.47 L319.91,203.00 L319.63,201.44 L319.34,199.80 L319.05,198.10 L318.76,196.34 L318.48,194.54 L318.19,192.72 L317.90,190.89 L317.61,189.05 L317.33,187.24 L317.04,185.46 L316.75,183.73 L316.46,182.05 L316.18,180.45 L315.89,178.93 L315.60,177.51 L315.32,176.19 L315.03,175.00 L314.74,173.93 L314.45,173.00 L314.17,172.22 L313.88,171.58 L313.59,171.10 L313.30,170.79 L313.02,170.63 L312.73,170.64 L312.44,170.81 L312.16,171.14 L311.87,171.64 L311.58,172.29 L311.29,173.10 L311.01,174.05 L310.72,175.14 L310.43,176.36 L310.14,177.70 L309.86,179.15 L309.57,180.71 L309.28,182.35 L309.00,184.07 L308.71,185.85 L308.42,187.67 L308.13,189.53 L307.85,191.41 L307.56,193.30 L307.27,195.18 L306.98,197.03 L306.70,198.84 L306.41,200.60 L306.12,202.29 L305.84,203.91 L305.55,205.43 L305.26,206.84 L304.97,208.14 L304.69,209.31 L304.40,210.35 L304.11,211.24 L303.82,211.98 L303.54,212.57 L303.25,212.99 L302.96,213.25 L302.67,213.34 L302.39,213.26 L302.10,213.02 L301.81,212.60 L301.53,212.03 L301.24,211.29 L300.95,210.40 L300.66,209.36 L300.38,208.19 L300.09,206.88 L299.80,205.46 L299.51,203.92 L299.23,202.29 L298.94,200.58 L298.65,198.79 L298.37,196.94 L298.08,195.06 L297.79,193.14 L297.50,191.21 L297.22,189.28 L296.93,187.37 L296.64,185.49 L296.35,183.65 L296.07,181.88 L295.78,180.18 L295.49,178.57 L295.21,177.06 L294.92,175.66 L294.63,174.38 L294.34,173.24 L294.06,172.24 L293.77,171.39 L293.48,170.70 L293.19,170.17 L292.91,169.81 L292.62,169.62 L292.33,169.60 L292.05,169.75 L291.76,170.07 L291.47,170.57 L291.18,171.22 L290.90,172.04 L290.61,173.01 L290.32,174.13 L290.03,175.39 L289.75,176.77 L289.46,178.28 L289.17,179.89 L288.88,181.59 L288.60,183.37 L288.31,185.22 L288.02,187.13 L287.74,189.06 L287.45,191.03 L287.16,193.00 L286.87,194.96 L286.59,196.90 L286.30,198.79 L286.01,200.64 L285.72,202.42 L285.44,204.11 L285.15,205.71 L284.86,207.21 L284.58,208.58 L284.29,209.82 L284.00,210.93 L283.71,211.88 L283.43,212.68 L283.14,213.31 L282.85,213.78 L282.56,214.07 L282.28,214.20 L281.99,214.14 L281.70,213.91 L281.42,213.51 L281.13,212.94 L280.84,212.20 L280.55,211.30 L280.27,210.25 L279.98,209.05 L279.69,207.72 L279.40,206.26 L279.12,204.68 L278.83,203.01 L278.54,201.24 L278.26,199.40 L277.97,197.50 L277.68,195.55 L277.39,193.57 L277.11,191.57 L276.82,189.58 L276.53,187.60 L276.24,185.65 L275.96,183.74 L275.67,181.90 L275.38,180.13 L275.09,178.45 L274.81,176.87 L274.52,175.41 L274.23,174.08 L273.95,172.88 L273.66,171.82 L273.37,170.92 L273.08,170.19 L272.80,169.62 L272.51,169.22 L272.22,168.99 L271.93,168.95 L271.65,169.08 L271.36,169.39 L271.07,169.87 L270.79,170.52 L270.50,171.34 L270.21,172.31 L269.92,173.44 L269.64,174.71 L269.35,176.11 L269.06,177.64 L268.77,179.27 L268.49,181.01 L268.20,182.82Z M268.20,195.38 L268.49,197.19 L268.77,198.93 L269.06,200.56 L269.35,202.09 L269.64,203.49 L269.92,204.76 L270.21,205.89 L270.50,206.86 L270.79,207.68 L271.07,208.33 L271.36,208.81 L271.65,209.12 L271.93,209.25 L272.22,209.21 L272.51,208.98 L272.80,208.58 L273.08,208.01 L273.37,207.28 L273.66,206.38 L273.95,205.32 L274.23,204.12 L274.52,202.79 L274.81,201.33 L275.09,199.75 L275.38,198.07 L275.67,196.30 L275.96,194.46 L276.24,192.55 L276.53,190.60 L276.82,188.62 L277.11,186.63 L277.39,184.63 L277.68,182.65 L277.97,180.70 L278.26,178.80 L278.54,176.96 L278.83,175.19 L279.12,173.52 L279.40,171.94 L279.69,170.48 L279.98,169.15 L280.27,167.95 L280.55,166.90 L280.84,166.00 L281.13,165.26 L281.42,164.69 L281.70,164.29 L281.99,164.06 L282.28,164.00 L282.56,164.13 L282.85,164.42 L283.14,164.89 L283.43,165.52 L283.71,166.32 L284.00,167.27 L284.29,168.38 L284.58,169.62 L284.86,170.99 L285.15,172.49 L285.44,174.09 L285.72,175.78 L286.01,177.56 L286.30,179.41 L286.59,181.30 L286.87,183.24 L287.16,185.20 L287.45,187.17 L287.74,189.14 L288.02,191.07 L288.31,192.98 L288.60,194.83 L288.88,196.61 L289.17,198.31 L289.46,199.92 L289.75,201.43 L290.03,202.81 L290.32,204.07 L290.61,205.19 L290.90,206.16 L291.18,206.98 L291.47,207.63 L291.76,208.13 L292.05,208.45 L292.33,208.60 L292.62,208.58 L292.91,208.39 L293.19,208.03 L293.48,207.50 L293.77,206.81 L294.06,205.96 L294.34,204.96 L294.63,203.82 L294.92,202.54 L295.21,201.14 L295.49,199.63 L295.78,198.02 L296.07,196.32 L296.35,194.55 L296.64,192.71 L296.93,190.83 L297.22,188.92 L297.50,186.99 L297.79,185.06 L298.08,183.14 L298.37,181.26 L298.65,179.41 L298.94,177.62 L299.23,175.91 L299.51,174.28 L299.80,172.74 L300.09,171.32 L300.38,170.01 L300.66,168.84 L300.95,167.80 L301.24,166.91 L301.53,166.17 L301.81,165.60 L302.10,165.18 L302.39,164.94 L302.67,164.86 L302.96,164.95 L303.25,165.21 L303.54,165.63 L303.82,166.22 L304.11,166.96 L304.40,167.85 L304.69,168.89 L304.97,170.06 L305.26,171.36 L305.55,172.77 L305.84,174.29 L306.12,175.91 L306.41,177.60 L306.70,179.36 L306.98,181.17 L307.27,183.02 L307.56,184.90 L307.85,186.79 L308.13,188.67 L308.42,190.53 L308.71,192.35 L309.00,194.13 L309.28,195.85 L309.57,197.49 L309.86,199.05 L310.14,200.50 L310.43,201.84 L310.72,203.06 L311.01,204.15 L311.29,205.10 L311.58,205.91 L311.87,206.56 L312.16,207.06 L312.44,207.39 L312.73,207.56 L313.02,207.57 L313.30,207.41 L313.59,207.10 L313.88,206.62 L314.17,205.98 L314.45,205.20 L314.74,204.27 L315.03,203.20 L315.32,202.01 L315.60,200.69 L315.89,199.27 L316.18,197.75 L316.46,196.15 L316.75,194.47 L317.04,192.74 L317.33,190.96 L317.61,189.15 L317.90,187.31 L318.19,185.48 L318.48,183.66 L318.76,181.86 L319.05,180.10 L319.34,178.40 L319.63,176.76 L319.91,175.20 L320.20,173.73 L320.49,172.36 L320.77,171.10 L321.06,169.97 L321.35,168.96 L321.64,168.10 L321.92,167.38 L322.21,166.81 L322.50,166.39 L322.79,166.13 L323.07,166.03 L323.36,166.09 L323.65,166.31 L323.93,166.69 L324.22,167.21 L324.51,167.89 L324.80,168.71 L325.08,169.67 L325.37,170.76 L325.66,171.96 L325.95,173.28 L326.23,174.70 L326.52,176.21 L326.81,177.80 L327.09,179.45 L327.38,181.15 L327.67,182.89 L327.96,184.65 L328.24,186.43 L328.53,188.20 L328.82,189.96 L329.11,191.69 L329.39,193.37 L329.68,195.00 L329.97,196.55 L330.25,198.03 L330.54,199.41 L330.83,200.69 L331.12,201.86 L331.40,202.90 L331.69,203.82 L331.98,204.60 L332.27,205.23 L332.55,205.72 L332.84,206.06 L333.13,206.25 L333.42,206.28 L333.70,206.16 L333.99,205.88 L334.28,205.46 L334.56,204.89 L334.85,204.17 L335.14,203.33 L335.43,202.35 L335.71,201.25 L336.00,200.03 L336.29,198.72 L336.58,197.31 L336.86,195.82 L337.15,194.26 L337.44,192.65 L337.72,190.99 L338.01,189.30 L338.30,187.59 L338.59,185.87 L338.87,184.17 L339.16,182.48 L339.45,180.83 L339.74,179.23 L340.02,177.69 L340.31,176.22 L340.60,174.84 L340.88,173.54 L341.17,172.35 L341.46,171.28 L341.75,170.32 L342.03,169.49 L342.32,168.80 L342.61,168.25 L342.90,167.84 L343.18,167.57 L343.47,167.45 L343.76,167.49 L344.04,167.67 L344.33,167.99 L344.62,168.46 L344.91,169.07 L345.19,169.81 L345.48,170.68 L345.77,171.67 L346.06,172.78 L346.34,173.99 L346.63,175.29 L346.92,176.68 L347.21,178.14 L347.49,179.66 L347.78,181.23 L348.07,182.84 L348.35,184.48 L348.64,186.12 L348.93,187.77 L349.22,189.40 L349.50,191.00 L349.79,192.57 L350.08,194.08 L350.37,195.54 L350.65,196.91 L350.94,198.21 L351.23,199.41 L351.51,200.51 L351.80,201.49 L352.09,202.36 L352.38,203.10 L352.66,203.71 L352.95,204.18 L353.24,204.52 L353.53,204.71 L353.81,204.76 L354.10,204.67 L354.10,209.87 L353.81,209.96 L353.53,209.91 L353.24,209.72 L352.95,209.38 L352.66,208.91 L352.38,208.30 L352.09,207.56 L351.80,206.69 L351.51,205.71 L351.23,204.61 L350.94,203.41 L350.65,202.11 L350.37,200.74 L350.08,199.28 L349.79,197.77 L349.50,196.20 L349.22,194.60 L348.93,192.97 L348.64,191.32 L348.35,189.68 L348.07,188.04 L347.78,186.43 L347.49,184.86 L347.21,183.34 L346.92,181.88 L346.63,180.49 L346.34,179.19 L346.06,177.98 L345.77,176.87 L345.48,175.88 L345.19,175.01 L344.91,174.27 L344.62,173.66 L344.33,173.19 L344.04,172.87 L343.76,172.69 L343.47,172.65 L343.18,172.77 L342.90,173.04 L342.61,173.45 L342.32,174.00 L342.03,174.69 L341.75,175.52 L341.46,176.48 L341.17,177.55 L340.88,178.74 L340.60,180.04 L340.31,181.42 L340.02,182.89 L339.74,184.43 L339.45,186.03 L339.16,187.68 L338.87,189.37 L338.59,191.07 L338.30,192.79 L338.01,194.50 L337.72,196.19 L337.44,197.85 L337.15,199.46 L336.86,201.02 L336.58,202.51 L336.29,203.92 L336.00,205.23 L335.71,206.45 L335.43,207.55 L335.14,208.53 L334.85,209.37 L334.56,210.09 L334.28,210.66 L333.99,211.08 L333.70,211.36 L333.42,211.48 L333.13,211.45 L332.84,211.26 L332.55,210.92 L332.27,210.43 L331.98,209.80 L331.69,209.02 L331.40,208.10 L331.12,207.06 L330.83,205.89 L330.54,204.61 L330.25,203.23 L329.97,201.75 L329.68,200.20 L329.39,198.57 L329.11,196.89 L328.82,195.16 L328.53,193.40 L328.24,191.63 L327.96,189.85 L327.67,188.09 L327.38,186.35 L327.09,184.65 L326.81,183.00 L326.52,181.41 L326.23,179.90 L325.95,178.48 L325.66,177.16 L325.37,175.96 L325.08,174.87 L324.80,173.91 L324.51,173.09 L324.22,172.41 L323.93,171.89 L323.65,171.51 L323.36,171.29 L323.07,171.23 L322.79,171.33 L322.50,171.59 L322.21,172.01 L321.92,172.58 L321.64,173.30 L321.35,174.16 L321.06,175.17 L320.77,176.30 L320.49,177.56 L320.20,178.93 L319.91,180.40 L319.63,181.96 L319.34,183.60 L319.05,185.30 L318.76,187.06 L318.48,188.86 L318.19,190.68 L317.90,192.51 L317.61,194.35 L317.33,196.16 L317.04,197.94 L316.75,199.67 L316.46,201.35 L316.18,202.95 L315.89,204.47 L315.60,205.89 L315.32,207.21 L315.03,208.40 L314.74,209.47 L314.45,210.40 L314.17,211.18 L313.88,211.82 L313.59,212.30 L313.30,212.61 L313.02,212.77 L312.73,212.76 L312.44,212.59 L312.16,212.26 L311.87,211.76 L311.58,211.11 L311.29,210.30 L311.01,209.35 L310.72,208.26 L310.43,207.04 L310.14,205.70 L309.86,204.25 L309.57,202.69 L309.28,201.05 L309.00,199.33 L308.71,197.55 L308.42,195.73 L308.13,193.87 L307.85,191.99 L307.56,190.10 L307.27,188.22 L306.98,186.37 L306.70,184.56 L306.41,182.80 L306.12,181.11 L305.84,179.49 L305.55,177.97 L305.26,176.56 L304.97,175.26 L304.69,174.09 L304.40,173.05 L304.11,172.16 L303.82,171.42 L303.54,170.83 L303.25,170.41 L302.96,170.15 L302.67,170.06 L302.39,170.14 L302.10,170.38 L301.81,170.80 L301.53,171.37 L301.24,172.11 L300.95,173.00 L300.66,174.04 L300.38,175.21 L300.09,176.52 L299.80,177.94 L299.51,179.48 L299.23,181.11 L298.94,182.82 L298.65,184.61 L298.37,186.46 L298.08,188.34 L297.79,190.26 L297.50,192.19 L297.22,194.12 L296.93,196.03 L296.64,197.91 L296.35,199.75 L296.07,201.52 L295.78,203.22 L295.49,204.83 L295.21,206.34 L294.92,207.74 L294.63,209.02 L294.34,210.16 L294.06,211.16 L293.77,212.01 L293.48,212.70 L293.19,213.23 L292.91,213.59 L292.62,213.78 L292.33,213.80 L292.05,213.65 L291.76,213.33 L291.47,212.83 L291.18,212.18 L290.90,211.36 L290.61,210.39 L290.32,209.27 L290.03,208.01 L289.75,206.63 L289.46,205.12 L289.17,203.51 L288.88,201.81 L288.60,200.03 L288.31,198.18 L288.02,196.27 L287.74,194.34 L287.45,192.37 L287.16,190.40 L286.87,188.44 L286.59,186.50 L286.30,184.61 L286.01,182.76 L285.72,180.98 L285.44,179.29 L285.15,177.69 L284.86,176.19 L284.58,174.82 L284.29,173.58 L284.00,172.47 L283.71,171.52 L283.43,170.72 L283.14,170.09 L282.85,169.62 L282.56,169.33 L282.28,169.20 L281.99,169.26 L281.70,169.49 L281.42,169.89 L281.13,170.46 L280.84,171.20 L280.55,172.10 L280.27,173.15 L279.98,174.35 L279.69,175.68 L279.40,177.14 L279.12,178.72 L278.83,180.39 L278.54,182.16 L278.26,184.00 L277.97,185.90 L277.68,187.85 L277.39,189.83 L277.11,191.83 L276.82,193.82 L276.53,195.80 L276.24,197.75 L275.96,199.66 L275.67,201.50 L275.38,203.27 L275.09,204.95 L274.81,206.53 L274.52,207.99 L274.23,209.32 L273.95,210.52 L273.66,211.58 L273.37,212.48 L273.08,213.21 L272.80,213.78 L272.51,214.18 L272.22,214.41 L271.93,214.45 L271.65,214.32 L271.36,214.01 L271.07,213.53 L270.79,212.88 L270.50,212.06 L270.21,211.09 L269.92,209.96 L269.64,208.69 L269.35,207.29 L269.06,205.76 L268.77,204.13 L268.49,202.39 L268.20,200.58Z"/></clipPath>
<use href="#sige" stroke="#0000ff" stroke-width="1.1" clip-path="url(#clipe)"/>
<rect x="448.80" y="161.40" width="89.00" height="55.40" fill="#fff" stroke="#a6a6a6" stroke-width="1"/>
<text x="446.90" y="166.60" class="tk" text-anchor="end">2</text>
<text x="446.90" y="191.50" class="tk" text-anchor="end">0</text>
<text x="446.90" y="215.50" class="tk" text-anchor="end">-2</text>
<text x="448.50" y="223.00" class="tk" text-anchor="middle">0</text>
<text x="492.20" y="223.00" class="tk" text-anchor="middle">5</text>
<text x="534.90" y="223.00" class="tk" text-anchor="middle">10</text>
<text x="493.30" y="232.70" class="ax7" text-anchor="middle">Time (s)</text>
<text transform="translate(438.30,189.70) rotate(-90)" class="av" text-anchor="middle">Amplitude (v)</text>
<path d="M448.9,165.1 L449.1,165.1 L449.3,165.1 L449.5,165.1 L449.8,165.1 L450.0,165.2 L450.2,165.2 L450.4,165.2 L450.6,165.3 L450.8,165.3 L451.1,165.4 L451.3,165.5 L451.5,165.5 L451.7,165.6 L451.9,165.7 L452.1,165.8 L452.3,165.9 L452.6,166.0 L452.8,166.1 L453.0,166.2 L453.2,166.3 L453.4,166.4 L453.6,166.5 L453.9,166.7 L454.1,166.8 L454.3,166.9 L454.5,167.1 L454.7,167.2 L454.9,167.4 L455.2,167.6 L455.4,167.7 L455.6,167.9 L455.8,168.1 L456.0,168.3 L456.2,168.5 L456.4,168.7 L456.7,168.9 L456.9,169.1 L457.1,169.3 L457.3,169.5 L457.5,169.7 L457.7,169.9 L458.0,170.2 L458.2,170.4 L458.4,170.6 L458.6,170.9 L458.8,171.1 L459.0,171.4 L459.2,171.6 L459.5,171.9 L459.7,172.2 L459.9,172.4 L460.1,172.7 L460.3,173.0 L460.5,173.3 L460.8,173.6 L461.0,173.8 L461.2,174.1 L461.4,174.4 L461.6,174.7 L461.8,175.0 L462.0,175.3 L462.3,175.7 L462.5,176.0 L462.7,176.3 L462.9,176.6 L463.1,176.9 L463.3,177.3 L463.6,177.6 L463.8,177.9 L464.0,178.3 L464.2,178.6 L464.4,178.9 L464.6,179.3 L464.8,179.6 L465.1,180.0 L465.3,180.3 L465.5,180.7 L465.7,181.0 L465.9,181.4 L466.1,181.8 L466.4,182.1 L466.6,182.5 L466.8,182.8 L467.0,183.2 L467.2,183.6 L467.4,183.9 L467.7,184.3 L467.9,184.7 L468.1,185.1 L468.3,185.4 L468.5,185.8 L468.7,186.2 L468.9,186.6 L469.2,186.9 L469.4,187.3 L469.6,187.7 L469.8,188.1 L470.0,188.4 L470.2,188.8 L470.5,189.0 L470.7,188.6 L470.9,188.2 L471.1,187.9 L471.3,187.5 L471.5,187.1 L471.7,186.7 L472.0,186.4 L472.2,186.0 L472.4,185.6 L472.6,185.2 L472.8,184.9 L473.0,184.5 L473.3,184.1 L473.5,183.8 L473.7,183.4 L473.9,183.0 L474.1,182.7 L474.3,182.3 L474.5,181.9 L474.8,181.6 L475.0,181.2 L475.2,180.9 L475.4,180.5 L475.6,180.2 L475.8,179.8 L476.1,179.5 L476.3,179.1 L476.5,178.8 L476.7,178.4 L476.9,178.1 L477.1,177.8 L477.4,177.4 L477.6,177.1 L477.8,176.8 L478.0,176.5 L478.2,176.1 L478.4,175.8 L478.6,175.5 L478.9,175.2 L479.1,174.9 L479.3,174.6 L479.5,174.3 L479.7,174.0 L479.9,173.7 L480.2,173.4 L480.4,173.1 L480.6,172.8 L480.8,172.6 L481.0,172.3 L481.2,172.0 L481.4,171.8 L481.7,171.5 L481.9,171.3 L482.1,171.0 L482.3,170.8 L482.5,170.5 L482.7,170.3 L483.0,170.0 L483.2,169.8 L483.4,169.6 L483.6,169.4 L483.8,169.2 L484.0,169.0 L484.2,168.8 L484.5,168.6 L484.7,168.4 L484.9,168.2 L485.1,168.0 L485.3,167.8 L485.5,167.6 L485.8,167.5 L486.0,167.3 L486.2,167.2 L486.4,167.0 L486.6,166.9 L486.8,166.7 L487.1,166.6 L487.3,166.5 L487.5,166.3 L487.7,166.2 L487.9,166.1 L488.1,166.0 L488.3,165.9 L488.6,165.8 L488.8,165.7 L489.0,165.6 L489.2,165.6 L489.4,165.5 L489.6,165.4 L489.9,165.4 L490.1,165.3 L490.3,165.3 L490.5,165.2 L490.7,165.2 L490.9,165.2 L491.1,165.1 L491.4,165.1 L491.6,165.1 L491.8,165.1 L492.0,165.1 L492.2,165.1 L492.4,165.1 L492.7,165.1 L492.9,165.2 L493.1,165.2 L493.3,165.2 L493.5,165.3 L493.7,165.3 L493.9,165.4 L494.2,165.4 L494.4,165.5 L494.6,165.6 L494.8,165.6 L495.0,165.7 L495.2,165.8 L495.5,165.9 L495.7,166.0 L495.9,166.1 L496.1,166.2 L496.3,166.3 L496.5,166.5 L496.7,166.6 L497.0,166.7 L497.2,166.9 L497.4,167.0 L497.6,167.2 L497.8,167.3 L498.0,167.5 L498.3,167.6 L498.5,167.8 L498.7,168.0 L498.9,168.2 L499.1,168.4 L499.3,168.6 L499.6,168.8 L499.8,169.0 L500.0,169.2 L500.2,169.4 L500.4,169.6 L500.6,169.8 L500.8,170.0 L501.1,170.3 L501.3,170.5 L501.5,170.8 L501.7,171.0 L501.9,171.3 L502.1,171.5 L502.4,171.8 L502.6,172.0 L502.8,172.3 L503.0,172.6 L503.2,172.8 L503.4,173.1 L503.6,173.4 L503.9,173.7 L504.1,174.0 L504.3,174.3 L504.5,174.6 L504.7,174.9 L504.9,175.2 L505.2,175.5 L505.4,175.8 L505.6,176.1 L505.8,176.5 L506.0,176.8 L506.2,177.1 L506.4,177.4 L506.7,177.8 L506.9,178.1 L507.1,178.4 L507.3,178.8 L507.5,179.1 L507.7,179.5 L508.0,179.8 L508.2,180.2 L508.4,180.5 L508.6,180.9 L508.8,181.2 L509.0,181.6 L509.3,181.9 L509.5,182.3 L509.7,182.7 L509.9,183.0 L510.1,183.4 L510.3,183.8 L510.5,184.1 L510.8,184.5 L511.0,184.9 L511.2,185.2 L511.4,185.6 L511.6,186.0 L511.8,186.4 L512.1,186.7 L512.3,187.1 L512.5,187.5 L512.7,187.9 L512.9,188.2 L513.1,188.6 L513.3,189.0 L513.6,188.8 L513.8,188.4 L514.0,188.1 L514.2,187.7 L514.4,187.3 L514.6,186.9 L514.9,186.6 L515.1,186.2 L515.3,185.8 L515.5,185.4 L515.7,185.1 L515.9,184.7 L516.1,184.3 L516.4,183.9 L516.6,183.6 L516.8,183.2 L517.0,182.8 L517.2,182.5 L517.4,182.1 L517.7,181.8 L517.9,181.4 L518.1,181.0 L518.3,180.7 L518.5,180.3 L518.7,180.0 L519.0,179.6 L519.2,179.3 L519.4,178.9 L519.6,178.6 L519.8,178.3 L520.0,177.9 L520.2,177.6 L520.5,177.3 L520.7,176.9 L520.9,176.6 L521.1,176.3 L521.3,176.0 L521.5,175.7 L521.8,175.3 L522.0,175.0 L522.2,174.7 L522.4,174.4 L522.6,174.1 L522.8,173.8 L523.0,173.6 L523.3,173.3 L523.5,173.0 L523.7,172.7 L523.9,172.4 L524.1,172.2 L524.3,171.9 L524.6,171.6 L524.8,171.4 L525.0,171.1 L525.2,170.9 L525.4,170.6 L525.6,170.4 L525.8,170.2 L526.1,169.9 L526.3,169.7 L526.5,169.5 L526.7,169.3 L526.9,169.1 L527.1,168.9 L527.4,168.7 L527.6,168.5 L527.8,168.3 L528.0,168.1 L528.2,167.9 L528.4,167.7 L528.6,167.6 L528.9,167.4 L529.1,167.2 L529.3,167.1 L529.5,166.9 L529.7,166.8 L529.9,166.7 L530.2,166.5 L530.4,166.4 L530.6,166.3 L530.8,166.2 L531.0,166.1 L531.2,166.0 L531.5,165.9 L531.7,165.8 L531.9,165.7 L532.1,165.6 L532.3,165.5 L532.5,165.5 L532.7,165.4 L533.0,165.3 L533.2,165.3 L533.4,165.2 L533.6,165.2 L533.8,165.2 L534.0,165.1 L534.3,165.1 L534.5,165.1 L534.7,165.1 L534.9,165.1 L534.9,213.1 L534.7,213.1 L534.5,213.1 L534.3,213.1 L534.0,213.1 L533.8,213.0 L533.6,213.0 L533.4,213.0 L533.2,212.9 L533.0,212.9 L532.7,212.8 L532.5,212.7 L532.3,212.7 L532.1,212.6 L531.9,212.5 L531.7,212.4 L531.5,212.3 L531.2,212.2 L531.0,212.1 L530.8,212.0 L530.6,211.9 L530.4,211.8 L530.2,211.7 L529.9,211.5 L529.7,211.4 L529.5,211.3 L529.3,211.1 L529.1,211.0 L528.9,210.8 L528.6,210.6 L528.4,210.5 L528.2,210.3 L528.0,210.1 L527.8,209.9 L527.6,209.7 L527.4,209.5 L527.1,209.3 L526.9,209.1 L526.7,208.9 L526.5,208.7 L526.3,208.5 L526.1,208.3 L525.8,208.0 L525.6,207.8 L525.4,207.6 L525.2,207.3 L525.0,207.1 L524.8,206.8 L524.6,206.6 L524.3,206.3 L524.1,206.0 L523.9,205.8 L523.7,205.5 L523.5,205.2 L523.3,204.9 L523.0,204.6 L522.8,204.4 L522.6,204.1 L522.4,203.8 L522.2,203.5 L522.0,203.2 L521.8,202.9 L521.5,202.5 L521.3,202.2 L521.1,201.9 L520.9,201.6 L520.7,201.3 L520.5,200.9 L520.2,200.6 L520.0,200.3 L519.8,199.9 L519.6,199.6 L519.4,199.3 L519.2,198.9 L519.0,198.6 L518.7,198.2 L518.5,197.9 L518.3,197.5 L518.1,197.2 L517.9,196.8 L517.7,196.4 L517.4,196.1 L517.2,195.7 L517.0,195.4 L516.8,195.0 L516.6,194.6 L516.4,194.3 L516.1,193.9 L515.9,193.5 L515.7,193.1 L515.5,192.8 L515.3,192.4 L515.1,192.0 L514.9,191.6 L514.6,191.3 L514.4,190.9 L514.2,190.5 L514.0,190.1 L513.8,189.8 L513.6,189.4 L513.3,189.2 L513.1,189.6 L512.9,190.0 L512.7,190.3 L512.5,190.7 L512.3,191.1 L512.1,191.5 L511.8,191.8 L511.6,192.2 L511.4,192.6 L511.2,193.0 L511.0,193.3 L510.8,193.7 L510.5,194.1 L510.3,194.4 L510.1,194.8 L509.9,195.2 L509.7,195.5 L509.5,195.9 L509.3,196.3 L509.0,196.6 L508.8,197.0 L508.6,197.3 L508.4,197.7 L508.2,198.0 L508.0,198.4 L507.7,198.7 L507.5,199.1 L507.3,199.4 L507.1,199.8 L506.9,200.1 L506.7,200.4 L506.4,200.8 L506.2,201.1 L506.0,201.4 L505.8,201.7 L505.6,202.1 L505.4,202.4 L505.2,202.7 L504.9,203.0 L504.7,203.3 L504.5,203.6 L504.3,203.9 L504.1,204.2 L503.9,204.5 L503.6,204.8 L503.4,205.1 L503.2,205.4 L503.0,205.6 L502.8,205.9 L502.6,206.2 L502.4,206.4 L502.1,206.7 L501.9,206.9 L501.7,207.2 L501.5,207.4 L501.3,207.7 L501.1,207.9 L500.8,208.2 L500.6,208.4 L500.4,208.6 L500.2,208.8 L500.0,209.0 L499.8,209.2 L499.6,209.4 L499.3,209.6 L499.1,209.8 L498.9,210.0 L498.7,210.2 L498.5,210.4 L498.3,210.6 L498.0,210.7 L497.8,210.9 L497.6,211.0 L497.4,211.2 L497.2,211.3 L497.0,211.5 L496.7,211.6 L496.5,211.7 L496.3,211.9 L496.1,212.0 L495.9,212.1 L495.7,212.2 L495.5,212.3 L495.2,212.4 L495.0,212.5 L494.8,212.6 L494.6,212.6 L494.4,212.7 L494.2,212.8 L493.9,212.8 L493.7,212.9 L493.5,212.9 L493.3,213.0 L493.1,213.0 L492.9,213.0 L492.7,213.1 L492.4,213.1 L492.2,213.1 L492.0,213.1 L491.8,213.1 L491.6,213.1 L491.4,213.1 L491.1,213.1 L490.9,213.0 L490.7,213.0 L490.5,213.0 L490.3,212.9 L490.1,212.9 L489.9,212.8 L489.6,212.8 L489.4,212.7 L489.2,212.6 L489.0,212.6 L488.8,212.5 L488.6,212.4 L488.3,212.3 L488.1,212.2 L487.9,212.1 L487.7,212.0 L487.5,211.9 L487.3,211.7 L487.1,211.6 L486.8,211.5 L486.6,211.3 L486.4,211.2 L486.2,211.0 L486.0,210.9 L485.8,210.7 L485.5,210.6 L485.3,210.4 L485.1,210.2 L484.9,210.0 L484.7,209.8 L484.5,209.6 L484.2,209.4 L484.0,209.2 L483.8,209.0 L483.6,208.8 L483.4,208.6 L483.2,208.4 L483.0,208.2 L482.7,207.9 L482.5,207.7 L482.3,207.4 L482.1,207.2 L481.9,206.9 L481.7,206.7 L481.4,206.4 L481.2,206.2 L481.0,205.9 L480.8,205.6 L480.6,205.4 L480.4,205.1 L480.2,204.8 L479.9,204.5 L479.7,204.2 L479.5,203.9 L479.3,203.6 L479.1,203.3 L478.9,203.0 L478.6,202.7 L478.4,202.4 L478.2,202.1 L478.0,201.7 L477.8,201.4 L477.6,201.1 L477.4,200.8 L477.1,200.4 L476.9,200.1 L476.7,199.8 L476.5,199.4 L476.3,199.1 L476.1,198.7 L475.8,198.4 L475.6,198.0 L475.4,197.7 L475.2,197.3 L475.0,197.0 L474.8,196.6 L474.5,196.3 L474.3,195.9 L474.1,195.5 L473.9,195.2 L473.7,194.8 L473.5,194.4 L473.3,194.1 L473.0,193.7 L472.8,193.3 L472.6,193.0 L472.4,192.6 L472.2,192.2 L472.0,191.8 L471.7,191.5 L471.5,191.1 L471.3,190.7 L471.1,190.3 L470.9,190.0 L470.7,189.6 L470.5,189.2 L470.2,189.4 L470.0,189.8 L469.8,190.1 L469.6,190.5 L469.4,190.9 L469.2,191.3 L468.9,191.6 L468.7,192.0 L468.5,192.4 L468.3,192.8 L468.1,193.1 L467.9,193.5 L467.7,193.9 L467.4,194.3 L467.2,194.6 L467.0,195.0 L466.8,195.4 L466.6,195.7 L466.4,196.1 L466.1,196.4 L465.9,196.8 L465.7,197.2 L465.5,197.5 L465.3,197.9 L465.1,198.2 L464.8,198.6 L464.6,198.9 L464.4,199.3 L464.2,199.6 L464.0,199.9 L463.8,200.3 L463.6,200.6 L463.3,200.9 L463.1,201.3 L462.9,201.6 L462.7,201.9 L462.5,202.2 L462.3,202.5 L462.0,202.9 L461.8,203.2 L461.6,203.5 L461.4,203.8 L461.2,204.1 L461.0,204.4 L460.8,204.6 L460.5,204.9 L460.3,205.2 L460.1,205.5 L459.9,205.8 L459.7,206.0 L459.5,206.3 L459.2,206.6 L459.0,206.8 L458.8,207.1 L458.6,207.3 L458.4,207.6 L458.2,207.8 L458.0,208.0 L457.7,208.3 L457.5,208.5 L457.3,208.7 L457.1,208.9 L456.9,209.1 L456.7,209.3 L456.4,209.5 L456.2,209.7 L456.0,209.9 L455.8,210.1 L455.6,210.3 L455.4,210.5 L455.2,210.6 L454.9,210.8 L454.7,211.0 L454.5,211.1 L454.3,211.3 L454.1,211.4 L453.9,211.5 L453.6,211.7 L453.4,211.8 L453.2,211.9 L453.0,212.0 L452.8,212.1 L452.6,212.2 L452.3,212.3 L452.1,212.4 L451.9,212.5 L451.7,212.6 L451.5,212.7 L451.3,212.7 L451.1,212.8 L450.8,212.9 L450.6,212.9 L450.4,213.0 L450.2,213.0 L450.0,213.0 L449.8,213.1 L449.5,213.1 L449.3,213.1 L449.1,213.1 L448.9,213.1Z" fill="#0a0aff" stroke="#0a0aff" stroke-width="0.6"/>
<rect x="89.30" y="303.20" width="89.00" height="55.40" fill="#fff" stroke="#a6a6a6" stroke-width="1"/>
<text x="87.40" y="308.40" class="tk" text-anchor="end">2</text>
<text x="87.40" y="333.30" class="tk" text-anchor="end">0</text>
<text x="87.40" y="357.30" class="tk" text-anchor="end">-2</text>
<text x="88.50" y="364.80" class="tk" text-anchor="middle">0.00</text>
<text x="130.90" y="364.80" class="tk" text-anchor="middle">0.05</text>
<text x="173.00" y="364.80" class="tk" text-anchor="middle">0.10</text>
<text x="133.80" y="374.50" class="ax7" text-anchor="middle">Time (s)</text>
<text transform="translate(78.80,331.50) rotate(-90)" class="av" text-anchor="middle">Amplitude (v)</text>
<polyline points="88.90,330.90 89.23,327.88 89.57,324.91 89.90,322.03 90.23,319.30 90.56,316.74 90.90,314.42 91.23,312.35 91.56,310.58 91.89,309.14 92.23,308.04 92.56,307.30 92.89,306.94 93.22,306.96 93.56,307.36 93.89,308.13 94.22,309.27 94.55,310.75 94.89,312.55 95.22,314.64 95.55,316.99 95.88,319.56 96.22,322.31 96.55,325.20 96.88,328.18 97.21,331.20 97.55,334.22 97.88,337.18 98.21,340.05 98.54,342.77 98.88,345.30 99.21,347.60 99.54,349.64 99.87,351.38 100.21,352.79 100.54,353.85 100.87,354.55 101.20,354.88 101.54,354.82 101.87,354.38 102.20,353.57 102.53,352.40 102.87,350.89 103.20,349.06 103.53,346.94 103.86,344.56 104.20,341.97 104.53,339.20 104.86,336.30 105.19,333.32 105.53,330.29 105.86,327.28 106.19,324.32 106.52,321.47 106.86,318.77 107.19,316.26 107.52,313.98 107.85,311.98 108.19,310.27 108.52,308.89 108.85,307.86 109.18,307.20 109.52,306.91 109.85,307.01 110.18,307.48 110.51,308.33 110.85,309.54 111.18,311.08 111.51,312.94 111.84,315.09 112.18,317.49 112.51,320.10 112.84,322.88 113.17,325.79 113.51,328.78 113.84,331.81 114.17,334.82 114.50,337.77 114.84,340.61 115.17,343.29 115.50,345.78 115.83,348.03 116.17,350.01 116.50,351.68 116.83,353.03 117.17,354.02 117.50,354.65 117.83,354.90 118.16,354.76 118.50,354.25 118.83,353.37 119.16,352.12 119.49,350.55 119.83,348.65 120.16,346.48 120.49,344.06 120.82,341.43 121.16,338.63 121.49,335.71 121.82,332.72 122.15,329.69 122.49,326.68 122.82,323.74 123.15,320.92 123.48,318.25 123.82,315.78 124.15,313.56 124.48,311.61 124.81,309.97 125.15,308.66 125.48,307.70 125.81,307.11 126.14,306.90 126.48,307.07 126.81,307.62 127.14,308.54 127.47,309.82 127.81,311.43 128.14,313.35 128.47,315.55 128.80,317.99 129.14,320.64 129.47,323.45 129.80,326.39 130.13,329.39 130.47,332.41 130.80,335.41 131.13,338.35 131.46,341.16 131.80,343.81 132.13,346.25 132.46,348.45 132.79,350.37 133.13,351.98 133.46,353.26 133.79,354.18 134.12,354.73 134.46,354.90 134.79,354.69 135.12,354.10 135.45,353.14 135.79,351.83 136.12,350.19 136.45,348.24 136.78,346.02 137.12,343.55 137.45,340.88 137.78,338.06 138.11,335.12 138.45,332.11 138.78,329.08 139.11,326.09 139.44,323.17 139.78,320.37 140.11,317.74 140.44,315.32 140.77,313.15 141.11,311.25 141.44,309.68 141.77,308.43 142.10,307.55 142.44,307.04 142.77,306.90 143.10,307.15 143.43,307.78 143.77,308.77 144.10,310.12 144.43,311.79 144.77,313.77 145.10,316.02 145.43,318.51 145.76,321.19 146.10,324.03 146.43,326.98 146.76,329.99 147.09,333.02 147.43,336.01 147.76,338.92 148.09,341.70 148.42,344.31 148.76,346.71 149.09,348.86 149.42,350.72 149.75,352.26 150.09,353.47 150.42,354.32 150.75,354.79 151.08,354.89 151.42,354.60 151.75,353.94 152.08,352.91 152.41,351.53 152.75,349.82 153.08,347.82 153.41,345.54 153.74,343.03 154.08,340.33 154.41,337.48 154.74,334.52 155.07,331.51 155.41,328.48 155.74,325.50 156.07,322.60 156.40,319.83 156.74,317.24 157.07,314.86 157.40,312.74 157.73,310.91 158.07,309.40 158.40,308.23 158.73,307.42 159.06,306.98 159.40,306.92 159.73,307.25 160.06,307.95 160.39,309.01 160.73,310.42 161.06,312.16 161.39,314.20 161.72,316.50 162.06,319.03 162.39,321.75 162.72,324.62 163.05,327.58 163.39,330.60 163.72,333.62 164.05,336.60 164.38,339.49 164.72,342.24 165.05,344.81 165.38,347.16 165.71,349.25 166.05,351.05 166.38,352.53 166.71,353.67 167.04,354.44 167.38,354.84 167.71,354.86 168.04,354.50 168.37,353.76 168.71,352.66 169.04,351.22 169.37,349.45 169.70,347.38 170.04,345.06 170.37,342.50 170.70,339.77 171.03,336.89 171.37,333.92 171.70,330.90" fill="none" stroke="#0a0aff" stroke-width="1.8" stroke-linejoin="round"/>
<rect x="268.80" y="303.20" width="89.00" height="55.40" fill="#fff" stroke="#a6a6a6" stroke-width="1"/>
<text x="266.90" y="308.40" class="tk" text-anchor="end">2</text>
<text x="266.90" y="333.30" class="tk" text-anchor="end">0</text>
<text x="266.90" y="357.30" class="tk" text-anchor="end">-2</text>
<text x="269.50" y="364.80" class="tk" text-anchor="middle">0.0</text>
<text x="311.30" y="364.80" class="tk" text-anchor="middle">0.5</text>
<text x="354.00" y="364.80" class="tk" text-anchor="middle">1.0</text>
<text x="313.30" y="374.50" class="ax7" text-anchor="middle">Time (s)</text>
<text transform="translate(258.30,331.50) rotate(-90)" class="av" text-anchor="middle">Amplitude (v)</text>
<defs><polyline id="sigh" points="268.2,330.9 268.2,327.8 268.3,324.7 268.3,321.7 268.3,318.9 268.4,316.3 268.4,313.9 268.5,311.9 268.5,310.1 268.5,308.7 268.6,307.7 268.6,307.1 268.6,306.9 268.7,307.1 268.7,307.7 268.7,308.7 268.8,310.1 268.8,311.9 268.8,313.9 268.9,316.3 268.9,318.9 269.0,321.7 269.0,324.7 269.0,327.8 269.1,330.9 269.1,334.1 269.1,337.1 269.2,340.1 269.2,342.9 269.2,345.5 269.3,347.9 269.3,350.0 269.3,351.7 269.4,353.1 269.4,354.1 269.5,354.7 269.5,354.9 269.5,354.7 269.6,354.1 269.6,353.1 269.6,351.7 269.7,349.9 269.7,347.8 269.7,345.5 269.8,342.9 269.8,340.0 269.8,337.1 269.9,334.0 269.9,330.8 270.0,327.7 270.0,324.6 270.0,321.7 270.1,318.8 270.1,316.2 270.1,313.9 270.2,311.8 270.2,310.1 270.2,308.7 270.3,307.7 270.3,307.1 270.3,306.9 270.4,307.1 270.4,307.7 270.5,308.8 270.5,310.2 270.5,311.9 270.6,314.0 270.6,316.4 270.6,319.0 270.7,321.8 270.7,324.8 270.7,327.9 270.8,331.0 270.8,334.1 270.8,337.2 270.9,340.2 270.9,343.0 271.0,345.6 271.0,347.9 271.0,350.0 271.1,351.7 271.1,353.1 271.1,354.1 271.2,354.7 271.2,354.9 271.2,354.7 271.3,354.1 271.3,353.0 271.4,351.6 271.4,349.9 271.4,347.8 271.5,345.4 271.5,342.8 271.5,340.0 271.6,337.0 271.6,333.9 271.6,330.8 271.7,327.6 271.7,324.6 271.7,321.6 271.8,318.8 271.8,316.2 271.9,313.8 271.9,311.8 271.9,310.0 272.0,308.7 272.0,307.7 272.0,307.1 272.1,306.9 272.1,307.1 272.1,307.8 272.2,308.8 272.2,310.2 272.2,311.9 272.3,314.0 272.3,316.4 272.4,319.0 272.4,321.9 272.4,324.8 272.5,327.9 272.5,331.1 272.5,334.2 272.6,337.3 272.6,340.2 272.6,343.0 272.7,345.6 272.7,348.0 272.7,350.0 272.8,351.8 272.8,353.1 272.9,354.1 272.9,354.7 272.9,354.9 273.0,354.7 273.0,354.0 273.0,353.0 273.1,351.6 273.1,349.8 273.1,347.7 273.2,345.4 273.2,342.7 273.2,339.9 273.3,336.9 273.3,333.8 273.4,330.7 273.4,327.6 273.4,324.5 273.5,321.5 273.5,318.7 273.5,316.1 273.6,313.8 273.6,311.7 273.6,310.0 273.7,308.7 273.7,307.7 273.8,307.1 273.8,306.9 273.8,307.1 273.9,307.8 273.9,308.8 273.9,310.2 274.0,312.0 274.0,314.1 274.0,316.5 274.1,319.1 274.1,321.9 274.1,324.9 274.2,328.0 274.2,331.1 274.3,334.3 274.3,337.3 274.3,340.3 274.4,343.1 274.4,345.7 274.4,348.0 274.5,350.1 274.5,351.8 274.5,353.2 274.6,354.1 274.6,354.7 274.6,354.9 274.7,354.7 274.7,354.0 274.8,353.0 274.8,351.6 274.8,349.8 274.9,347.7 274.9,345.3 274.9,342.7 275.0,339.9 275.0,336.9 275.0,333.8 275.1,330.6 275.1,327.5 275.1,324.4 275.2,321.5 275.2,318.7 275.3,316.1 275.3,313.7 275.3,311.7 275.4,310.0 275.4,308.6 275.4,307.7 275.5,307.1 275.5,306.9 275.5,307.1 275.6,307.8 275.6,308.8 275.6,310.3 275.7,312.0 275.7,314.1 275.8,316.5 275.8,319.1 275.8,322.0 275.9,325.0 275.9,328.0 275.9,331.2 276.0,334.3 276.0,337.4 276.0,340.3 276.1,343.1 276.1,345.7 276.1,348.1 276.2,350.1 276.2,351.8 276.3,353.2 276.3,354.2 276.3,354.7 276.4,354.9 276.4,354.7 276.4,354.0 276.5,353.0 276.5,351.5 276.5,349.8 276.6,347.7 276.6,345.3 276.7,342.6 276.7,339.8 276.7,336.8 276.8,333.7 276.8,330.6 276.8,327.5 276.9,324.4 276.9,321.4 276.9,318.6 277.0,316.0 277.0,313.7 277.0,311.7 277.1,310.0 277.1,308.6 277.2,307.6 277.2,307.1 277.2,306.9 277.3,307.2 277.3,307.8 277.3,308.9 277.4,310.3 277.4,312.1 277.4,314.2 277.5,316.6 277.5,319.2 277.5,322.0 277.6,325.0 277.6,328.1 277.7,331.2 277.7,334.4 277.7,337.4 277.8,340.4 277.8,343.2 277.8,345.8 277.9,348.1 277.9,350.2 277.9,351.9 278.0,353.2 278.0,354.2 278.0,354.7 278.1,354.9 278.1,354.6 278.2,354.0 278.2,352.9 278.2,351.5 278.3,349.7 278.3,347.6 278.3,345.2 278.4,342.6 278.4,339.7 278.4,336.7 278.5,333.7 278.5,330.5 278.5,327.4 278.6,324.3 278.6,321.4 278.7,318.6 278.7,316.0 278.7,313.7 278.8,311.6 278.8,309.9 278.8,308.6 278.9,307.6 278.9,307.1 278.9,306.9 279.0,307.2 279.0,307.8 279.0,308.9 279.1,310.3 279.1,312.1 279.2,314.2 279.2,316.6 279.2,319.3 279.3,322.1 279.3,325.1 279.3,328.2 279.4,331.3 279.4,334.4 279.4,337.5 279.5,340.5 279.5,343.3 279.6,345.8 279.6,348.2 279.6,350.2 279.7,351.9 279.7,353.2 279.7,354.2 279.8,354.7 279.8,354.9 279.8,354.6 279.9,354.0 279.9,352.9 279.9,351.5 280.0,349.7 280.0,347.6 280.1,345.2 280.1,342.5 280.1,339.7 280.2,336.7 280.2,333.6 280.2,330.5 280.3,327.3 280.3,324.3 280.3,321.3 280.4,318.5 280.4,315.9 280.4,313.6 280.5,311.6 280.5,309.9 280.6,308.6 280.6,307.6 280.6,307.1 280.7,306.9 280.7,307.2 280.7,307.8 280.8,308.9 280.8,310.3 280.8,312.1 280.9,314.3 280.9,316.7 280.9,319.3 281.0,322.1 281.0,325.1 281.1,328.2 281.1,331.4 281.1,334.5 281.2,337.6 281.2,340.5 281.2,343.3 281.3,345.9 281.3,348.2 281.3,350.2 281.4,351.9 281.4,353.3 281.4,354.2 281.5,354.8 281.5,354.9 281.6,354.6 281.6,354.0 281.6,352.9 281.7,351.4 281.7,349.6 281.7,347.5 281.8,345.1 281.8,342.5 281.8,339.6 281.9,336.6 281.9,333.5 281.9,330.4 282.0,327.3 282.0,324.2 282.1,321.2 282.1,318.5 282.1,315.9 282.2,313.6 282.2,311.6 282.2,309.9 282.3,308.5 282.3,307.6 282.3,307.0 282.4,306.9 282.4,307.2 282.5,307.9 282.5,308.9 282.5,310.4 282.6,312.2 282.6,314.3 282.6,316.7 282.7,319.4 282.7,322.2 282.7,325.2 282.8,328.3 282.8,331.4 282.8,334.6 282.9,337.6 282.9,340.6 283.0,343.4 283.0,345.9 283.0,348.2 283.1,350.3 283.1,352.0 283.1,353.3 283.2,354.2 283.2,354.8 283.2,354.9 283.3,354.6 283.3,353.9 283.3,352.9 283.4,351.4 283.4,349.6 283.5,347.5 283.5,345.1 283.5,342.4 283.6,339.6 283.6,336.6 283.6,333.5 283.7,330.3 283.7,327.2 283.7,324.1 283.8,321.2 283.8,318.4 283.8,315.8 283.9,313.5 283.9,311.5 284.0,309.8 284.0,308.5 284.0,307.6 284.1,307.0 284.1,306.9 284.1,307.2 284.2,307.9 284.2,309.0 284.2,310.4 284.3,312.2 284.3,314.4 284.3,316.8 284.4,319.4 284.4,322.3 284.5,325.3 284.5,328.4 284.5,331.5 284.6,334.6 284.6,337.7 284.6,340.6 284.7,343.4 284.7,346.0 284.7,348.3 284.8,350.3 284.8,352.0 284.9,353.3 284.9,354.2 284.9,354.8 285.0,354.9 285.0,354.6 285.0,353.9 285.1,352.8 285.1,351.4 285.1,349.6 285.2,347.4 285.2,345.0 285.2,342.4 285.3,339.5 285.3,336.5 285.4,333.4 285.4,330.3 285.4,327.1 285.5,324.1 285.5,321.1 285.5,318.4 285.6,315.8 285.6,313.5 285.6,311.5 285.7,309.8 285.7,308.5 285.7,307.6 285.8,307.0 285.8,306.9 285.9,307.2 285.9,307.9 285.9,309.0 286.0,310.4 286.0,312.3 286.0,314.4 286.1,316.8 286.1,319.5 286.1,322.3 286.2,325.3 286.2,328.4 286.2,331.6 286.3,334.7 286.3,337.7 286.4,340.7 286.4,343.5 286.4,346.0 286.5,348.3 286.5,350.3 286.5,352.0 286.6,353.3 286.6,354.2 286.6,354.8 286.7,354.9 286.7,354.6 286.7,353.9 286.8,352.8 286.8,351.3 286.9,349.5 286.9,347.4 286.9,345.0 287.0,342.3 287.0,339.4 287.0,336.4 287.1,333.3 287.1,330.2 287.1,327.1 287.2,324.0 287.2,321.1 287.2,318.3 287.3,315.7 287.3,313.4 287.4,311.4 287.4,309.8 287.4,308.5 287.5,307.5 287.5,307.0 287.5,306.9 287.6,307.2 287.6,307.9 287.6,309.0 287.7,310.5 287.7,312.3 287.8,314.4 287.8,316.9 287.8,319.5 287.9,322.4 287.9,325.4 287.9,328.5 288.0,331.6 288.0,334.7 288.0,337.8 288.1,340.8 288.1,343.5 288.1,346.1 288.2,348.4 288.2,350.4 288.3,352.0 288.3,353.3 288.3,354.3 288.4,354.8 288.4,354.9 288.4,354.6 288.5,353.9 288.5,352.8 288.5,351.3 288.6,349.5 288.6,347.3 288.6,344.9 288.7,342.2 288.7,339.4 288.8,336.4 288.8,333.3 288.8,330.1 288.9,327.0 288.9,324.0 288.9,321.0 289.0,318.2 289.0,315.7 289.0,313.4 289.1,311.4 289.1,309.7 289.1,308.4 289.2,307.5 289.2,307.0 289.3,306.9 289.3,307.2 289.3,307.9 289.4,309.0 289.4,310.5 289.4,312.3 289.5,314.5 289.5,316.9 289.5,319.6 289.6,322.4 289.6,325.4 289.6,328.5 289.7,331.7 289.7,334.8 289.8,337.9 289.8,340.8 289.8,343.6 289.9,346.1 289.9,348.4 289.9,350.4 290.0,352.1 290.0,353.4 290.0,354.3 290.1,354.8 290.1,354.9 290.1,354.6 290.2,353.9 290.2,352.8 290.3,351.3 290.3,349.4 290.3,347.3 290.4,344.9 290.4,342.2 290.4,339.3 290.5,336.3 290.5,333.2 290.5,330.1 290.6,327.0 290.6,323.9 290.7,321.0 290.7,318.2 290.7,315.6 290.8,313.4 290.8,311.4 290.8,309.7 290.9,308.4 290.9,307.5 290.9,307.0 291.0,306.9 291.0,307.2 291.0,307.9 291.1,309.1 291.1,310.5 291.2,312.4 291.2,314.5 291.2,317.0 291.3,319.6 291.3,322.5 291.3,325.5 291.4,328.6 291.4,331.7 291.4,334.9 291.5,337.9 291.5,340.9 291.5,343.6 291.6,346.2 291.6,348.5 291.7,350.5 291.7,352.1 291.7,353.4 291.8,354.3 291.8,354.8 291.8,354.9 291.9,354.6 291.9,353.8 291.9,352.7 292.0,351.2 292.0,349.4 292.0,347.2 292.1,344.8 292.1,342.1 292.2,339.3 292.2,336.3 292.2,333.2 292.3,330.0 292.3,326.9 292.3,323.8 292.4,320.9 292.4,318.1 292.4,315.6 292.5,313.3 292.5,311.3 292.5,309.7 292.6,308.4 292.6,307.5 292.7,307.0 292.7,306.9 292.7,307.2 292.8,308.0 292.8,309.1 292.8,310.6 292.9,312.4 292.9,314.6 292.9,317.0 293.0,319.7 293.0,322.6 293.0,325.6 293.1,328.7 293.1,331.8 293.2,334.9 293.2,338.0 293.2,340.9 293.3,343.7 293.3,346.2 293.3,348.5 293.4,350.5 293.4,352.1 293.4,353.4 293.5,354.3 293.5,354.8 293.6,354.9 293.6,354.6 293.6,353.8 293.7,352.7 293.7,351.2 293.7,349.4 293.8,347.2 293.8,344.8 293.8,342.1 293.9,339.2 293.9,336.2 293.9,333.1 294.0,330.0 294.0,326.8 294.1,323.8 294.1,320.8 294.1,318.1 294.2,315.5 294.2,313.3 294.2,311.3 294.3,309.7 294.3,308.4 294.3,307.5 294.4,307.0 294.4,306.9 294.4,307.2 294.5,308.0 294.5,309.1 294.6,310.6 294.6,312.5 294.6,314.6 294.7,317.1 294.7,319.7 294.7,322.6 294.8,325.6 294.8,328.7 294.8,331.9 294.9,335.0 294.9,338.0 294.9,341.0 295.0,343.7 295.0,346.3 295.1,348.6 295.1,350.5 295.1,352.2 295.2,353.4 295.2,354.3 295.2,354.8 295.3,354.9 295.3,354.5 295.3,353.8 295.4,352.7 295.4,351.2 295.4,349.3 295.5,347.2 295.5,344.7 295.6,342.0 295.6,339.2 295.6,336.1 295.7,333.0 295.7,329.9 295.7,326.8 295.8,323.7 295.8,320.8 295.8,318.0 295.9,315.5 295.9,313.2 296.0,311.3 296.0,309.6 296.0,308.4 296.1,307.5 296.1,307.0 296.1,306.9 296.2,307.3 296.2,308.0 296.2,309.1 296.3,310.6 296.3,312.5 296.3,314.7 296.4,317.1 296.4,319.8 296.5,322.7 296.5,325.7 296.5,328.8 296.6,331.9 296.6,335.1 296.6,338.1 296.7,341.0 296.7,343.8 296.7,346.3 296.8,348.6 296.8,350.6 296.8,352.2 296.9,353.5 296.9,354.3 297.0,354.8 297.0,354.9 297.0,354.5 297.1,353.8 297.1,352.6 297.1,351.1 297.2,349.3 297.2,347.1 297.2,344.7 297.3,342.0 297.3,339.1 297.3,336.1 297.4,333.0 297.4,329.8 297.5,326.7 297.5,323.7 297.5,320.7 297.6,318.0 297.6,315.5 297.6,313.2 297.7,311.2 297.7,309.6 297.7,308.3 297.8,307.5 297.8,307.0 297.8,306.9 297.9,307.3 297.9,308.0 298.0,309.2 298.0,310.7 298.0,312.5 298.1,314.7 298.1,317.2 298.1,319.9 298.2,322.7 298.2,325.8 298.2,328.9 298.3,332.0 298.3,335.1 298.3,338.2 298.4,341.1 298.4,343.8 298.5,346.4 298.5,348.6 298.5,350.6 298.6,352.2 298.6,353.5 298.6,354.3 298.7,354.8 298.7,354.9 298.7,354.5 298.8,353.8 298.8,352.6 298.9,351.1 298.9,349.2 298.9,347.1 299.0,344.6 299.0,341.9 299.0,339.0 299.1,336.0 299.1,332.9 299.1,329.8 299.2,326.6 299.2,323.6 299.2,320.7 299.3,317.9 299.3,315.4 299.4,313.1 299.4,311.2 299.4,309.6 299.5,308.3 299.5,307.4 299.5,307.0 299.6,306.9 299.6,307.3 299.6,308.0 299.7,309.2 299.7,310.7 299.7,312.6 299.8,314.8 299.8,317.2 299.9,319.9 299.9,322.8 299.9,325.8 300.0,328.9 300.0,332.1 300.0,335.2 300.1,338.2 300.1,341.2 300.1,343.9 300.2,346.4 300.2,348.7 300.2,350.6 300.3,352.2 300.3,353.5 300.4,354.4 300.4,354.8 300.4,354.9 300.5,354.5 300.5,353.7 300.5,352.6 300.6,351.1 300.6,349.2 300.6,347.0 300.7,344.6 300.7,341.9 300.7,339.0 300.8,336.0 300.8,332.8 300.9,329.7 300.9,326.6 300.9,323.5 301.0,320.6 301.0,317.9 301.0,315.4 301.1,313.1 301.1,311.2 301.1,309.5 301.2,308.3 301.2,307.4 301.2,307.0 301.3,306.9 301.3,307.3 301.4,308.1 301.4,309.2 301.4,310.7 301.5,312.6 301.5,314.8 301.5,317.3 301.6,320.0 301.6,322.9 301.6,325.9 301.7,329.0 301.7,332.1 301.8,335.2 301.8,338.3 301.8,341.2 301.9,343.9 301.9,346.5 301.9,348.7 302.0,350.7 302.0,352.3 302.0,353.5 302.1,354.4 302.1,354.8 302.1,354.9 302.2,354.5 302.2,353.7 302.3,352.6 302.3,351.0 302.3,349.2 302.4,347.0 302.4,344.5 302.4,341.8 302.5,338.9 302.5,335.9 302.5,332.8 302.6,329.6 302.6,326.5 302.6,323.5 302.7,320.6 302.7,317.8 302.8,315.3 302.8,313.1 302.8,311.1 302.9,309.5 302.9,308.3 302.9,307.4 303.0,307.0 303.0,306.9 303.0,307.3 303.1,308.1 303.1,309.2 303.1,310.8 303.2,312.7 303.2,314.9 303.3,317.3 303.3,320.0 303.3,322.9 303.4,325.9 303.4,329.0 303.4,332.2 303.5,335.3 303.5,338.3 303.5,341.3 303.6,344.0 303.6,346.5 303.6,348.8 303.7,350.7 303.7,352.3 303.8,353.5 303.8,354.4 303.8,354.8 303.9,354.9 303.9,354.5 303.9,353.7 304.0,352.5 304.0,351.0 304.0,349.1 304.1,346.9 304.1,344.4 304.1,341.7 304.2,338.9 304.2,335.8 304.3,332.7 304.3,329.6 304.3,326.5 304.4,323.4 304.4,320.5 304.4,317.8 304.5,315.3 304.5,313.0 304.5,311.1 304.6,309.5 304.6,308.3 304.7,307.4 304.7,307.0 304.7,306.9 304.8,307.3 304.8,308.1 304.8,309.3 304.9,310.8 304.9,312.7 304.9,314.9 305.0,317.4 305.0,320.1 305.0,323.0 305.1,326.0 305.1,329.1 305.2,332.3 305.2,335.4 305.2,338.4 305.3,341.3 305.3,344.1 305.3,346.6 305.4,348.8 305.4,350.7 305.4,352.3 305.5,353.6 305.5,354.4 305.5,354.8 305.6,354.9 305.6,354.5 305.7,353.7 305.7,352.5 305.7,351.0 305.8,349.1 305.8,346.9 305.8,344.4 305.9,341.7 305.9,338.8 305.9,335.8 306.0,332.7 306.0,329.5 306.0,326.4 306.1,323.4 306.1,320.5 306.2,317.7 306.2,315.2 306.2,313.0 306.3,311.0 306.3,309.5 306.3,308.2 306.4,307.4 306.4,307.0 306.4,306.9 306.5,307.3 306.5,308.1 306.5,309.3 306.6,310.9 306.6,312.7 306.7,315.0 306.7,317.4 306.7,320.1 306.8,323.0 306.8,326.1 306.8,329.2 306.9,332.3 306.9,335.4 306.9,338.5 307.0,341.4 307.0,344.1 307.1,346.6 307.1,348.8 307.1,350.8 307.2,352.4 307.2,353.6 307.2,354.4 307.3,354.8 307.3,354.9 307.3,354.5 307.4,353.7 307.4,352.5 307.4,350.9 307.5,349.0 307.5,346.8 307.6,344.3 307.6,341.6 307.6,338.7 307.7,335.7 307.7,332.6 307.7,329.5 307.8,326.3 307.8,323.3 307.8,320.4 307.9,317.7 307.9,315.2 307.9,312.9 308.0,311.0 308.0,309.4 308.1,308.2 308.1,307.4 308.1,307.0 308.2,306.9 308.2,307.3 308.2,308.1 308.3,309.3 308.3,310.9 308.3,312.8 308.4,315.0 308.4,317.5 308.4,320.2 308.5,323.1 308.5,326.1 308.6,329.2 308.6,332.4 308.6,335.5 308.7,338.5 308.7,341.4 308.7,344.2 308.8,346.7 308.8,348.9 308.8,350.8 308.9,352.4 308.9,353.6 308.9,354.4 309.0,354.8 309.0,354.9 309.1,354.5 309.1,353.7 309.1,352.5 309.2,350.9 309.2,349.0 309.2,346.8 309.3,344.3 309.3,341.6 309.3,338.7 309.4,335.6 309.4,332.5 309.4,329.4 309.5,326.3 309.5,323.2 309.6,320.3 309.6,317.6 309.6,315.1 309.7,312.9 309.7,311.0 309.7,309.4 309.8,308.2 309.8,307.4 309.8,307.0 309.9,306.9 309.9,307.4 310.0,308.2 310.0,309.4 310.0,310.9 310.1,312.8 310.1,315.0 310.1,317.5 310.2,320.3 310.2,323.2 310.2,326.2 310.3,329.3 310.3,332.4 310.3,335.6 310.4,338.6 310.4,341.5 310.5,344.2 310.5,346.7 310.5,348.9 310.6,350.8 310.6,352.4 310.6,353.6 310.7,354.4 310.7,354.8 310.7,354.8 310.8,354.4 310.8,353.6 310.8,352.4 310.9,350.9 310.9,348.9 311.0,346.7 311.0,344.2 311.0,341.5 311.1,338.6 311.1,335.6 311.1,332.5 311.2,329.3 311.2,326.2 311.2,323.2 311.3,320.3 311.3,317.6 311.3,315.1 311.4,312.9 311.4,310.9 311.5,309.4 311.5,308.2 311.5,307.4 311.6,307.0 311.6,307.0 311.6,307.4 311.7,308.2 311.7,309.4 311.7,311.0 311.8,312.9 311.8,315.1 311.8,317.6 311.9,320.3 311.9,323.2 312.0,326.2 312.0,329.4 312.0,332.5 312.1,335.6 312.1,338.6 312.1,341.5 312.2,344.3 312.2,346.8 312.2,349.0 312.3,350.9 312.3,352.4 312.3,353.6 312.4,354.4 312.4,354.9 312.5,354.8 312.5,354.4 312.5,353.6 312.6,352.4 312.6,350.8 312.6,348.9 312.7,346.7 312.7,344.2 312.7,341.5 312.8,338.6 312.8,335.5 312.9,332.4 312.9,329.3 312.9,326.2 313.0,323.1 313.0,320.2 313.0,317.5 313.1,315.0 313.1,312.8 313.1,310.9 313.2,309.3 313.2,308.1 313.2,307.3 313.3,306.9 313.3,307.0 313.4,307.4 313.4,308.2 313.4,309.4 313.5,311.0 313.5,312.9 313.5,315.1 313.6,317.6 313.6,320.4 313.6,323.3 313.7,326.3 313.7,329.4 313.7,332.6 313.8,335.7 313.8,338.7 313.9,341.6 313.9,344.3 313.9,346.8 314.0,349.0 314.0,350.9 314.0,352.5 314.1,353.7 314.1,354.5 314.1,354.9 314.2,354.8 314.2,354.4 314.2,353.6 314.3,352.4 314.3,350.8 314.4,348.9 314.4,346.6 314.4,344.1 314.5,341.4 314.5,338.5 314.5,335.5 314.6,332.3 314.6,329.2 314.6,326.1 314.7,323.1 314.7,320.2 314.7,317.5 314.8,315.0 314.8,312.8 314.9,310.9 314.9,309.3 314.9,308.1 315.0,307.3 315.0,306.9 315.0,307.0 315.1,307.4 315.1,308.2 315.1,309.4 315.2,311.0 315.2,313.0 315.2,315.2 315.3,317.7 315.3,320.4 315.4,323.3 315.4,326.4 315.4,329.5 315.5,332.6 315.5,335.7 315.5,338.8 315.6,341.7 315.6,344.4 315.6,346.8 315.7,349.1 315.7,350.9 315.8,352.5 315.8,353.7 315.8,354.5 315.9,354.9 315.9,354.8 315.9,354.4 316.0,353.6 316.0,352.3 316.0,350.8 316.1,348.8 316.1,346.6 316.1,344.1 316.2,341.3 316.2,338.4 316.3,335.4 316.3,332.3 316.3,329.1 316.4,326.0 316.4,323.0 316.4,320.1 316.5,317.4 316.5,314.9 316.5,312.7 316.6,310.8 316.6,309.3 316.6,308.1 316.7,307.3 316.7,306.9 316.8,307.0 316.8,307.4 316.8,308.2 316.9,309.5 316.9,311.1 316.9,313.0 317.0,315.2 317.0,317.7 317.0,320.5 317.1,323.4 317.1,326.4 317.1,329.5 317.2,332.7 317.2,335.8 317.3,338.8 317.3,341.7 317.3,344.4 317.4,346.9 317.4,349.1 317.4,351.0 317.5,352.5 317.5,353.7 317.5,354.5 317.6,354.9 317.6,354.8 317.6,354.4 317.7,353.5 317.7,352.3 317.8,350.7 317.8,348.8 317.8,346.5 317.9,344.0 317.9,341.3 317.9,338.4 318.0,335.3 318.0,332.2 318.0,329.1 318.1,326.0 318.1,322.9 318.2,320.1 318.2,317.4 318.2,314.9 318.3,312.7 318.3,310.8 318.3,309.3 318.4,308.1 318.4,307.3 318.4,306.9 318.5,307.0 318.5,307.4 318.5,308.3 318.6,309.5 318.6,311.1 318.7,313.0 318.7,315.3 318.7,317.8 318.8,320.5 318.8,323.5 318.8,326.5 318.9,329.6 318.9,332.8 318.9,335.9 319.0,338.9 319.0,341.8 319.0,344.5 319.1,346.9 319.1,349.1 319.2,351.0 319.2,352.6 319.2,353.7 319.3,354.5 319.3,354.9 319.3,354.8 319.4,354.4 319.4,353.5 319.4,352.3 319.5,350.7 319.5,348.7 319.5,346.5 319.6,344.0 319.6,341.2 319.7,338.3 319.7,335.3 319.7,332.2 319.8,329.0 319.8,325.9 319.8,322.9 319.9,320.0 319.9,317.3 319.9,314.8 320.0,312.6 320.0,310.8 320.0,309.2 320.1,308.1 320.1,307.3 320.2,306.9 320.2,307.0 320.2,307.4 320.3,308.3 320.3,309.5 320.3,311.1 320.4,313.1 320.4,315.3 320.4,317.9 320.5,320.6 320.5,323.5 320.5,326.6 320.6,329.7 320.6,332.8 320.7,335.9 320.7,338.9 320.7,341.8 320.8,344.5 320.8,347.0 320.8,349.2 320.9,351.1 320.9,352.6 320.9,353.7 321.0,354.5 321.0,354.9 321.1,354.8 321.1,354.4 321.1,353.5 321.2,352.3 321.2,350.6 321.2,348.7 321.3,346.4 321.3,343.9 321.3,341.2 321.4,338.3 321.4,335.2 321.4,332.1 321.5,329.0 321.5,325.8 321.6,322.8 321.6,319.9 321.6,317.2 321.7,314.8 321.7,312.6 321.7,310.7 321.8,309.2 321.8,308.1 321.8,307.3 321.9,306.9 321.9,307.0 321.9,307.4 322.0,308.3 322.0,309.6 322.1,311.2 322.1,313.1 322.1,315.4 322.2,317.9 322.2,320.6 322.2,323.6 322.3,326.6 322.3,329.7 322.3,332.9 322.4,336.0 322.4,339.0 322.4,341.9 322.5,344.6 322.5,347.0 322.6,349.2 322.6,351.1 322.6,352.6 322.7,353.8 322.7,354.5 322.7,354.9 322.8,354.8 322.8,354.4 322.8,353.5 322.9,352.2 322.9,350.6 322.9,348.7 323.0,346.4 323.0,343.9 323.1,341.1 323.1,338.2 323.1,335.2 323.2,332.0 323.2,328.9 323.2,325.8 323.3,322.8 323.3,319.9 323.3,317.2 323.4,314.7 323.4,312.6 323.4,310.7 323.5,309.2 323.5,308.0 323.6,307.3 323.6,306.9 323.6,307.0 323.7,307.5 323.7,308.3 323.7,309.6 323.8,311.2 323.8,313.2 323.8,315.4 323.9,318.0 323.9,320.7 324.0,323.6 324.0,326.7 324.0,329.8 324.1,332.9 324.1,336.0 324.1,339.1 324.2,341.9 324.2,344.6 324.2,347.1 324.3,349.3 324.3,351.1 324.3,352.6 324.4,353.8 324.4,354.5 324.5,354.9 324.5,354.8 324.5,354.3 324.6,353.5 324.6,352.2 324.6,350.6 324.7,348.6 324.7,346.3 324.7,343.8 324.8,341.1 324.8,338.1 324.8,335.1 324.9,332.0 324.9,328.8 325.0,325.7 325.0,322.7 325.0,319.8 325.1,317.1 325.1,314.7 325.1,312.5 325.2,310.7 325.2,309.2 325.2,308.0 325.3,307.3 325.3,306.9 325.3,307.0 325.4,307.5 325.4,308.3 325.5,309.6 325.5,311.2 325.5,313.2 325.6,315.5 325.6,318.0 325.6,320.8 325.7,323.7 325.7,326.7 325.7,329.9 325.8,333.0 325.8,336.1 325.8,339.1 325.9,342.0 325.9,344.7 326.0,347.1 326.0,349.3 326.0,351.2 326.1,352.7 326.1,353.8 326.1,354.5 326.2,354.9 326.2,354.8 326.2,354.3 326.3,353.4 326.3,352.2 326.3,350.5 326.4,348.6 326.4,346.3 326.5,343.8 326.5,341.0 326.5,338.1 326.6,335.0 326.6,331.9 326.6,328.8 326.7,325.7 326.7,322.6 326.7,319.8 326.8,317.1 326.8,314.6 326.9,312.5 326.9,310.6 326.9,309.1 327.0,308.0 327.0,307.3 327.0,306.9 327.1,307.0 327.1,307.5 327.1,308.4 327.2,309.6 327.2,311.3 327.2,313.2 327.3,315.5 327.3,318.1 327.4,320.8 327.4,323.8 327.4,326.8 327.5,329.9 327.5,333.1 327.5,336.2 327.6,339.2 327.6,342.1 327.6,344.7 327.7,347.2 327.7,349.3 327.7,351.2 327.8,352.7 327.8,353.8 327.9,354.6 327.9,354.9 327.9,354.8 328.0,354.3 328.0,353.4 328.0,352.1 328.1,350.5 328.1,348.5 328.1,346.3 328.2,343.7 328.2,341.0 328.2,338.0 328.3,335.0 328.3,331.8 328.4,328.7 328.4,325.6 328.4,322.6 328.5,319.7 328.5,317.0 328.5,314.6 328.6,312.4 328.6,310.6 328.6,309.1 328.7,308.0 328.7,307.2 328.7,306.9 328.8,307.0 328.8,307.5 328.9,308.4 328.9,309.7 328.9,311.3 329.0,313.3 329.0,315.6 329.0,318.1 329.1,320.9 329.1,323.8 329.1,326.9 329.2,330.0 329.2,333.1 329.3,336.2 329.3,339.2 329.3,342.1 329.4,344.8 329.4,347.2 329.4,349.4 329.5,351.2 329.5,352.7 329.5,353.8 329.6,354.6 329.6,354.9 329.6,354.8 329.7,354.3 329.7,353.4 329.8,352.1 329.8,350.5 329.8,348.5 329.9,346.2 329.9,343.7 329.9,340.9 330.0,338.0 330.0,334.9 330.0,331.8 330.1,328.6 330.1,325.5 330.1,322.5 330.2,319.7 330.2,317.0 330.3,314.6 330.3,312.4 330.3,310.6 330.4,309.1 330.4,308.0 330.4,307.2 330.5,306.9 330.5,307.0 330.5,307.5 330.6,308.4 330.6,309.7 330.6,311.3 330.7,313.3 330.7,315.6 330.8,318.2 330.8,320.9 330.8,323.9 330.9,326.9 330.9,330.1 330.9,333.2 331.0,336.3 331.0,339.3 331.0,342.2 331.1,344.8 331.1,347.3 331.1,349.4 331.2,351.3 331.2,352.7 331.3,353.9 331.3,354.6 331.3,354.9 331.4,354.8 331.4,354.3 331.4,353.4 331.5,352.1 331.5,350.4 331.5,348.4 331.6,346.2 331.6,343.6 331.6,340.8 331.7,337.9 331.7,334.8 331.8,331.7 331.8,328.6 331.8,325.5 331.9,322.5 331.9,319.6 331.9,316.9 332.0,314.5 332.0,312.4 332.0,310.5 332.1,309.0 332.1,307.9 332.2,307.2 332.2,306.9 332.2,307.0 332.3,307.5 332.3,308.4 332.3,309.7 332.4,311.4 332.4,313.4 332.4,315.7 332.5,318.2 332.5,321.0 332.5,323.9 332.6,327.0 332.6,330.1 332.7,333.3 332.7,336.4 332.7,339.4 332.8,342.2 332.8,344.9 332.8,347.3 332.9,349.5 332.9,351.3 332.9,352.8 333.0,353.9 333.0,354.6 333.0,354.9 333.1,354.8 333.1,354.3 333.2,353.4 333.2,352.1 333.2,350.4 333.3,348.4 333.3,346.1 333.3,343.6 333.4,340.8 333.4,337.8 333.4,334.8 333.5,331.7 333.5,328.5 333.5,325.4 333.6,322.4 333.6,319.6 333.7,316.9 333.7,314.5 333.7,312.3 333.8,310.5 333.8,309.0 333.8,307.9 333.9,307.2 333.9,306.9 333.9,307.0 334.0,307.5 334.0,308.5 334.0,309.8 334.1,311.4 334.1,313.4 334.2,315.7 334.2,318.3 334.2,321.0 334.3,324.0 334.3,327.1 334.3,330.2 334.4,333.3 334.4,336.4 334.4,339.4 334.5,342.3 334.5,344.9 334.5,347.4 334.6,349.5 334.6,351.3 334.7,352.8 334.7,353.9 334.7,354.6 334.8,354.9 334.8,354.8 334.8,354.3 334.9,353.3 334.9,352.0 334.9,350.4 335.0,348.4 335.0,346.1 335.1,343.5 335.1,340.7 335.1,337.8 335.2,334.7 335.2,331.6 335.2,328.5 335.3,325.4 335.3,322.4 335.3,319.5 335.4,316.8 335.4,314.4 335.4,312.3 335.5,310.5 335.5,309.0 335.6,307.9 335.6,307.2 335.6,306.9 335.7,307.0 335.7,307.6 335.7,308.5 335.8,309.8 335.8,311.5 335.8,313.5 335.9,315.8 335.9,318.3 335.9,321.1 336.0,324.1 336.0,327.1 336.1,330.2 336.1,333.4 336.1,336.5 336.2,339.5 336.2,342.3 336.2,345.0 336.3,347.4 336.3,349.5 336.3,351.4 336.4,352.8 336.4,353.9 336.4,354.6 336.5,354.9 336.5,354.8 336.6,354.2 336.6,353.3 336.6,352.0 336.7,350.3 336.7,348.3 336.7,346.0 336.8,343.4 336.8,340.7 336.8,337.7 336.9,334.7 336.9,331.5 336.9,328.4 337.0,325.3 337.0,322.3 337.1,319.4 337.1,316.8 337.1,314.4 337.2,312.2 337.2,310.4 337.2,309.0 337.3,307.9 337.3,307.2 337.3,306.9 337.4,307.0 337.4,307.6 337.4,308.5 337.5,309.8 337.5,311.5 337.6,313.5 337.6,315.8 337.6,318.4 337.7,321.2 337.7,324.1 337.7,327.2 337.8,330.3 337.8,333.4 337.8,336.5 337.9,339.5 337.9,342.4 338.0,345.0 338.0,347.4 338.0,349.6 338.1,351.4 338.1,352.8 338.1,353.9 338.2,354.6 338.2,354.9 338.2,354.8 338.3,354.2 338.3,353.3 338.3,352.0 338.4,350.3 338.4,348.3 338.5,346.0 338.5,343.4 338.5,340.6 338.6,337.7 338.6,334.6 338.6,331.5 338.7,328.3 338.7,325.2 338.7,322.2 338.8,319.4 338.8,316.7 338.8,314.3 338.9,312.2 338.9,310.4 339.0,308.9 339.0,307.9 339.0,307.2 339.1,306.9 339.1,307.0 339.1,307.6 339.2,308.5 339.2,309.8 339.2,311.5 339.3,313.6 339.3,315.9 339.3,318.4 339.4,321.2 339.4,324.2 339.5,327.2 339.5,330.4 339.5,333.5 339.6,336.6 339.6,339.6 339.6,342.4 339.7,345.1 339.7,347.5 339.7,349.6 339.8,351.4 339.8,352.9 339.8,353.9 339.9,354.6 339.9,354.9 340.0,354.8 340.0,354.2 340.0,353.3 340.1,351.9 340.1,350.2 340.1,348.2 340.2,345.9 340.2,343.3 340.2,340.6 340.3,337.6 340.3,334.5 340.4,331.4 340.4,328.3 340.4,325.2 340.5,322.2 340.5,319.3 340.5,316.7 340.6,314.3 340.6,312.2 340.6,310.4 340.7,308.9 340.7,307.8 340.7,307.2 340.8,306.9 340.8,307.0 340.9,307.6 340.9,308.5 340.9,309.9 341.0,311.6 341.0,313.6 341.0,315.9 341.1,318.5 341.1,321.3 341.1,324.2 341.2,327.3 341.2,330.4 341.2,333.6 341.3,336.7 341.3,339.7 341.4,342.5 341.4,345.1 341.4,347.5 341.5,349.7 341.5,351.5 341.5,352.9 341.6,354.0 341.6,354.6 341.6,354.9 341.7,354.7 341.7,354.2 341.7,353.2 341.8,351.9 341.8,350.2 341.9,348.2 341.9,345.9 341.9,343.3 342.0,340.5 342.0,337.5 342.0,334.5 342.1,331.3 342.1,328.2 342.1,325.1 342.2,322.1 342.2,319.3 342.2,316.6 342.3,314.2 342.3,312.1 342.4,310.3 342.4,308.9 342.4,307.8 342.5,307.2 342.5,306.9 342.5,307.1 342.6,307.6 342.6,308.6 342.6,309.9 342.7,311.6 342.7,313.6 342.7,316.0 342.8,318.5 342.8,321.3 342.9,324.3 342.9,327.4 342.9,330.5 343.0,333.6 343.0,336.7 343.0,339.7 343.1,342.5 343.1,345.2 343.1,347.6 343.2,349.7 343.2,351.5 343.3,352.9 343.3,354.0 343.3,354.6 343.4,354.9 343.4,354.7 343.4,354.2 343.5,353.2 343.5,351.9 343.5,350.2 343.6,348.1 343.6,345.8 343.6,343.2 343.7,340.4 343.7,337.5 343.8,334.4 343.8,331.3 343.8,328.1 343.9,325.1 343.9,322.1 343.9,319.2 344.0,316.6 344.0,314.2 344.0,312.1 344.1,310.3 344.1,308.9 344.1,307.8 344.2,307.2 344.2,306.9 344.3,307.1 344.3,307.6 344.3,308.6 344.4,309.9 344.4,311.6 344.4,313.7 344.5,316.0 344.5,318.6 344.5,321.4 344.6,324.4 344.6,327.4 344.6,330.6 344.7,333.7 344.7,336.8 344.8,339.8 344.8,342.6 344.8,345.2 344.9,347.6 344.9,349.7 344.9,351.5 345.0,352.9 345.0,354.0 345.0,354.6 345.1,354.9 345.1,354.7 345.1,354.2 345.2,353.2 345.2,351.8 345.3,350.1 345.3,348.1 345.3,345.8 345.4,343.2 345.4,340.4 345.4,337.4 345.5,334.3 345.5,331.2 345.5,328.1 345.6,325.0 345.6,322.0 345.6,319.2 345.7,316.5 345.7,314.1 345.8,312.0 345.8,310.3 345.8,308.8 345.9,307.8 345.9,307.1 345.9,306.9 346.0,307.1 346.0,307.6 346.0,308.6 346.1,310.0 346.1,311.7 346.2,313.7 346.2,316.1 346.2,318.7 346.3,321.5 346.3,324.4 346.3,327.5 346.4,330.6 346.4,333.8 346.4,336.8 346.5,339.8 346.5,342.7 346.5,345.3 346.6,347.7 346.6,349.8 346.7,351.5 346.7,353.0 346.7,354.0 346.8,354.7 346.8,354.9 346.8,354.7 346.9,354.1 346.9,353.2 346.9,351.8 347.0,350.1 347.0,348.1 347.0,345.7 347.1,343.1 347.1,340.3 347.2,337.4 347.2,334.3 347.2,331.2 347.3,328.0 347.3,324.9 347.3,321.9 347.4,319.1 347.4,316.5 347.4,314.1 347.5,312.0 347.5,310.2 347.5,308.8 347.6,307.8 347.6,307.1 347.7,306.9 347.7,307.1 347.7,307.7 347.8,308.6 347.8,310.0 347.8,311.7 347.9,313.8 347.9,316.1 347.9,318.7 348.0,321.5 348.0,324.5 348.0,327.5 348.1,330.7 348.1,333.8 348.2,336.9 348.2,339.9 348.2,342.7 348.3,345.3 348.3,347.7 348.3,349.8 348.4,351.6 348.4,353.0 348.4,354.0 348.5,354.7 348.5,354.9 348.5,354.7 348.6,354.1 348.6,353.1 348.7,351.8 348.7,350.1 348.7,348.0 348.8,345.7 348.8,343.1 348.8,340.3 348.9,337.3 348.9,334.2 348.9,331.1 349.0,328.0 349.0,324.9 349.1,321.9 349.1,319.1 349.1,316.4 349.2,314.1 349.2,312.0 349.2,310.2 349.3,308.8 349.3,307.8 349.3,307.1 349.4,306.9 349.4,307.1 349.4,307.7 349.5,308.7 349.5,310.0 349.6,311.8 349.6,313.8 349.6,316.2 349.7,318.8 349.7,321.6 349.7,324.5 349.8,327.6 349.8,330.7 349.8,333.9 349.9,337.0 349.9,339.9 349.9,342.8 350.0,345.4 350.0,347.8 350.1,349.9 350.1,351.6 350.1,353.0 350.2,354.0 350.2,354.7 350.2,354.9 350.3,354.7 350.3,354.1 350.3,353.1 350.4,351.8 350.4,350.0 350.4,348.0 350.5,345.6 350.5,343.0 350.6,340.2 350.6,337.2 350.6,334.2 350.7,331.0 350.7,327.9 350.7,324.8 350.8,321.8 350.8,319.0 350.8,316.4 350.9,314.0 350.9,311.9 350.9,310.2 351.0,308.8 351.0,307.7 351.1,307.1 351.1,306.9 351.1,307.1 351.2,307.7 351.2,308.7 351.2,310.1 351.3,311.8 351.3,313.9 351.3,316.2 351.4,318.8 351.4,321.6 351.5,324.6 351.5,327.7 351.5,330.8 351.6,333.9 351.6,337.0 351.6,340.0 351.7,342.8 351.7,345.4 351.7,347.8 351.8,349.9 351.8,351.6 351.8,353.0 351.9,354.1 351.9,354.7 352.0,354.9 352.0,354.7 352.0,354.1 352.1,353.1 352.1,351.7 352.1,350.0 352.2,347.9 352.2,345.6 352.2,343.0 352.3,340.1 352.3,337.2 352.3,334.1 352.4,331.0 352.4,327.8 352.5,324.7 352.5,321.8 352.5,318.9 352.6,316.3 352.6,314.0 352.6,311.9 352.7,310.1 352.7,308.7 352.7,307.7 352.8,307.1 352.8,306.9 352.8,307.1 352.9,307.7 352.9,308.7 353.0,310.1 353.0,311.8 353.0,313.9 353.1,316.3 353.1,318.9 353.1,321.7 353.2,324.7 353.2,327.7 353.2,330.9 353.3,334.0 353.3,337.1 353.3,340.1 353.4,342.9 353.4,345.5 353.5,347.9 353.5,349.9 353.5,351.7 353.6,353.1 353.6,354.1 353.6,354.7 353.7,354.9 353.7,354.7 353.7,354.1 353.8,353.1 353.8,351.7 353.8,349.9 353.9,347.9 353.9,345.5 354.0,342.9 354.0,340.1 354.0,337.1 354.1,334.0 354.1,330.9" fill="none"/></defs>
<path d="M268.2,306.9 L269.7,306.9 L271.1,306.9 L272.6,306.9 L274.0,306.9 L275.5,306.9 L276.9,306.9 L278.4,306.9 L279.8,306.9 L281.3,306.9 L282.8,306.9 L284.2,306.9 L285.7,306.9 L287.1,306.9 L288.6,306.9 L290.0,306.9 L291.5,306.9 L293.0,306.9 L294.4,306.9 L295.9,306.9 L297.3,306.9 L298.8,306.9 L300.2,306.9 L301.7,306.9 L303.1,306.9 L304.6,306.9 L306.1,306.9 L307.5,306.9 L309.0,306.9 L310.4,306.9 L311.9,306.9 L313.3,306.9 L314.8,306.9 L316.2,306.9 L317.7,306.9 L319.2,306.9 L320.6,306.9 L322.1,306.9 L323.5,306.9 L325.0,306.9 L326.4,306.9 L327.9,306.9 L329.3,306.9 L330.8,306.9 L332.3,306.9 L333.7,306.9 L335.2,306.9 L336.6,306.9 L338.1,306.9 L339.5,306.9 L341.0,306.9 L342.5,306.9 L343.9,306.9 L345.4,306.9 L346.8,306.9 L348.3,306.9 L349.7,306.9 L351.2,306.9 L352.6,306.9 L354.1,306.9 L354.1,354.9 L352.6,354.9 L351.2,354.9 L349.7,354.9 L348.3,354.9 L346.8,354.9 L345.4,354.9 L343.9,354.9 L342.5,354.9 L341.0,354.9 L339.5,354.9 L338.1,354.9 L336.6,354.9 L335.2,354.9 L333.7,354.9 L332.3,354.9 L330.8,354.9 L329.3,354.9 L327.9,354.9 L326.4,354.9 L325.0,354.9 L323.5,354.9 L322.1,354.9 L320.6,354.9 L319.2,354.9 L317.7,354.9 L316.2,354.9 L314.8,354.9 L313.3,354.9 L311.9,354.9 L310.4,354.9 L309.0,354.9 L307.5,354.9 L306.1,354.9 L304.6,354.9 L303.1,354.9 L301.7,354.9 L300.2,354.9 L298.8,354.9 L297.3,354.9 L295.9,354.9 L294.4,354.9 L293.0,354.9 L291.5,354.9 L290.0,354.9 L288.6,354.9 L287.1,354.9 L285.7,354.9 L284.2,354.9 L282.8,354.9 L281.3,354.9 L279.8,354.9 L278.4,354.9 L276.9,354.9 L275.5,354.9 L274.0,354.9 L272.6,354.9 L271.1,354.9 L269.7,354.9 L268.2,354.9Z" fill="#a3aaf6"/>
<use href="#sigh" stroke="#2f3ef2" stroke-width="0.95"/>
<clipPath id="cliph"><path d="M268.20,319.42 L268.49,317.65 L268.77,315.95 L269.06,314.35 L269.35,312.85 L269.64,311.46 L269.92,310.20 L270.21,309.08 L270.50,308.09 L270.79,307.26 L271.07,306.58 L271.36,306.06 L271.65,305.71 L271.93,305.53 L272.22,305.51 L272.51,305.67 L272.80,305.99 L273.08,306.48 L273.37,307.13 L273.66,307.93 L273.95,308.89 L274.23,309.99 L274.52,311.23 L274.81,312.59 L275.09,314.07 L275.38,315.66 L275.67,317.34 L275.96,319.10 L276.24,320.93 L276.53,322.81 L276.82,324.74 L277.11,326.69 L277.39,328.65 L277.68,330.61 L277.97,332.56 L278.26,334.47 L278.54,336.33 L278.83,338.14 L279.12,339.87 L279.40,341.52 L279.69,343.07 L279.98,344.51 L280.27,345.83 L280.55,347.02 L280.84,348.07 L281.13,348.97 L281.42,349.72 L281.70,350.32 L281.99,350.74 L282.28,351.01 L282.56,351.10 L282.85,351.02 L283.14,350.78 L283.43,350.37 L283.71,349.79 L284.00,349.06 L284.29,348.17 L284.58,347.14 L284.86,345.96 L285.15,344.65 L285.44,343.23 L285.72,341.69 L286.01,340.05 L286.30,338.33 L286.59,336.53 L286.87,334.67 L287.16,332.76 L287.45,330.82 L287.74,328.86 L288.02,326.89 L288.31,324.94 L288.60,323.01 L288.88,321.12 L289.17,319.29 L289.46,317.52 L289.75,315.83 L290.03,314.24 L290.32,312.74 L290.61,311.37 L290.90,310.12 L291.18,309.00 L291.47,308.03 L291.76,307.20 L292.05,306.54 L292.33,306.03 L292.62,305.69 L292.91,305.52 L293.19,305.52 L293.48,305.69 L293.77,306.02 L294.06,306.52 L294.34,307.18 L294.63,308.00 L294.92,308.97 L295.21,310.08 L295.49,311.32 L295.78,312.70 L296.07,314.19 L296.35,315.78 L296.64,317.47 L296.93,319.23 L297.22,321.07 L297.50,322.95 L297.79,324.88 L298.08,326.83 L298.37,328.80 L298.65,330.76 L298.94,332.70 L299.23,334.61 L299.51,336.47 L299.80,338.27 L300.09,340.00 L300.38,341.64 L300.66,343.18 L300.95,344.61 L301.24,345.92 L301.53,347.10 L301.81,348.14 L302.10,349.03 L302.39,349.77 L302.67,350.35 L302.96,350.77 L303.25,351.02 L303.54,351.10 L303.82,351.01 L304.11,350.76 L304.40,350.33 L304.69,349.75 L304.97,349.00 L305.26,348.10 L305.55,347.05 L305.84,345.87 L306.12,344.55 L306.41,343.12 L306.70,341.57 L306.98,339.93 L307.27,338.20 L307.56,336.39 L307.85,334.53 L308.13,332.62 L308.42,330.67 L308.71,328.71 L309.00,326.75 L309.28,324.80 L309.57,322.87 L309.86,320.99 L310.14,319.16 L310.43,317.39 L310.72,315.71 L311.01,314.12 L311.29,312.64 L311.58,311.27 L311.87,310.03 L312.16,308.92 L312.44,307.96 L312.73,307.15 L313.02,306.50 L313.30,306.00 L313.59,305.68 L313.88,305.52 L314.17,305.53 L314.45,305.70 L314.74,306.05 L315.03,306.56 L315.32,307.24 L315.60,308.06 L315.89,309.04 L316.18,310.16 L316.46,311.42 L316.75,312.80 L317.04,314.30 L317.33,315.90 L317.61,317.59 L317.90,319.36 L318.19,321.20 L318.48,323.09 L318.76,325.02 L319.05,326.98 L319.34,328.94 L319.63,330.90 L319.91,332.84 L320.20,334.74 L320.49,336.60 L320.77,338.40 L321.06,340.12 L321.35,341.75 L321.64,343.29 L321.92,344.71 L322.21,346.01 L322.50,347.18 L322.79,348.21 L323.07,349.09 L323.36,349.82 L323.65,350.39 L323.93,350.79 L324.22,351.03 L324.51,351.10 L324.80,351.00 L325.08,350.73 L325.37,350.29 L325.66,349.70 L325.95,348.94 L326.23,348.03 L326.52,346.97 L326.81,345.78 L327.09,344.45 L327.38,343.01 L327.67,341.45 L327.96,339.80 L328.24,338.07 L328.53,336.26 L328.82,334.39 L329.11,332.48 L329.39,330.53 L329.68,328.57 L329.97,326.61 L330.25,324.66 L330.54,322.73 L330.83,320.85 L331.12,319.03 L331.40,317.27 L331.69,315.59 L331.98,314.01 L332.27,312.53 L332.55,311.18 L332.84,309.94 L333.13,308.85 L333.42,307.90 L333.70,307.10 L333.99,306.45 L334.28,305.97 L334.56,305.66 L334.85,305.51 L335.14,305.53 L335.43,305.72 L335.71,306.08 L336.00,306.61 L336.29,307.29 L336.58,308.13 L336.86,309.12 L337.15,310.25 L337.44,311.52 L337.72,312.91 L338.01,314.41 L338.30,316.02 L338.59,317.72 L338.87,319.50 L339.16,321.34 L339.45,323.23 L339.74,325.16 L340.02,327.12 L340.31,329.08 L340.60,331.04 L340.88,332.98 L341.17,334.88 L341.46,336.74 L341.75,338.53 L342.03,340.24 L342.32,341.87 L342.61,343.40 L342.90,344.81 L343.18,346.10 L343.47,347.26 L343.76,348.28 L344.04,349.15 L344.33,349.87 L344.62,350.42 L344.91,350.82 L345.19,351.04 L345.48,351.10 L345.77,350.98 L346.06,350.70 L346.34,350.26 L346.63,349.65 L346.92,348.88 L347.21,347.96 L347.49,346.89 L347.78,345.68 L348.07,344.35 L348.35,342.90 L348.64,341.34 L348.93,339.68 L349.22,337.94 L349.50,336.12 L349.79,334.25 L350.08,332.33 L350.37,330.39 L350.65,328.43 L350.94,326.46 L351.23,324.52 L351.51,322.60 L351.80,320.72 L352.09,318.89 L352.38,317.14 L352.66,315.47 L352.95,313.90 L353.24,312.43 L353.53,311.08 L353.81,309.86 L354.10,308.77 L354.10,313.97 L353.81,315.06 L353.53,316.28 L353.24,317.63 L352.95,319.10 L352.66,320.67 L352.38,322.34 L352.09,324.09 L351.80,325.92 L351.51,327.80 L351.23,329.72 L350.94,331.66 L350.65,333.63 L350.37,335.59 L350.08,337.53 L349.79,339.45 L349.50,341.32 L349.22,343.14 L348.93,344.88 L348.64,346.54 L348.35,348.10 L348.07,349.55 L347.78,350.88 L347.49,352.09 L347.21,353.16 L346.92,354.08 L346.63,354.85 L346.34,355.46 L346.06,355.90 L345.77,356.18 L345.48,356.30 L345.19,356.24 L344.91,356.02 L344.62,355.62 L344.33,355.07 L344.04,354.35 L343.76,353.48 L343.47,352.46 L343.18,351.30 L342.90,350.01 L342.61,348.60 L342.32,347.07 L342.03,345.44 L341.75,343.73 L341.46,341.94 L341.17,340.08 L340.88,338.18 L340.60,336.24 L340.31,334.28 L340.02,332.32 L339.74,330.36 L339.45,328.43 L339.16,326.54 L338.87,324.70 L338.59,322.92 L338.30,321.22 L338.01,319.61 L337.72,318.11 L337.44,316.72 L337.15,315.45 L336.86,314.32 L336.58,313.33 L336.29,312.49 L336.00,311.81 L335.71,311.28 L335.43,310.92 L335.14,310.73 L334.85,310.71 L334.56,310.86 L334.28,311.17 L333.99,311.65 L333.70,312.30 L333.42,313.10 L333.13,314.05 L332.84,315.14 L332.55,316.38 L332.27,317.73 L331.98,319.21 L331.69,320.79 L331.40,322.47 L331.12,324.23 L330.83,326.05 L330.54,327.93 L330.25,329.86 L329.97,331.81 L329.68,333.77 L329.39,335.73 L329.11,337.68 L328.82,339.59 L328.53,341.46 L328.24,343.27 L327.96,345.00 L327.67,346.65 L327.38,348.21 L327.09,349.65 L326.81,350.98 L326.52,352.17 L326.23,353.23 L325.95,354.14 L325.66,354.90 L325.37,355.49 L325.08,355.93 L324.80,356.20 L324.51,356.30 L324.22,356.23 L323.93,355.99 L323.65,355.59 L323.36,355.02 L323.07,354.29 L322.79,353.41 L322.50,352.38 L322.21,351.21 L321.92,349.91 L321.64,348.49 L321.35,346.95 L321.06,345.32 L320.77,343.60 L320.49,341.80 L320.20,339.94 L319.91,338.04 L319.63,336.10 L319.34,334.14 L319.05,332.18 L318.76,330.22 L318.48,328.29 L318.19,326.40 L317.90,324.56 L317.61,322.79 L317.33,321.10 L317.04,319.50 L316.75,318.00 L316.46,316.62 L316.18,315.36 L315.89,314.24 L315.60,313.26 L315.32,312.44 L315.03,311.76 L314.74,311.25 L314.45,310.90 L314.17,310.73 L313.88,310.72 L313.59,310.88 L313.30,311.20 L313.02,311.70 L312.73,312.35 L312.44,313.16 L312.16,314.12 L311.87,315.23 L311.58,316.47 L311.29,317.84 L311.01,319.32 L310.72,320.91 L310.43,322.59 L310.14,324.36 L309.86,326.19 L309.57,328.07 L309.28,330.00 L309.00,331.95 L308.71,333.91 L308.42,335.87 L308.13,337.82 L307.85,339.73 L307.56,341.59 L307.27,343.40 L306.98,345.13 L306.70,346.77 L306.41,348.32 L306.12,349.75 L305.84,351.07 L305.55,352.25 L305.26,353.30 L304.97,354.20 L304.69,354.95 L304.40,355.53 L304.11,355.96 L303.82,356.21 L303.54,356.30 L303.25,356.22 L302.96,355.97 L302.67,355.55 L302.39,354.97 L302.10,354.23 L301.81,353.34 L301.53,352.30 L301.24,351.12 L300.95,349.81 L300.66,348.38 L300.38,346.84 L300.09,345.20 L299.80,343.47 L299.51,341.67 L299.23,339.81 L298.94,337.90 L298.65,335.96 L298.37,334.00 L298.08,332.03 L297.79,330.08 L297.50,328.15 L297.22,326.27 L296.93,324.43 L296.64,322.67 L296.35,320.98 L296.07,319.39 L295.78,317.90 L295.49,316.52 L295.21,315.28 L294.92,314.17 L294.63,313.20 L294.34,312.38 L294.06,311.72 L293.77,311.22 L293.48,310.89 L293.19,310.72 L292.91,310.72 L292.62,310.89 L292.33,311.23 L292.05,311.74 L291.76,312.40 L291.47,313.23 L291.18,314.20 L290.90,315.32 L290.61,316.57 L290.32,317.94 L290.03,319.44 L289.75,321.03 L289.46,322.72 L289.17,324.49 L288.88,326.32 L288.60,328.21 L288.31,330.14 L288.02,332.09 L287.74,334.06 L287.45,336.02 L287.16,337.96 L286.87,339.87 L286.59,341.73 L286.30,343.53 L286.01,345.25 L285.72,346.89 L285.44,348.43 L285.15,349.85 L284.86,351.16 L284.58,352.34 L284.29,353.37 L284.00,354.26 L283.71,354.99 L283.43,355.57 L283.14,355.98 L282.85,356.22 L282.56,356.30 L282.28,356.21 L281.99,355.94 L281.70,355.52 L281.42,354.92 L281.13,354.17 L280.84,353.27 L280.55,352.22 L280.27,351.03 L279.98,349.71 L279.69,348.27 L279.40,346.72 L279.12,345.07 L278.83,343.34 L278.54,341.53 L278.26,339.67 L277.97,337.76 L277.68,335.81 L277.39,333.85 L277.11,331.89 L276.82,329.94 L276.53,328.01 L276.24,326.13 L275.96,324.30 L275.67,322.54 L275.38,320.86 L275.09,319.27 L274.81,317.79 L274.52,316.43 L274.23,315.19 L273.95,314.09 L273.66,313.13 L273.37,312.33 L273.08,311.68 L272.80,311.19 L272.51,310.87 L272.22,310.71 L271.93,310.73 L271.65,310.91 L271.36,311.26 L271.07,311.78 L270.79,312.46 L270.50,313.29 L270.21,314.28 L269.92,315.40 L269.64,316.66 L269.35,318.05 L269.06,319.55 L268.77,321.15 L268.49,322.85 L268.20,324.62Z M268.20,337.18 L268.49,338.95 L268.77,340.65 L269.06,342.25 L269.35,343.75 L269.64,345.14 L269.92,346.40 L270.21,347.52 L270.50,348.51 L270.79,349.34 L271.07,350.02 L271.36,350.54 L271.65,350.89 L271.93,351.07 L272.22,351.09 L272.51,350.93 L272.80,350.61 L273.08,350.12 L273.37,349.47 L273.66,348.67 L273.95,347.71 L274.23,346.61 L274.52,345.37 L274.81,344.01 L275.09,342.53 L275.38,340.94 L275.67,339.26 L275.96,337.50 L276.24,335.67 L276.53,333.79 L276.82,331.86 L277.11,329.91 L277.39,327.95 L277.68,325.99 L277.97,324.04 L278.26,322.13 L278.54,320.27 L278.83,318.46 L279.12,316.73 L279.40,315.08 L279.69,313.53 L279.98,312.09 L280.27,310.77 L280.55,309.58 L280.84,308.53 L281.13,307.63 L281.42,306.88 L281.70,306.28 L281.99,305.86 L282.28,305.59 L282.56,305.50 L282.85,305.58 L283.14,305.82 L283.43,306.23 L283.71,306.81 L284.00,307.54 L284.29,308.43 L284.58,309.46 L284.86,310.64 L285.15,311.95 L285.44,313.37 L285.72,314.91 L286.01,316.55 L286.30,318.27 L286.59,320.07 L286.87,321.93 L287.16,323.84 L287.45,325.78 L287.74,327.74 L288.02,329.71 L288.31,331.66 L288.60,333.59 L288.88,335.48 L289.17,337.31 L289.46,339.08 L289.75,340.77 L290.03,342.36 L290.32,343.86 L290.61,345.23 L290.90,346.48 L291.18,347.60 L291.47,348.57 L291.76,349.40 L292.05,350.06 L292.33,350.57 L292.62,350.91 L292.91,351.08 L293.19,351.08 L293.48,350.91 L293.77,350.58 L294.06,350.08 L294.34,349.42 L294.63,348.60 L294.92,347.63 L295.21,346.52 L295.49,345.28 L295.78,343.90 L296.07,342.41 L296.35,340.82 L296.64,339.13 L296.93,337.37 L297.22,335.53 L297.50,333.65 L297.79,331.72 L298.08,329.77 L298.37,327.80 L298.65,325.84 L298.94,323.90 L299.23,321.99 L299.51,320.13 L299.80,318.33 L300.09,316.60 L300.38,314.96 L300.66,313.42 L300.95,311.99 L301.24,310.68 L301.53,309.50 L301.81,308.46 L302.10,307.57 L302.39,306.83 L302.67,306.25 L302.96,305.83 L303.25,305.58 L303.54,305.50 L303.82,305.59 L304.11,305.84 L304.40,306.27 L304.69,306.85 L304.97,307.60 L305.26,308.50 L305.55,309.55 L305.84,310.73 L306.12,312.05 L306.41,313.48 L306.70,315.03 L306.98,316.67 L307.27,318.40 L307.56,320.21 L307.85,322.07 L308.13,323.98 L308.42,325.93 L308.71,327.89 L309.00,329.85 L309.28,331.80 L309.57,333.73 L309.86,335.61 L310.14,337.44 L310.43,339.21 L310.72,340.89 L311.01,342.48 L311.29,343.96 L311.58,345.33 L311.87,346.57 L312.16,347.68 L312.44,348.64 L312.73,349.45 L313.02,350.10 L313.30,350.60 L313.59,350.92 L313.88,351.08 L314.17,351.07 L314.45,350.90 L314.74,350.55 L315.03,350.04 L315.32,349.36 L315.60,348.54 L315.89,347.56 L316.18,346.44 L316.46,345.18 L316.75,343.80 L317.04,342.30 L317.33,340.70 L317.61,339.01 L317.90,337.24 L318.19,335.40 L318.48,333.51 L318.76,331.58 L319.05,329.62 L319.34,327.66 L319.63,325.70 L319.91,323.76 L320.20,321.86 L320.49,320.00 L320.77,318.20 L321.06,316.48 L321.35,314.85 L321.64,313.31 L321.92,311.89 L322.21,310.59 L322.50,309.42 L322.79,308.39 L323.07,307.51 L323.36,306.78 L323.65,306.21 L323.93,305.81 L324.22,305.57 L324.51,305.50 L324.80,305.60 L325.08,305.87 L325.37,306.31 L325.66,306.90 L325.95,307.66 L326.23,308.57 L326.52,309.63 L326.81,310.82 L327.09,312.15 L327.38,313.59 L327.67,315.15 L327.96,316.80 L328.24,318.53 L328.53,320.34 L328.82,322.21 L329.11,324.12 L329.39,326.07 L329.68,328.03 L329.97,329.99 L330.25,331.94 L330.54,333.87 L330.83,335.75 L331.12,337.57 L331.40,339.33 L331.69,341.01 L331.98,342.59 L332.27,344.07 L332.55,345.42 L332.84,346.66 L333.13,347.75 L333.42,348.70 L333.70,349.50 L333.99,350.15 L334.28,350.63 L334.56,350.94 L334.85,351.09 L335.14,351.07 L335.43,350.88 L335.71,350.52 L336.00,349.99 L336.29,349.31 L336.58,348.47 L336.86,347.48 L337.15,346.35 L337.44,345.08 L337.72,343.69 L338.01,342.19 L338.30,340.58 L338.59,338.88 L338.87,337.10 L339.16,335.26 L339.45,333.37 L339.74,331.44 L340.02,329.48 L340.31,327.52 L340.60,325.56 L340.88,323.62 L341.17,321.72 L341.46,319.86 L341.75,318.07 L342.03,316.36 L342.32,314.73 L342.61,313.20 L342.90,311.79 L343.18,310.50 L343.47,309.34 L343.76,308.32 L344.04,307.45 L344.33,306.73 L344.62,306.18 L344.91,305.78 L345.19,305.56 L345.48,305.50 L345.77,305.62 L346.06,305.90 L346.34,306.34 L346.63,306.95 L346.92,307.72 L347.21,308.64 L347.49,309.71 L347.78,310.92 L348.07,312.25 L348.35,313.70 L348.64,315.26 L348.93,316.92 L349.22,318.66 L349.50,320.48 L349.79,322.35 L350.08,324.27 L350.37,326.21 L350.65,328.17 L350.94,330.14 L351.23,332.08 L351.51,334.00 L351.80,335.88 L352.09,337.71 L352.38,339.46 L352.66,341.13 L352.95,342.70 L353.24,344.17 L353.53,345.52 L353.81,346.74 L354.10,347.83 L354.10,353.03 L353.81,351.94 L353.53,350.72 L353.24,349.37 L352.95,347.90 L352.66,346.33 L352.38,344.66 L352.09,342.91 L351.80,341.08 L351.51,339.20 L351.23,337.28 L350.94,335.34 L350.65,333.37 L350.37,331.41 L350.08,329.47 L349.79,327.55 L349.50,325.68 L349.22,323.86 L348.93,322.12 L348.64,320.46 L348.35,318.90 L348.07,317.45 L347.78,316.12 L347.49,314.91 L347.21,313.84 L346.92,312.92 L346.63,312.15 L346.34,311.54 L346.06,311.10 L345.77,310.82 L345.48,310.70 L345.19,310.76 L344.91,310.98 L344.62,311.38 L344.33,311.93 L344.04,312.65 L343.76,313.52 L343.47,314.54 L343.18,315.70 L342.90,316.99 L342.61,318.40 L342.32,319.93 L342.03,321.56 L341.75,323.27 L341.46,325.06 L341.17,326.92 L340.88,328.82 L340.60,330.76 L340.31,332.72 L340.02,334.68 L339.74,336.64 L339.45,338.57 L339.16,340.46 L338.87,342.30 L338.59,344.08 L338.30,345.78 L338.01,347.39 L337.72,348.89 L337.44,350.28 L337.15,351.55 L336.86,352.68 L336.58,353.67 L336.29,354.51 L336.00,355.19 L335.71,355.72 L335.43,356.08 L335.14,356.27 L334.85,356.29 L334.56,356.14 L334.28,355.83 L333.99,355.35 L333.70,354.70 L333.42,353.90 L333.13,352.95 L332.84,351.86 L332.55,350.62 L332.27,349.27 L331.98,347.79 L331.69,346.21 L331.40,344.53 L331.12,342.77 L330.83,340.95 L330.54,339.07 L330.25,337.14 L329.97,335.19 L329.68,333.23 L329.39,331.27 L329.11,329.32 L328.82,327.41 L328.53,325.54 L328.24,323.73 L327.96,322.00 L327.67,320.35 L327.38,318.79 L327.09,317.35 L326.81,316.02 L326.52,314.83 L326.23,313.77 L325.95,312.86 L325.66,312.10 L325.37,311.51 L325.08,311.07 L324.80,310.80 L324.51,310.70 L324.22,310.77 L323.93,311.01 L323.65,311.41 L323.36,311.98 L323.07,312.71 L322.79,313.59 L322.50,314.62 L322.21,315.79 L321.92,317.09 L321.64,318.51 L321.35,320.05 L321.06,321.68 L320.77,323.40 L320.49,325.20 L320.20,327.06 L319.91,328.96 L319.63,330.90 L319.34,332.86 L319.05,334.82 L318.76,336.78 L318.48,338.71 L318.19,340.60 L317.90,342.44 L317.61,344.21 L317.33,345.90 L317.04,347.50 L316.75,349.00 L316.46,350.38 L316.18,351.64 L315.89,352.76 L315.60,353.74 L315.32,354.56 L315.03,355.24 L314.74,355.75 L314.45,356.10 L314.17,356.27 L313.88,356.28 L313.59,356.12 L313.30,355.80 L313.02,355.30 L312.73,354.65 L312.44,353.84 L312.16,352.88 L311.87,351.77 L311.58,350.53 L311.29,349.16 L311.01,347.68 L310.72,346.09 L310.43,344.41 L310.14,342.64 L309.86,340.81 L309.57,338.93 L309.28,337.00 L309.00,335.05 L308.71,333.09 L308.42,331.13 L308.13,329.18 L307.85,327.27 L307.56,325.41 L307.27,323.60 L306.98,321.87 L306.70,320.23 L306.41,318.68 L306.12,317.25 L305.84,315.93 L305.55,314.75 L305.26,313.70 L304.97,312.80 L304.69,312.05 L304.40,311.47 L304.11,311.04 L303.82,310.79 L303.54,310.70 L303.25,310.78 L302.96,311.03 L302.67,311.45 L302.39,312.03 L302.10,312.77 L301.81,313.66 L301.53,314.70 L301.24,315.88 L300.95,317.19 L300.66,318.62 L300.38,320.16 L300.09,321.80 L299.80,323.53 L299.51,325.33 L299.23,327.19 L298.94,329.10 L298.65,331.04 L298.37,333.00 L298.08,334.97 L297.79,336.92 L297.50,338.85 L297.22,340.73 L296.93,342.57 L296.64,344.33 L296.35,346.02 L296.07,347.61 L295.78,349.10 L295.49,350.48 L295.21,351.72 L294.92,352.83 L294.63,353.80 L294.34,354.62 L294.06,355.28 L293.77,355.78 L293.48,356.11 L293.19,356.28 L292.91,356.28 L292.62,356.11 L292.33,355.77 L292.05,355.26 L291.76,354.60 L291.47,353.77 L291.18,352.80 L290.90,351.68 L290.61,350.43 L290.32,349.06 L290.03,347.56 L289.75,345.97 L289.46,344.28 L289.17,342.51 L288.88,340.68 L288.60,338.79 L288.31,336.86 L288.02,334.91 L287.74,332.94 L287.45,330.98 L287.16,329.04 L286.87,327.13 L286.59,325.27 L286.30,323.47 L286.01,321.75 L285.72,320.11 L285.44,318.57 L285.15,317.15 L284.86,315.84 L284.58,314.66 L284.29,313.63 L284.00,312.74 L283.71,312.01 L283.43,311.43 L283.14,311.02 L282.85,310.78 L282.56,310.70 L282.28,310.79 L281.99,311.06 L281.70,311.48 L281.42,312.08 L281.13,312.83 L280.84,313.73 L280.55,314.78 L280.27,315.97 L279.98,317.29 L279.69,318.73 L279.40,320.28 L279.12,321.93 L278.83,323.66 L278.54,325.47 L278.26,327.33 L277.97,329.24 L277.68,331.19 L277.39,333.15 L277.11,335.11 L276.82,337.06 L276.53,338.99 L276.24,340.87 L275.96,342.70 L275.67,344.46 L275.38,346.14 L275.09,347.73 L274.81,349.21 L274.52,350.57 L274.23,351.81 L273.95,352.91 L273.66,353.87 L273.37,354.67 L273.08,355.32 L272.80,355.81 L272.51,356.13 L272.22,356.29 L271.93,356.27 L271.65,356.09 L271.36,355.74 L271.07,355.22 L270.79,354.54 L270.50,353.71 L270.21,352.72 L269.92,351.60 L269.64,350.34 L269.35,348.95 L269.06,347.45 L268.77,345.85 L268.49,344.15 L268.20,342.38Z"/></clipPath>
<use href="#sigh" stroke="#0000ff" stroke-width="1.1" clip-path="url(#cliph)"/>
<rect x="448.80" y="303.20" width="89.00" height="55.40" fill="#fff" stroke="#a6a6a6" stroke-width="1"/>
<text x="446.90" y="308.40" class="tk" text-anchor="end">2</text>
<text x="446.90" y="333.30" class="tk" text-anchor="end">0</text>
<text x="446.90" y="357.30" class="tk" text-anchor="end">-2</text>
<text x="448.50" y="364.80" class="tk" text-anchor="middle">0</text>
<text x="492.20" y="364.80" class="tk" text-anchor="middle">5</text>
<text x="534.90" y="364.80" class="tk" text-anchor="middle">10</text>
<text x="493.30" y="374.50" class="ax7" text-anchor="middle">Time (s)</text>
<text transform="translate(438.30,331.50) rotate(-90)" class="av" text-anchor="middle">Amplitude (v)</text>
<path d="M448.9,306.9 L449.3,306.9 L449.8,307.0 L450.2,307.0 L450.6,307.0 L451.1,307.0 L451.5,307.1 L451.9,307.1 L452.4,307.1 L452.8,307.1 L453.2,307.2 L453.7,307.2 L454.1,307.2 L454.5,307.2 L455.0,307.3 L455.4,307.3 L455.8,307.3 L456.2,307.3 L456.7,307.4 L457.1,307.4 L457.5,307.4 L458.0,307.5 L458.4,307.5 L458.8,307.5 L459.3,307.5 L459.7,307.6 L460.1,307.6 L460.6,307.6 L461.0,307.6 L461.4,307.7 L461.9,307.7 L462.3,307.7 L462.7,307.7 L463.2,307.8 L463.6,307.8 L464.0,307.8 L464.5,307.8 L464.9,307.9 L465.3,307.9 L465.8,307.9 L466.2,307.9 L466.6,308.0 L467.1,308.0 L467.5,308.0 L467.9,308.0 L468.3,308.1 L468.8,308.1 L469.2,308.1 L469.6,308.1 L470.1,308.2 L470.5,308.2 L470.9,308.2 L471.4,308.2 L471.8,308.3 L472.2,308.3 L472.7,308.3 L473.1,308.3 L473.5,308.4 L474.0,308.4 L474.4,308.4 L474.8,308.4 L475.3,308.5 L475.7,308.5 L476.1,308.5 L476.6,308.5 L477.0,308.6 L477.4,308.6 L477.9,308.6 L478.3,308.6 L478.7,308.7 L479.2,308.7 L479.6,308.7 L480.0,308.7 L480.4,308.8 L480.9,308.8 L481.3,308.8 L481.7,308.8 L482.2,308.9 L482.6,308.9 L483.0,308.9 L483.5,308.9 L483.9,309.0 L484.3,309.0 L484.8,309.0 L485.2,309.0 L485.6,309.1 L486.1,309.1 L486.5,309.1 L486.9,309.1 L487.4,309.1 L487.8,309.2 L488.2,309.2 L488.7,309.2 L489.1,309.2 L489.5,309.3 L490.0,309.3 L490.4,309.3 L490.8,309.3 L491.3,309.4 L491.7,309.4 L492.1,309.4 L492.5,309.4 L493.0,309.5 L493.4,309.5 L493.8,309.5 L494.3,309.5 L494.7,309.6 L495.1,309.6 L495.6,309.6 L496.0,309.6 L496.4,309.6 L496.9,309.7 L497.3,309.7 L497.7,309.7 L498.2,309.7 L498.6,309.8 L499.0,309.8 L499.5,309.8 L499.9,309.8 L500.3,309.9 L500.8,309.9 L501.2,309.9 L501.6,309.9 L502.1,310.0 L502.5,310.0 L502.9,310.0 L503.4,310.0 L503.8,310.0 L504.2,310.1 L504.6,310.1 L505.1,310.1 L505.5,310.1 L505.9,310.2 L506.4,310.2 L506.8,310.2 L507.2,310.2 L507.7,310.3 L508.1,310.3 L508.5,310.3 L509.0,310.3 L509.4,310.3 L509.8,310.4 L510.3,310.4 L510.7,310.4 L511.1,310.4 L511.6,310.5 L512.0,310.5 L512.4,310.5 L512.9,310.5 L513.3,310.5 L513.7,310.6 L514.2,310.6 L514.6,310.6 L515.0,310.6 L515.5,310.7 L515.9,310.7 L516.3,310.7 L516.7,310.7 L517.2,310.7 L517.6,310.8 L518.0,310.8 L518.5,310.8 L518.9,310.8 L519.3,310.9 L519.8,310.9 L520.2,310.9 L520.6,310.9 L521.1,310.9 L521.5,311.0 L521.9,311.0 L522.4,311.0 L522.8,311.0 L523.2,311.1 L523.7,311.1 L524.1,311.1 L524.5,311.1 L525.0,311.1 L525.4,311.2 L525.8,311.2 L526.3,311.2 L526.7,311.2 L527.1,311.3 L527.6,311.3 L528.0,311.3 L528.4,311.3 L528.8,311.3 L529.3,311.4 L529.7,311.4 L530.1,311.4 L530.6,311.4 L531.0,311.4 L531.4,311.5 L531.9,311.5 L532.3,311.5 L532.7,311.5 L533.2,311.6 L533.6,311.6 L534.0,311.6 L534.5,311.6 L534.9,311.6 L534.9,350.2 L534.5,350.2 L534.0,350.2 L533.6,350.2 L533.2,350.2 L532.7,350.3 L532.3,350.3 L531.9,350.3 L531.4,350.3 L531.0,350.4 L530.6,350.4 L530.1,350.4 L529.7,350.4 L529.3,350.4 L528.8,350.5 L528.4,350.5 L528.0,350.5 L527.6,350.5 L527.1,350.5 L526.7,350.6 L526.3,350.6 L525.8,350.6 L525.4,350.6 L525.0,350.7 L524.5,350.7 L524.1,350.7 L523.7,350.7 L523.2,350.7 L522.8,350.8 L522.4,350.8 L521.9,350.8 L521.5,350.8 L521.1,350.9 L520.6,350.9 L520.2,350.9 L519.8,350.9 L519.3,350.9 L518.9,351.0 L518.5,351.0 L518.0,351.0 L517.6,351.0 L517.2,351.1 L516.7,351.1 L516.3,351.1 L515.9,351.1 L515.5,351.1 L515.0,351.2 L514.6,351.2 L514.2,351.2 L513.7,351.2 L513.3,351.3 L512.9,351.3 L512.4,351.3 L512.0,351.3 L511.6,351.3 L511.1,351.4 L510.7,351.4 L510.3,351.4 L509.8,351.4 L509.4,351.5 L509.0,351.5 L508.5,351.5 L508.1,351.5 L507.7,351.5 L507.2,351.6 L506.8,351.6 L506.4,351.6 L505.9,351.6 L505.5,351.7 L505.1,351.7 L504.6,351.7 L504.2,351.7 L503.8,351.8 L503.4,351.8 L502.9,351.8 L502.5,351.8 L502.1,351.8 L501.6,351.9 L501.2,351.9 L500.8,351.9 L500.3,351.9 L499.9,352.0 L499.5,352.0 L499.0,352.0 L498.6,352.0 L498.2,352.1 L497.7,352.1 L497.3,352.1 L496.9,352.1 L496.4,352.2 L496.0,352.2 L495.6,352.2 L495.1,352.2 L494.7,352.2 L494.3,352.3 L493.8,352.3 L493.4,352.3 L493.0,352.3 L492.5,352.4 L492.1,352.4 L491.7,352.4 L491.3,352.4 L490.8,352.5 L490.4,352.5 L490.0,352.5 L489.5,352.5 L489.1,352.6 L488.7,352.6 L488.2,352.6 L487.8,352.6 L487.4,352.7 L486.9,352.7 L486.5,352.7 L486.1,352.7 L485.6,352.7 L485.2,352.8 L484.8,352.8 L484.3,352.8 L483.9,352.8 L483.5,352.9 L483.0,352.9 L482.6,352.9 L482.2,352.9 L481.7,353.0 L481.3,353.0 L480.9,353.0 L480.4,353.0 L480.0,353.1 L479.6,353.1 L479.2,353.1 L478.7,353.1 L478.3,353.2 L477.9,353.2 L477.4,353.2 L477.0,353.2 L476.6,353.3 L476.1,353.3 L475.7,353.3 L475.3,353.3 L474.8,353.4 L474.4,353.4 L474.0,353.4 L473.5,353.4 L473.1,353.5 L472.7,353.5 L472.2,353.5 L471.8,353.5 L471.4,353.6 L470.9,353.6 L470.5,353.6 L470.1,353.6 L469.6,353.7 L469.2,353.7 L468.8,353.7 L468.3,353.7 L467.9,353.8 L467.5,353.8 L467.1,353.8 L466.6,353.8 L466.2,353.9 L465.8,353.9 L465.3,353.9 L464.9,353.9 L464.5,354.0 L464.0,354.0 L463.6,354.0 L463.2,354.0 L462.7,354.1 L462.3,354.1 L461.9,354.1 L461.4,354.1 L461.0,354.2 L460.6,354.2 L460.1,354.2 L459.7,354.2 L459.3,354.3 L458.8,354.3 L458.4,354.3 L458.0,354.3 L457.5,354.4 L457.1,354.4 L456.7,354.4 L456.2,354.5 L455.8,354.5 L455.4,354.5 L455.0,354.5 L454.5,354.6 L454.1,354.6 L453.7,354.6 L453.2,354.6 L452.8,354.7 L452.4,354.7 L451.9,354.7 L451.5,354.7 L451.1,354.8 L450.6,354.8 L450.2,354.8 L449.8,354.8 L449.3,354.9 L448.9,354.9Z" fill="#0a0aff"/>
<rect x="3.80" y="3.70" width="542.70" height="138.60" fill="none" stroke="#1c4fb0" stroke-width="2.2"/>
<rect x="3.80" y="144.50" width="542.70" height="138.40" fill="none" stroke="#5e1c9c" stroke-width="2.2"/>
<rect x="3.80" y="285.10" width="542.70" height="139.10" fill="none" stroke="#8a9c12" stroke-width="2.2"/>
</svg>
</body></html>
